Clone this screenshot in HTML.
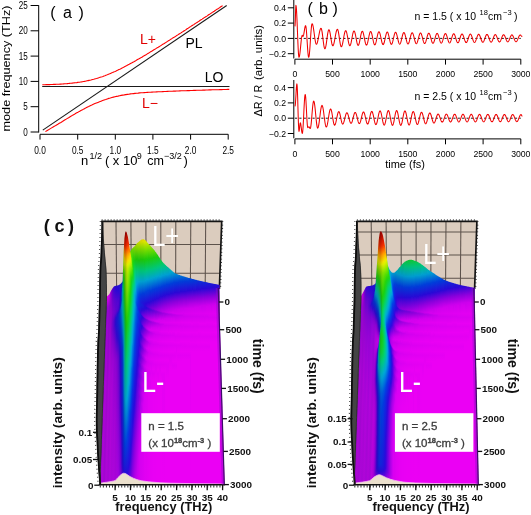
<!DOCTYPE html>
<html><head><meta charset="utf-8"><title>Figure</title>
<style>html,body{margin:0;padding:0;background:#fff}svg{display:block}</style></head>
<body>
<svg width="531" height="515" viewBox="0 0 531 515">
<defs>
<clipPath id="clipL"><path d="M99.88 479L106.38 296.25L107.12 296.25L107.62 295.75L107.88 295.75L108.38 295L108.88 294.75L109.62 293.75L110.88 291L112.38 288.5L113.88 286.5L114.12 286.5L114.62 286L115.38 286L115.62 285.75L116.38 285.75L116.62 285.5L117.62 285.5L117.88 285.25L118.38 285.25L119.38 284.75L119.88 284.25L120.12 284.25L121.62 282.75L122.38 281.5L122.62 280.5L123.62 252L124.38 238.25L125.12 233L125.38 232L125.88 231.25L126.62 232.25L127.88 236.75L130.38 251.75L131.38 249.5L132.38 248.25L132.62 248.25L133.62 247L133.88 247L134.62 246.25L137.38 242.75L137.62 242.75L141.12 239.75L141.62 239.5L142.38 239.5L142.62 239.25L143.88 239.25L144.38 239.75L145.12 240L146.12 241L148.12 243.5L149.38 244.75L149.62 244.75L149.88 245.25L154.62 250.5L155.12 251.5L156.12 252.5L156.62 253.5L157.88 255L158.62 256.5L159.12 257L160.62 259.5L163.62 263.25L164.12 263.5L164.88 264.5L165.88 265.25L166.38 266L166.62 266L167.62 267L167.88 267L169.38 268.5L169.62 268.5L170.12 269.25L170.38 269.25L171.88 270.75L172.12 270.75L172.62 271.5L173.38 271.75L173.62 272.25L174.62 273L175.62 273.5L176.12 273.5L177.12 274.25L177.88 274.25L178.38 274.75L179.12 274.75L179.38 275L179.88 275L180.38 275.5L181.12 275.5L181.38 275.75L181.88 275.75L182.88 276.25L183.62 276.25L183.88 276.5L184.38 276.5L184.62 276.75L185.12 276.75L186.12 277.25L186.88 277.25L187.12 277.5L187.62 277.5L188.62 278L189.62 278L189.88 278.25L190.38 278.25L190.62 278.5L191.38 278.5L192.38 279L193.38 279L193.62 279.25L194.12 279.25L195.12 279.75L196.12 279.75L197.12 280.25L198.12 280.25L198.38 280.5L199.12 280.5L199.38 280.75L200.12 280.75L200.38 281L201.38 281L201.62 281.25L202.38 281.25L202.62 281.5L203.38 281.5L203.62 281.75L204.62 281.75L204.88 282L207.12 282.25L208.12 282.75L209.12 282.75L209.38 283L210.38 283L210.62 283.25L211.62 283.25L211.88 283.5L212.88 283.5L213.12 283.75L214.12 283.75L214.38 284L215.62 284L215.88 284.25L216.88 284.25L217.12 284.5L218.12 284.5L218.38 284.75L219.62 284.75L219.88 325.5L224.62 484.25L224.62 484.4L99.88 484.4Z"/></clipPath>
<linearGradient id="L99" gradientUnits="userSpaceOnUse" x1="0" x2="0" y1="470.5" y2="486.5"><stop offset="0" stop-color="#9c07ce"/><stop offset="1" stop-color="#9d07ce"/></linearGradient>
<linearGradient id="L100" gradientUnits="userSpaceOnUse" x1="0" x2="0" y1="442.5" y2="486.5"><stop offset="0" stop-color="#9c07ce"/><stop offset="1" stop-color="#9e07ce"/></linearGradient>
<linearGradient id="L101" gradientUnits="userSpaceOnUse" x1="0" x2="0" y1="414.5" y2="486.5"><stop offset="0" stop-color="#9c07ce"/><stop offset=".611" stop-color="#9c07ce"/><stop offset="1" stop-color="#a906d4"/></linearGradient>
<linearGradient id="L102" gradientUnits="userSpaceOnUse" x1="0" x2="0" y1="386.5" y2="486.5"><stop offset="0" stop-color="#9d07ce"/><stop offset=".43" stop-color="#9d07ce"/><stop offset=".79" stop-color="#ac05d5"/><stop offset="1" stop-color="#ac05d6"/></linearGradient>
<linearGradient id="L103" gradientUnits="userSpaceOnUse" x1="0" x2="0" y1="358.5" y2="486.5"><stop offset="0" stop-color="#9a07cd"/><stop offset=".328" stop-color="#9d07ce"/><stop offset=".609" stop-color="#ac05d5"/><stop offset="1" stop-color="#a206d1"/></linearGradient>
<linearGradient id="L104" gradientUnits="userSpaceOnUse" x1="0" x2="0" y1="329.5" y2="486.5"><stop offset="0" stop-color="#9007cc"/><stop offset=".191" stop-color="#9307cc"/><stop offset=".497" stop-color="#ac05d4"/><stop offset=".815" stop-color="#9f06ce"/><stop offset="1" stop-color="#a406d2"/></linearGradient>
<linearGradient id="L105" gradientUnits="userSpaceOnUse" x1="0" x2="0" y1="302.5" y2="486.5"><stop offset="0" stop-color="#8507ca"/><stop offset=".223" stop-color="#8f06cb"/><stop offset=".44" stop-color="#ac05d4"/><stop offset=".755" stop-color="#9f06ce"/><stop offset="1" stop-color="#ae05d7"/></linearGradient>
<linearGradient id="L106" gradientUnits="userSpaceOnUse" x1="0" x2="0" y1="295.5" y2="486.5"><stop offset="0" stop-color="#da01ec"/><stop offset=".01" stop-color="#d801eb"/><stop offset=".068" stop-color="#8207c8"/><stop offset=".241" stop-color="#9e05d2"/><stop offset=".346" stop-color="#a605d4"/><stop offset=".602" stop-color="#9f06ce"/><stop offset=".827" stop-color="#ad05d6"/><stop offset="1" stop-color="#ac05d7"/></linearGradient>
<linearGradient id="L107" gradientUnits="userSpaceOnUse" x1="0" x2="0" y1="294.5" y2="486.5"><stop offset="0" stop-color="#e100ee"/><stop offset=".01" stop-color="#e000ed"/><stop offset=".062" stop-color="#9905d1"/><stop offset=".073" stop-color="#9306cf"/><stop offset=".182" stop-color="#9d05d1"/><stop offset=".38" stop-color="#9b06cd"/><stop offset=".708" stop-color="#ae05d6"/><stop offset="1" stop-color="#a606d4"/></linearGradient>
<linearGradient id="L108" gradientUnits="userSpaceOnUse" x1="0" x2="0" y1="293.5" y2="486.5"><stop offset="0" stop-color="#d700e9"/><stop offset=".016" stop-color="#d400e8"/><stop offset=".067" stop-color="#9904d0"/><stop offset=".093" stop-color="#9405ce"/><stop offset=".249" stop-color="#9406cc"/><stop offset=".503" stop-color="#ad04d6"/><stop offset=".824" stop-color="#a406d1"/><stop offset="1" stop-color="#aa05d6"/></linearGradient>
<linearGradient id="L109" gradientUnits="userSpaceOnUse" x1="0" x2="0" y1="291.5" y2="486.5"><stop offset="0" stop-color="#c700e2"/><stop offset=".021" stop-color="#c400e1"/><stop offset=".072" stop-color="#8e05ca"/><stop offset=".082" stop-color="#8c05c9"/><stop offset=".385" stop-color="#aa04d5"/><stop offset=".662" stop-color="#a405d1"/><stop offset="1" stop-color="#b004da"/></linearGradient>
<linearGradient id="L110" gradientUnits="userSpaceOnUse" x1="0" x2="0" y1="289.5" y2="486.5"><stop offset="0" stop-color="#a200d6"/><stop offset=".015" stop-color="#a400d7"/><stop offset=".081" stop-color="#8c04cb"/><stop offset=".371" stop-color="#a304d2"/><stop offset=".777" stop-color="#b004d8"/><stop offset="1" stop-color="#ac05d7"/></linearGradient>
<linearGradient id="L111" gradientUnits="userSpaceOnUse" x1="0" x2="0" y1="288.5" y2="486.5"><stop offset="0" stop-color="#7c00cf"/><stop offset=".136" stop-color="#8b03cd"/><stop offset=".202" stop-color="#8203ca"/><stop offset=".364" stop-color="#9c05d0"/><stop offset=".54" stop-color="#aa04d6"/><stop offset="1" stop-color="#a805d6"/></linearGradient>
<linearGradient id="L112" gradientUnits="userSpaceOnUse" x1="0" x2="0" y1="286.5" y2="486.5"><stop offset="0" stop-color="#5703cc"/><stop offset=".13" stop-color="#7e03cb"/><stop offset=".185" stop-color="#6f04ca"/><stop offset=".21" stop-color="#7004cb"/><stop offset=".34" stop-color="#9703d2"/><stop offset=".44" stop-color="#a403d6"/><stop offset="1" stop-color="#ac04d8"/></linearGradient>
<linearGradient id="L113" gradientUnits="userSpaceOnUse" x1="0" x2="0" y1="285.5" y2="486.5"><stop offset="0" stop-color="#3906ce"/><stop offset=".075" stop-color="#6404ce"/><stop offset=".129" stop-color="#7403cf"/><stop offset=".149" stop-color="#7203ce"/><stop offset=".179" stop-color="#5d04cc"/><stop offset=".214" stop-color="#5e04cc"/><stop offset=".279" stop-color="#7c03ce"/><stop offset=".373" stop-color="#9903d3"/><stop offset="1" stop-color="#ad04da"/></linearGradient>
<linearGradient id="L114" gradientUnits="userSpaceOnUse" x1="0" x2="0" y1="285.5" y2="486.5"><stop offset="0" stop-color="#2c07d1"/><stop offset=".07" stop-color="#5805d1"/><stop offset=".119" stop-color="#6b04d0"/><stop offset=".139" stop-color="#6a04cf"/><stop offset=".174" stop-color="#4506cb"/><stop offset=".199" stop-color="#4406cb"/><stop offset=".289" stop-color="#7404cc"/><stop offset=".368" stop-color="#9004d0"/><stop offset=".731" stop-color="#a803d7"/><stop offset="1" stop-color="#a805d7"/></linearGradient>
<linearGradient id="L115" gradientUnits="userSpaceOnUse" x1="0" x2="0" y1="284.5" y2="486.5"><stop offset="0" stop-color="#2608d2"/><stop offset=".015" stop-color="#2907d2"/><stop offset=".079" stop-color="#5705d0"/><stop offset=".134" stop-color="#6404ce"/><stop offset=".144" stop-color="#5c05cd"/><stop offset=".163" stop-color="#3808ca"/><stop offset=".173" stop-color="#2e0aca"/><stop offset=".198" stop-color="#2b0bcb"/><stop offset=".337" stop-color="#7c03ce"/><stop offset=".371" stop-color="#8a03d0"/><stop offset=".411" stop-color="#9003d2"/><stop offset=".639" stop-color="#9f03d4"/><stop offset="1" stop-color="#a604d6"/></linearGradient>
<linearGradient id="L116" gradientUnits="userSpaceOnUse" x1="0" x2="0" y1="284.5" y2="486.5"><stop offset="0" stop-color="#250ad2"/><stop offset=".025" stop-color="#2c07d1"/><stop offset=".074" stop-color="#4f06d1"/><stop offset=".119" stop-color="#5b05d0"/><stop offset=".134" stop-color="#5505cf"/><stop offset=".163" stop-color="#2111ce"/><stop offset=".198" stop-color="#1f13cd"/><stop offset=".248" stop-color="#3208cc"/><stop offset=".361" stop-color="#7f03d0"/><stop offset=".426" stop-color="#8a02d0"/><stop offset="1" stop-color="#aa03db"/></linearGradient>
<linearGradient id="L117" gradientUnits="userSpaceOnUse" x1="0" x2="0" y1="284.5" y2="486.5"><stop offset="0" stop-color="#230dd2"/><stop offset=".025" stop-color="#2a08d3"/><stop offset=".094" stop-color="#5605d2"/><stop offset=".129" stop-color="#5005d0"/><stop offset=".144" stop-color="#290ccc"/><stop offset=".153" stop-color="#1b16cc"/><stop offset=".188" stop-color="#161ccd"/><stop offset=".262" stop-color="#2d0acb"/><stop offset=".342" stop-color="#6704cc"/><stop offset=".381" stop-color="#7803cd"/><stop offset="1" stop-color="#a902dd"/></linearGradient>
<linearGradient id="L118" gradientUnits="userSpaceOnUse" x1="0" x2="0" y1="283.5" y2="486.5"><stop offset="0" stop-color="#210fd1"/><stop offset=".03" stop-color="#2808d2"/><stop offset=".074" stop-color="#4806d0"/><stop offset=".099" stop-color="#5005cf"/><stop offset=".123" stop-color="#4606cc"/><stop offset=".133" stop-color="#3708cb"/><stop offset=".143" stop-color="#1a18ca"/><stop offset=".153" stop-color="#1024ca"/><stop offset=".187" stop-color="#0e26cc"/><stop offset=".276" stop-color="#2410cb"/><stop offset=".365" stop-color="#6204cb"/><stop offset="1" stop-color="#a401dd"/></linearGradient>
<linearGradient id="L119" gradientUnits="userSpaceOnUse" x1="0" x2="0" y1="283.5" y2="486.5"><stop offset="0" stop-color="#1e14d0"/><stop offset=".084" stop-color="#3d06ca"/><stop offset=".118" stop-color="#2b0bc8"/><stop offset=".138" stop-color="#082dc8"/><stop offset=".153" stop-color="#0337c9"/><stop offset=".177" stop-color="#0334cb"/><stop offset=".291" stop-color="#1b15ca"/><stop offset=".355" stop-color="#3b06c9"/><stop offset=".463" stop-color="#5205cb"/><stop offset=".591" stop-color="#5d04cc"/><stop offset=".837" stop-color="#8601d2"/><stop offset=".897" stop-color="#8800d3"/><stop offset="1" stop-color="#9800dc"/></linearGradient>
<linearGradient id="L120" gradientUnits="userSpaceOnUse" x1="0" x2="0" y1="282.5" y2="486.5"><stop offset="0" stop-color="#1819ce"/><stop offset=".059" stop-color="#2110c7"/><stop offset=".108" stop-color="#141dc4"/><stop offset=".113" stop-color="#1220c4"/><stop offset=".132" stop-color="#004ec4"/><stop offset=".142" stop-color="#0051c4"/><stop offset=".225" stop-color="#0236c8"/><stop offset=".338" stop-color="#1f12c8"/><stop offset=".377" stop-color="#240dc8"/><stop offset=".569" stop-color="#3806c9"/><stop offset=".721" stop-color="#5a03cd"/><stop offset=".926" stop-color="#7600d1"/><stop offset=".961" stop-color="#8400d9"/><stop offset="1" stop-color="#8500da"/></linearGradient>
<linearGradient id="L121" gradientUnits="userSpaceOnUse" x1="0" x2="0" y1="280.5" y2="486.5"><stop offset="0" stop-color="#12c"/><stop offset=".034" stop-color="#1220c7"/><stop offset=".049" stop-color="#0d2ac4"/><stop offset=".063" stop-color="#0743c0"/><stop offset=".087" stop-color="#004abf"/><stop offset=".097" stop-color="#0143c0"/><stop offset=".121" stop-color="#0074bc"/><stop offset=".131" stop-color="#007abd"/><stop offset=".267" stop-color="#013bc6"/><stop offset=".345" stop-color="#1120c7"/><stop offset=".68" stop-color="#280ac7"/><stop offset=".845" stop-color="#4a04ca"/><stop offset=".888" stop-color="#4b04ca"/><stop offset=".947" stop-color="#6302ce"/><stop offset=".956" stop-color="#6c02d6"/><stop offset="1" stop-color="#6c02d8"/></linearGradient>
<linearGradient id="L122" gradientUnits="userSpaceOnUse" x1="0" x2="0" y1="266.5" y2="486.5"><stop offset="0" stop-color="#116d80"/><stop offset=".041" stop-color="#106d81"/><stop offset=".077" stop-color="#066d90"/><stop offset=".086" stop-color="#038a86"/><stop offset=".095" stop-color="#018e8c"/><stop offset=".1" stop-color="#009d92"/><stop offset=".123" stop-color="#008ead"/><stop offset=".145" stop-color="#0090a2"/><stop offset=".159" stop-color="#009e97"/><stop offset=".195" stop-color="#0095ac"/><stop offset=".245" stop-color="#0082ba"/><stop offset=".368" stop-color="#013bc4"/><stop offset=".395" stop-color="#0336c4"/><stop offset=".864" stop-color="#220ec5"/><stop offset=".914" stop-color="#2e08c8"/><stop offset=".945" stop-color="#4204cc"/><stop offset=".955" stop-color="#4904d6"/><stop offset="1" stop-color="#4904d6"/></linearGradient>
<linearGradient id="L123" gradientUnits="userSpaceOnUse" x1="0" x2="0" y1="241.5" y2="486.5"><stop offset="0" stop-color="#a49200"/><stop offset=".041" stop-color="#a49900"/><stop offset=".049" stop-color="#a4a900"/><stop offset=".057" stop-color="#a4a900"/><stop offset=".061" stop-color="#a0b600"/><stop offset=".082" stop-color="#97c000"/><stop offset=".098" stop-color="#82c201"/><stop offset=".102" stop-color="#72c001"/><stop offset=".11" stop-color="#6dc001"/><stop offset=".114" stop-color="#5cbd02"/><stop offset=".127" stop-color="#45b905"/><stop offset=".131" stop-color="#34b507"/><stop offset=".139" stop-color="#2bb309"/><stop offset=".159" stop-color="#10af26"/><stop offset=".184" stop-color="#05ae53"/><stop offset=".208" stop-color="#04ab5f"/><stop offset=".216" stop-color="#05ae51"/><stop offset=".224" stop-color="#06ae4f"/><stop offset=".269" stop-color="#01a972"/><stop offset=".278" stop-color="#01a971"/><stop offset=".322" stop-color="#009f91"/><stop offset=".371" stop-color="#008cae"/><stop offset=".408" stop-color="#0079b8"/><stop offset=".429" stop-color="#006ebb"/><stop offset=".461" stop-color="#0071ba"/><stop offset=".502" stop-color="#0061be"/><stop offset=".555" stop-color="#0063bd"/><stop offset=".629" stop-color="#0055bf"/><stop offset=".743" stop-color="#0336c4"/><stop offset=".902" stop-color="#1818ca"/><stop offset=".947" stop-color="#2808cd"/><stop offset=".955" stop-color="#2c08d4"/><stop offset="1" stop-color="#2c08d4"/></linearGradient>
<linearGradient id="L124" gradientUnits="userSpaceOnUse" x1="0" x2="0" y1="232.5" y2="486.5"><stop offset="0" stop-color="#a41000"/><stop offset=".02" stop-color="#a81200"/><stop offset=".043" stop-color="#be1c00"/><stop offset=".055" stop-color="#c92f00"/><stop offset=".063" stop-color="#d04900"/><stop offset=".075" stop-color="#d46b00"/><stop offset=".079" stop-color="#d46f00"/><stop offset=".087" stop-color="#d48a00"/><stop offset=".094" stop-color="#d39600"/><stop offset=".102" stop-color="#cbb000"/><stop offset=".11" stop-color="#c8b800"/><stop offset=".126" stop-color="#afc700"/><stop offset=".15" stop-color="#69bf01"/><stop offset=".169" stop-color="#42b804"/><stop offset=".181" stop-color="#33b507"/><stop offset=".209" stop-color="#32b509"/><stop offset=".24" stop-color="#22b20f"/><stop offset=".327" stop-color="#08ae46"/><stop offset=".335" stop-color="#08af46"/><stop offset=".409" stop-color="#00a77b"/><stop offset=".441" stop-color="#00a581"/><stop offset=".488" stop-color="#009b98"/><stop offset=".531" stop-color="#009a9d"/><stop offset=".634" stop-color="#0088ba"/><stop offset=".831" stop-color="#0137cd"/><stop offset=".894" stop-color="#0f26d0"/><stop offset=".949" stop-color="#240cd2"/><stop offset="1" stop-color="#240cd4"/></linearGradient>
<linearGradient id="L125" gradientUnits="userSpaceOnUse" x1="0" x2="0" y1="230.5" y2="486.5"><stop offset="0" stop-color="#8b0200"/><stop offset=".008" stop-color="#8c0100"/><stop offset=".051" stop-color="#c11a00"/><stop offset=".062" stop-color="#cf2800"/><stop offset=".09" stop-color="#d87500"/><stop offset=".105" stop-color="#d59800"/><stop offset=".121" stop-color="#cdbb00"/><stop offset=".137" stop-color="#b5c800"/><stop offset=".145" stop-color="#a1c700"/><stop offset=".164" stop-color="#84c500"/><stop offset=".23" stop-color="#54be02"/><stop offset=".34" stop-color="#19b30f"/><stop offset=".383" stop-color="#0eb22b"/><stop offset=".473" stop-color="#02b263"/><stop offset=".52" stop-color="#00b477"/><stop offset=".664" stop-color="#009ac6"/><stop offset=".832" stop-color="#003ed6"/><stop offset=".949" stop-color="#230ed4"/><stop offset="1" stop-color="#230ed4"/></linearGradient>
<linearGradient id="L126" gradientUnits="userSpaceOnUse" x1="0" x2="0" y1="230.5" y2="486.5"><stop offset="0" stop-color="#9c0300"/><stop offset=".012" stop-color="#a00400"/><stop offset=".047" stop-color="#d81c00"/><stop offset=".062" stop-color="#e62b00"/><stop offset=".082" stop-color="#ee6800"/><stop offset=".102" stop-color="#ec9a00"/><stop offset=".129" stop-color="#dbd400"/><stop offset=".137" stop-color="#d0da00"/><stop offset=".148" stop-color="#bad600"/><stop offset=".172" stop-color="#a0d400"/><stop offset=".355" stop-color="#1dc309"/><stop offset=".375" stop-color="#16c214"/><stop offset=".512" stop-color="#00c475"/><stop offset=".664" stop-color="#00a1d1"/><stop offset=".824" stop-color="#003fdc"/><stop offset=".949" stop-color="#250cd6"/><stop offset="1" stop-color="#250bd4"/></linearGradient>
<linearGradient id="L127" gradientUnits="userSpaceOnUse" x1="0" x2="0" y1="232.5" y2="486.5"><stop offset="0" stop-color="#be0f00"/><stop offset=".024" stop-color="#c91400"/><stop offset=".035" stop-color="#e21f00"/><stop offset=".047" stop-color="#f02b00"/><stop offset=".059" stop-color="#fa4d00"/><stop offset=".063" stop-color="#f95000"/><stop offset=".087" stop-color="#fe9d00"/><stop offset=".11" stop-color="#f5d400"/><stop offset=".126" stop-color="#e2eb00"/><stop offset=".142" stop-color="#c4e800"/><stop offset=".165" stop-color="#a7e400"/><stop offset=".331" stop-color="#25cf09"/><stop offset=".358" stop-color="#17cc15"/><stop offset=".398" stop-color="#0fcd39"/><stop offset=".5" stop-color="#00c97f"/><stop offset=".614" stop-color="#00aec8"/><stop offset=".646" stop-color="#00a2d6"/><stop offset=".795" stop-color="#0141e0"/><stop offset=".949" stop-color="#2a08d8"/><stop offset="1" stop-color="#2b08d4"/></linearGradient>
<linearGradient id="L128" gradientUnits="userSpaceOnUse" x1="0" x2="0" y1="235.5" y2="486.5"><stop offset="0" stop-color="#e32300"/><stop offset=".028" stop-color="#ea2700"/><stop offset=".04" stop-color="#f74200"/><stop offset=".052" stop-color="#fe6800"/><stop offset=".084" stop-color="#febf00"/><stop offset=".088" stop-color="#fec100"/><stop offset=".1" stop-color="#f6e100"/><stop offset=".116" stop-color="#d8f100"/><stop offset=".131" stop-color="#b6ed00"/><stop offset=".159" stop-color="#90e800"/><stop offset=".215" stop-color="#65e102"/><stop offset=".231" stop-color="#51de05"/><stop offset=".315" stop-color="#1cd211"/><stop offset=".371" stop-color="#0fd03a"/><stop offset=".398" stop-color="#08d156"/><stop offset=".49" stop-color="#00c692"/><stop offset=".51" stop-color="#00bfa5"/><stop offset=".586" stop-color="#00afcb"/><stop offset=".61" stop-color="#00a2d9"/><stop offset=".713" stop-color="#005ee0"/><stop offset=".789" stop-color="#0636e1"/><stop offset=".924" stop-color="#250ddb"/><stop offset=".952" stop-color="#4006da"/><stop offset="1" stop-color="#4005d5"/></linearGradient>
<linearGradient id="L129" gradientUnits="userSpaceOnUse" x1="0" x2="0" y1="241.5" y2="486.5"><stop offset="0" stop-color="#fe8100"/><stop offset=".008" stop-color="#fe8100"/><stop offset=".016" stop-color="#fc7600"/><stop offset=".029" stop-color="#ff8d00"/><stop offset=".037" stop-color="#ff8000"/><stop offset=".041" stop-color="#ff8600"/><stop offset=".049" stop-color="#ffb100"/><stop offset=".065" stop-color="#f9d600"/><stop offset=".082" stop-color="#e9eb00"/><stop offset=".09" stop-color="#d5f100"/><stop offset=".11" stop-color="#9eed00"/><stop offset=".127" stop-color="#82e900"/><stop offset=".155" stop-color="#62e303"/><stop offset=".176" stop-color="#58e004"/><stop offset=".224" stop-color="#2dd709"/><stop offset=".278" stop-color="#16d321"/><stop offset=".371" stop-color="#04d26a"/><stop offset=".412" stop-color="#00cb8b"/><stop offset=".486" stop-color="#00bcb2"/><stop offset=".498" stop-color="#00b6c2"/><stop offset=".58" stop-color="#009cdd"/><stop offset=".592" stop-color="#008ede"/><stop offset=".678" stop-color="#005de1"/><stop offset=".694" stop-color="#004ce3"/><stop offset=".776" stop-color="#0f2be1"/><stop offset=".906" stop-color="#2a0add"/><stop offset=".955" stop-color="#5304db"/><stop offset="1" stop-color="#5304d6"/></linearGradient>
<linearGradient id="L130" gradientUnits="userSpaceOnUse" x1="0" x2="0" y1="248.5" y2="486.5"><stop offset="0" stop-color="#7ec002"/><stop offset=".008" stop-color="#7ec002"/><stop offset=".013" stop-color="#7ec702"/><stop offset=".017" stop-color="#9ecc02"/><stop offset=".029" stop-color="#e9d900"/><stop offset=".038" stop-color="#efdf00"/><stop offset=".05" stop-color="#e2eb00"/><stop offset=".059" stop-color="#ccf100"/><stop offset=".063" stop-color="#bcf000"/><stop offset=".067" stop-color="#baf000"/><stop offset=".08" stop-color="#96ec00"/><stop offset=".105" stop-color="#5ce304"/><stop offset=".113" stop-color="#4adf06"/><stop offset=".126" stop-color="#3cdc08"/><stop offset=".181" stop-color="#21d611"/><stop offset=".223" stop-color="#14d428"/><stop offset=".261" stop-color="#0ad450"/><stop offset=".349" stop-color="#00cc8b"/><stop offset=".412" stop-color="#00bbb9"/><stop offset=".479" stop-color="#00aad4"/><stop offset=".508" stop-color="#0097de"/><stop offset=".668" stop-color="#0243e4"/><stop offset=".689" stop-color="#0735e4"/><stop offset=".765" stop-color="#191ee1"/><stop offset=".832" stop-color="#250fde"/><stop offset=".882" stop-color="#3707de"/><stop offset=".958" stop-color="#6802dc"/><stop offset="1" stop-color="#6702d8"/></linearGradient>
<linearGradient id="L131" gradientUnits="userSpaceOnUse" x1="0" x2="0" y1="247.5" y2="486.5"><stop offset="0" stop-color="#64ca01"/><stop offset=".033" stop-color="#55db04"/><stop offset=".038" stop-color="#5edf03"/><stop offset=".046" stop-color="#87e702"/><stop offset=".059" stop-color="#a1ea01"/><stop offset=".067" stop-color="#a3ee00"/><stop offset=".071" stop-color="#98ec01"/><stop offset=".075" stop-color="#99ed01"/><stop offset=".092" stop-color="#69e603"/><stop offset=".121" stop-color="#34da09"/><stop offset=".126" stop-color="#28d810"/><stop offset=".142" stop-color="#16d522"/><stop offset=".268" stop-color="#03d274"/><stop offset=".301" stop-color="#00c995"/><stop offset=".385" stop-color="#00b7c2"/><stop offset=".402" stop-color="#00afd0"/><stop offset=".431" stop-color="#00a2db"/><stop offset=".494" stop-color="#0085e0"/><stop offset=".506" stop-color="#0075e1"/><stop offset=".628" stop-color="#033ee4"/><stop offset=".69" stop-color="#1325e2"/><stop offset=".82" stop-color="#3208de"/><stop offset=".962" stop-color="#7e00dc"/><stop offset="1" stop-color="#7c00d9"/></linearGradient>
<linearGradient id="L132" gradientUnits="userSpaceOnUse" x1="0" x2="0" y1="246.5" y2="486.5"><stop offset="0" stop-color="#74d100"/><stop offset=".008" stop-color="#73d100"/><stop offset=".042" stop-color="#3fd506"/><stop offset=".05" stop-color="#38d607"/><stop offset=".067" stop-color="#33d909"/><stop offset=".092" stop-color="#4de008"/><stop offset=".1" stop-color="#40dd07"/><stop offset=".108" stop-color="#3edd07"/><stop offset=".129" stop-color="#1cd61f"/><stop offset=".163" stop-color="#08d55a"/><stop offset=".254" stop-color="#00c79d"/><stop offset=".296" stop-color="#00c0ae"/><stop offset=".308" stop-color="#00b9bf"/><stop offset=".375" stop-color="#00a3da"/><stop offset=".4" stop-color="#009add"/><stop offset=".417" stop-color="#0086e0"/><stop offset=".496" stop-color="#0061e3"/><stop offset=".517" stop-color="#0050e4"/><stop offset=".579" stop-color="#053ce4"/><stop offset=".596" stop-color="#0b30e3"/><stop offset=".675" stop-color="#1b1ae0"/><stop offset=".733" stop-color="#250ede"/><stop offset=".808" stop-color="#4805de"/><stop offset=".825" stop-color="#5604df"/><stop offset=".963" stop-color="#9100e1"/><stop offset="1" stop-color="#8f00dc"/></linearGradient>
<linearGradient id="L133" gradientUnits="userSpaceOnUse" x1="0" x2="0" y1="245.5" y2="486.5"><stop offset="0" stop-color="#7ed200"/><stop offset=".008" stop-color="#7ed200"/><stop offset=".05" stop-color="#2fce08"/><stop offset=".066" stop-color="#1ad012"/><stop offset=".079" stop-color="#16d222"/><stop offset=".1" stop-color="#15d52e"/><stop offset=".104" stop-color="#10d537"/><stop offset=".116" stop-color="#11d535"/><stop offset=".137" stop-color="#0ed542"/><stop offset=".17" stop-color="#01d084"/><stop offset=".191" stop-color="#00c6a0"/><stop offset=".274" stop-color="#00b2cb"/><stop offset=".307" stop-color="#00aad4"/><stop offset=".324" stop-color="#009bdd"/><stop offset=".506" stop-color="#053be4"/><stop offset=".668" stop-color="#240fde"/><stop offset=".718" stop-color="#3208de"/><stop offset=".805" stop-color="#6502df"/><stop offset=".867" stop-color="#8000df"/><stop offset=".963" stop-color="#9f00e4"/><stop offset="1" stop-color="#9e00e0"/></linearGradient>
<linearGradient id="L134" gradientUnits="userSpaceOnUse" x1="0" x2="0" y1="244.5" y2="486.5"><stop offset="0" stop-color="#8cd200"/><stop offset=".012" stop-color="#85d200"/><stop offset=".066" stop-color="#19c910"/><stop offset=".099" stop-color="#09d051"/><stop offset=".12" stop-color="#04d26c"/><stop offset=".14" stop-color="#03d07a"/><stop offset=".145" stop-color="#01cf86"/><stop offset=".161" stop-color="#01cd8b"/><stop offset=".198" stop-color="#00b5c8"/><stop offset=".211" stop-color="#00abd3"/><stop offset=".252" stop-color="#00a8d7"/><stop offset=".421" stop-color="#0048e3"/><stop offset=".504" stop-color="#1129e2"/><stop offset=".579" stop-color="#1e17df"/><stop offset=".653" stop-color="#2c09dd"/><stop offset=".694" stop-color="#3e06de"/><stop offset=".719" stop-color="#5204de"/><stop offset=".855" stop-color="#8e00e0"/><stop offset=".967" stop-color="#ae00e7"/><stop offset="1" stop-color="#ac00e3"/></linearGradient>
<linearGradient id="L135" gradientUnits="userSpaceOnUse" x1="0" x2="0" y1="243.5" y2="486.5"><stop offset="0" stop-color="#99d200"/><stop offset=".008" stop-color="#99d200"/><stop offset=".058" stop-color="#2dc608"/><stop offset=".07" stop-color="#17c411"/><stop offset=".115" stop-color="#01cc74"/><stop offset=".132" stop-color="#00c691"/><stop offset=".16" stop-color="#00bcb6"/><stop offset=".189" stop-color="#00b3cc"/><stop offset=".214" stop-color="#0092df"/><stop offset=".243" stop-color="#0080e0"/><stop offset=".251" stop-color="#008ade"/><stop offset=".259" stop-color="#0089de"/><stop offset=".325" stop-color="#005ce1"/><stop offset=".35" stop-color="#0056e1"/><stop offset=".395" stop-color="#023ee2"/><stop offset=".551" stop-color="#2311de"/><stop offset=".609" stop-color="#2d0add"/><stop offset=".77" stop-color="#7f00df"/><stop offset=".827" stop-color="#9500e2"/><stop offset=".971" stop-color="#ba00ea"/><stop offset="1" stop-color="#b800e7"/></linearGradient>
<linearGradient id="L136" gradientUnits="userSpaceOnUse" x1="0" x2="0" y1="242.5" y2="486.5"><stop offset="0" stop-color="#aad400"/><stop offset=".008" stop-color="#a9d400"/><stop offset=".037" stop-color="#61cd02"/><stop offset=".07" stop-color="#1cc20a"/><stop offset=".094" stop-color="#0cc43f"/><stop offset=".119" stop-color="#00c675"/><stop offset=".156" stop-color="#00b0be"/><stop offset=".172" stop-color="#00a7d4"/><stop offset=".201" stop-color="#0086df"/><stop offset=".213" stop-color="#007ee1"/><stop offset=".246" stop-color="#0055e2"/><stop offset=".254" stop-color="#0055e2"/><stop offset=".266" stop-color="#0067df"/><stop offset=".291" stop-color="#0055e1"/><stop offset=".307" stop-color="#0056df"/><stop offset=".324" stop-color="#004be1"/><stop offset=".385" stop-color="#0b2fe1"/><stop offset=".537" stop-color="#280bdc"/><stop offset=".553" stop-color="#3208dd"/><stop offset=".578" stop-color="#3607dd"/><stop offset=".602" stop-color="#4805de"/><stop offset=".689" stop-color="#6f02df"/><stop offset=".824" stop-color="#a300e5"/><stop offset=".971" stop-color="#c300ec"/><stop offset="1" stop-color="#c100e9"/></linearGradient>
<linearGradient id="L137" gradientUnits="userSpaceOnUse" x1="0" x2="0" y1="241.5" y2="486.5"><stop offset="0" stop-color="#b9d700"/><stop offset=".008" stop-color="#b8d700"/><stop offset=".033" stop-color="#75d200"/><stop offset=".069" stop-color="#23c508"/><stop offset=".078" stop-color="#17c310"/><stop offset=".122" stop-color="#00c679"/><stop offset=".159" stop-color="#00adc4"/><stop offset=".171" stop-color="#00a1d6"/><stop offset=".208" stop-color="#0065e0"/><stop offset=".233" stop-color="#004ce3"/><stop offset=".261" stop-color="#0638e3"/><stop offset=".286" stop-color="#0047e2"/><stop offset=".302" stop-color="#043be3"/><stop offset=".318" stop-color="#0140e1"/><stop offset=".343" stop-color="#0b2fe1"/><stop offset=".367" stop-color="#0c2ee0"/><stop offset=".392" stop-color="#1622e0"/><stop offset=".461" stop-color="#2113de"/><stop offset=".502" stop-color="#2c09dc"/><stop offset=".518" stop-color="#3a06dd"/><stop offset=".543" stop-color="#3d06dd"/><stop offset=".567" stop-color="#5205de"/><stop offset=".784" stop-color="#a600e6"/><stop offset=".918" stop-color="#c500ed"/><stop offset="1" stop-color="#ca00ec"/></linearGradient>
<linearGradient id="L138" gradientUnits="userSpaceOnUse" x1="0" x2="0" y1="240.5" y2="486.5"><stop offset="0" stop-color="#c5d900"/><stop offset=".008" stop-color="#c5d900"/><stop offset=".041" stop-color="#6ed200"/><stop offset=".081" stop-color="#17c210"/><stop offset=".122" stop-color="#01c570"/><stop offset=".167" stop-color="#00a6ce"/><stop offset=".22" stop-color="#004be0"/><stop offset=".232" stop-color="#023de2"/><stop offset=".276" stop-color="#1424e1"/><stop offset=".28" stop-color="#1523e1"/><stop offset=".289" stop-color="#0735e2"/><stop offset=".293" stop-color="#0636e1"/><stop offset=".313" stop-color="#1128e1"/><stop offset=".329" stop-color="#0a30df"/><stop offset=".358" stop-color="#181fe0"/><stop offset=".378" stop-color="#1621de"/><stop offset=".402" stop-color="#2112de"/><stop offset=".423" stop-color="#2014dd"/><stop offset=".447" stop-color="#2c09dd"/><stop offset=".467" stop-color="#2e08dc"/><stop offset=".488" stop-color="#4505de"/><stop offset=".508" stop-color="#4206dd"/><stop offset=".528" stop-color="#5704df"/><stop offset=".545" stop-color="#5704de"/><stop offset=".569" stop-color="#6b02df"/><stop offset=".589" stop-color="#6902de"/><stop offset=".614" stop-color="#7d01e0"/><stop offset=".634" stop-color="#7c01df"/><stop offset=".744" stop-color="#a800e6"/><stop offset=".874" stop-color="#c800ee"/><stop offset="1" stop-color="#d100ee"/></linearGradient>
<linearGradient id="L139" gradientUnits="userSpaceOnUse" x1="0" x2="0" y1="239.5" y2="486.5"><stop offset="0" stop-color="#d0da00"/><stop offset=".012" stop-color="#c9d900"/><stop offset=".04" stop-color="#79d300"/><stop offset=".085" stop-color="#18c210"/><stop offset=".126" stop-color="#00c370"/><stop offset=".17" stop-color="#00a2ce"/><stop offset=".219" stop-color="#0045dc"/><stop offset=".239" stop-color="#0b2fde"/><stop offset=".263" stop-color="#1028db"/><stop offset=".287" stop-color="#2113de"/><stop offset=".3" stop-color="#1127de"/><stop offset=".324" stop-color="#1d18df"/><stop offset=".336" stop-color="#1423de"/><stop offset=".368" stop-color="#240fde"/><stop offset=".385" stop-color="#1f15dc"/><stop offset=".409" stop-color="#3008dd"/><stop offset=".429" stop-color="#2b09dc"/><stop offset=".453" stop-color="#4b05de"/><stop offset=".47" stop-color="#4106dc"/><stop offset=".494" stop-color="#5f03df"/><stop offset=".51" stop-color="#5a04de"/><stop offset=".534" stop-color="#7402e0"/><stop offset=".555" stop-color="#6e02de"/><stop offset=".575" stop-color="#8300e0"/><stop offset=".595" stop-color="#8100df"/><stop offset=".619" stop-color="#9200e2"/><stop offset=".636" stop-color="#8d00e0"/><stop offset=".66" stop-color="#9f00e5"/><stop offset=".68" stop-color="#9d00e4"/><stop offset=".745" stop-color="#b700ea"/><stop offset=".874" stop-color="#d200f1"/><stop offset="1" stop-color="#d400ee"/></linearGradient>
<linearGradient id="L140" gradientUnits="userSpaceOnUse" x1="0" x2="0" y1="238.5" y2="486.5"><stop offset="0" stop-color="#d7d800"/><stop offset=".012" stop-color="#d4d900"/><stop offset=".048" stop-color="#6fd200"/><stop offset=".085" stop-color="#1ec20a"/><stop offset=".129" stop-color="#00c271"/><stop offset=".173" stop-color="#00a0ce"/><stop offset=".226" stop-color="#013bdb"/><stop offset=".254" stop-color="#1620db"/><stop offset=".27" stop-color="#1422d9"/><stop offset=".298" stop-color="#3008dc"/><stop offset=".306" stop-color="#1b1bdd"/><stop offset=".31" stop-color="#1a1cdd"/><stop offset=".335" stop-color="#2a0bde"/><stop offset=".343" stop-color="#1e17dd"/><stop offset=".351" stop-color="#1e15dc"/><stop offset=".375" stop-color="#3807de"/><stop offset=".391" stop-color="#280adb"/><stop offset=".419" stop-color="#5204df"/><stop offset=".435" stop-color="#3f06dc"/><stop offset=".46" stop-color="#6503df"/><stop offset=".48" stop-color="#5e03de"/><stop offset=".5" stop-color="#7b01e0"/><stop offset=".516" stop-color="#7002de"/><stop offset=".54" stop-color="#8c00e1"/><stop offset=".56" stop-color="#8500e0"/><stop offset=".581" stop-color="#9900e4"/><stop offset=".601" stop-color="#9200e2"/><stop offset=".625" stop-color="#a600e7"/><stop offset=".641" stop-color="#a100e5"/><stop offset=".706" stop-color="#bb00ec"/><stop offset=".726" stop-color="#b900eb"/><stop offset=".75" stop-color="#c600ee"/><stop offset=".839" stop-color="#d600f1"/><stop offset="1" stop-color="#d700ef"/></linearGradient>
<linearGradient id="L141" gradientUnits="userSpaceOnUse" x1="0" x2="0" y1="238.5" y2="486.5"><stop offset="0" stop-color="#ddd600"/><stop offset=".008" stop-color="#ddd600"/><stop offset=".016" stop-color="#ccdb00"/><stop offset=".044" stop-color="#7bd400"/><stop offset=".085" stop-color="#1ec20a"/><stop offset=".129" stop-color="#00c271"/><stop offset=".173" stop-color="#009fcd"/><stop offset=".226" stop-color="#0338d9"/><stop offset=".258" stop-color="#1b1ad9"/><stop offset=".27" stop-color="#161fd8"/><stop offset=".282" stop-color="#1f13d8"/><stop offset=".29" stop-color="#280ad9"/><stop offset=".302" stop-color="#4605dc"/><stop offset=".306" stop-color="#4606dd"/><stop offset=".31" stop-color="#2412db"/><stop offset=".315" stop-color="#2112dc"/><stop offset=".323" stop-color="#280bdc"/><stop offset=".339" stop-color="#4505de"/><stop offset=".343" stop-color="#4007de"/><stop offset=".351" stop-color="#250edc"/><stop offset=".355" stop-color="#260cdc"/><stop offset=".363" stop-color="#2f08dc"/><stop offset=".375" stop-color="#4d05de"/><stop offset=".383" stop-color="#5804df"/><stop offset=".391" stop-color="#3f06dd"/><stop offset=".399" stop-color="#3e06dd"/><stop offset=".423" stop-color="#6e02e0"/><stop offset=".44" stop-color="#5b04de"/><stop offset=".464" stop-color="#8100e0"/><stop offset=".48" stop-color="#7401df"/><stop offset=".508" stop-color="#9400e3"/><stop offset=".524" stop-color="#8900e0"/><stop offset=".544" stop-color="#a000e6"/><stop offset=".56" stop-color="#9700e3"/><stop offset=".585" stop-color="#ac00e8"/><stop offset=".605" stop-color="#a600e7"/><stop offset=".625" stop-color="#b600ea"/><stop offset=".645" stop-color="#b200e9"/><stop offset=".665" stop-color="#c000ed"/><stop offset=".685" stop-color="#bc00ec"/><stop offset=".706" stop-color="#c700ee"/><stop offset=".794" stop-color="#d700f2"/><stop offset="1" stop-color="#d900f0"/></linearGradient>
<linearGradient id="L142" gradientUnits="userSpaceOnUse" x1="0" x2="0" y1="238.5" y2="486.5"><stop offset="0" stop-color="#e1d500"/><stop offset=".012" stop-color="#d8dd00"/><stop offset=".04" stop-color="#86d700"/><stop offset=".085" stop-color="#1dc309"/><stop offset=".129" stop-color="#00c371"/><stop offset=".173" stop-color="#009dce"/><stop offset=".222" stop-color="#013bd9"/><stop offset=".258" stop-color="#1d16d8"/><stop offset=".27" stop-color="#1a1bd9"/><stop offset=".282" stop-color="#2210d8"/><stop offset=".29" stop-color="#2d08d9"/><stop offset=".298" stop-color="#4705db"/><stop offset=".306" stop-color="#5d03dc"/><stop offset=".31" stop-color="#5904dd"/><stop offset=".315" stop-color="#3309dc"/><stop offset=".319" stop-color="#2a09db"/><stop offset=".339" stop-color="#5804de"/><stop offset=".347" stop-color="#6103df"/><stop offset=".351" stop-color="#4705dd"/><stop offset=".355" stop-color="#3807dc"/><stop offset=".359" stop-color="#3907dc"/><stop offset=".387" stop-color="#7302e0"/><stop offset=".399" stop-color="#5804de"/><stop offset=".427" stop-color="#8700e0"/><stop offset=".444" stop-color="#7301df"/><stop offset=".472" stop-color="#9b00e4"/><stop offset=".484" stop-color="#8900e0"/><stop offset=".508" stop-color="#a700e7"/><stop offset=".524" stop-color="#9b00e4"/><stop offset=".548" stop-color="#b300ea"/><stop offset=".569" stop-color="#ab00e8"/><stop offset=".589" stop-color="#bd00ec"/><stop offset=".605" stop-color="#b600ea"/><stop offset=".629" stop-color="#c700ef"/><stop offset=".649" stop-color="#c100ed"/><stop offset=".669" stop-color="#cd00f0"/><stop offset=".69" stop-color="#ca00ef"/><stop offset=".71" stop-color="#d400f2"/><stop offset=".758" stop-color="#d800f2"/><stop offset="1" stop-color="#dc00f0"/></linearGradient>
<linearGradient id="L143" gradientUnits="userSpaceOnUse" x1="0" x2="0" y1="238.5" y2="486.5"><stop offset="0" stop-color="#e4d800"/><stop offset=".012" stop-color="#dbe000"/><stop offset=".044" stop-color="#7cd800"/><stop offset=".085" stop-color="#1dc50a"/><stop offset=".133" stop-color="#00c07c"/><stop offset=".173" stop-color="#009ece"/><stop offset=".222" stop-color="#013ad9"/><stop offset=".262" stop-color="#2111d7"/><stop offset=".274" stop-color="#1e16d8"/><stop offset=".282" stop-color="#230ed8"/><stop offset=".29" stop-color="#3107d8"/><stop offset=".306" stop-color="#6502dc"/><stop offset=".31" stop-color="#6e02dd"/><stop offset=".315" stop-color="#6902dd"/><stop offset=".319" stop-color="#4105db"/><stop offset=".323" stop-color="#3d06db"/><stop offset=".343" stop-color="#6f02df"/><stop offset=".351" stop-color="#7a01e0"/><stop offset=".355" stop-color="#6c02df"/><stop offset=".359" stop-color="#5104dd"/><stop offset=".363" stop-color="#5104dd"/><stop offset=".391" stop-color="#8b00e1"/><stop offset=".395" stop-color="#8800e1"/><stop offset=".403" stop-color="#7202df"/><stop offset=".407" stop-color="#7302df"/><stop offset=".431" stop-color="#9e00e5"/><stop offset=".435" stop-color="#9e00e5"/><stop offset=".448" stop-color="#8800e0"/><stop offset=".472" stop-color="#ac00e8"/><stop offset=".488" stop-color="#9c00e4"/><stop offset=".512" stop-color="#ba00ec"/><stop offset=".528" stop-color="#ad00e8"/><stop offset=".552" stop-color="#c500ee"/><stop offset=".573" stop-color="#bc00ec"/><stop offset=".593" stop-color="#ce00f0"/><stop offset=".609" stop-color="#c400ee"/><stop offset=".629" stop-color="#d200f1"/><stop offset=".649" stop-color="#ce00f0"/><stop offset=".669" stop-color="#d700f2"/><stop offset="1" stop-color="#de00f1"/></linearGradient>
<linearGradient id="L144" gradientUnits="userSpaceOnUse" x1="0" x2="0" y1="238.5" y2="486.5"><stop offset="0" stop-color="#e5e000"/><stop offset=".008" stop-color="#e5df00"/><stop offset=".016" stop-color="#d3e400"/><stop offset=".044" stop-color="#7ddb00"/><stop offset=".085" stop-color="#1ec70b"/><stop offset=".093" stop-color="#15c618"/><stop offset=".133" stop-color="#00c27c"/><stop offset=".161" stop-color="#00aabc"/><stop offset=".173" stop-color="#009cd0"/><stop offset=".222" stop-color="#0239da"/><stop offset=".262" stop-color="#240ed7"/><stop offset=".282" stop-color="#250cd7"/><stop offset=".29" stop-color="#3507d8"/><stop offset=".306" stop-color="#6b02dc"/><stop offset=".315" stop-color="#8000dd"/><stop offset=".319" stop-color="#7301dd"/><stop offset=".323" stop-color="#5104db"/><stop offset=".327" stop-color="#5304dc"/><stop offset=".347" stop-color="#8500df"/><stop offset=".355" stop-color="#9000e1"/><stop offset=".363" stop-color="#6b02de"/><stop offset=".367" stop-color="#6902de"/><stop offset=".395" stop-color="#a100e6"/><stop offset=".399" stop-color="#9e00e5"/><stop offset=".407" stop-color="#8400df"/><stop offset=".435" stop-color="#b000e9"/><stop offset=".44" stop-color="#b000e9"/><stop offset=".452" stop-color="#9c00e4"/><stop offset=".476" stop-color="#be00ed"/><stop offset=".492" stop-color="#ae00e8"/><stop offset=".516" stop-color="#ca00ef"/><stop offset=".532" stop-color="#bd00ec"/><stop offset=".556" stop-color="#d200f1"/><stop offset=".573" stop-color="#c700ee"/><stop offset=".593" stop-color="#d600f2"/><stop offset=".613" stop-color="#d100f0"/><stop offset=".633" stop-color="#d900f2"/><stop offset=".847" stop-color="#e200f3"/><stop offset="1" stop-color="#df00f1"/></linearGradient>
<linearGradient id="L145" gradientUnits="userSpaceOnUse" x1="0" x2="0" y1="239.5" y2="486.5"><stop offset="0" stop-color="#e0e500"/><stop offset=".008" stop-color="#dde500"/><stop offset=".045" stop-color="#71db00"/><stop offset=".077" stop-color="#24ca09"/><stop offset=".085" stop-color="#17c814"/><stop offset=".126" stop-color="#00c676"/><stop offset=".166" stop-color="#00a2cf"/><stop offset=".211" stop-color="#0043da"/><stop offset=".259" stop-color="#250bd7"/><stop offset=".267" stop-color="#2e07d7"/><stop offset=".271" stop-color="#270cd7"/><stop offset=".279" stop-color="#270ad7"/><stop offset=".308" stop-color="#7e00dc"/><stop offset=".316" stop-color="#8e00df"/><stop offset=".324" stop-color="#6003dc"/><stop offset=".332" stop-color="#6d02dd"/><stop offset=".352" stop-color="#a000e4"/><stop offset=".356" stop-color="#a200e5"/><stop offset=".364" stop-color="#7d01de"/><stop offset=".368" stop-color="#7d01de"/><stop offset=".397" stop-color="#b300ea"/><stop offset=".409" stop-color="#9700e2"/><stop offset=".437" stop-color="#c200ed"/><stop offset=".449" stop-color="#ac00e7"/><stop offset=".453" stop-color="#ac00e8"/><stop offset=".478" stop-color="#ce00f0"/><stop offset=".494" stop-color="#bc00eb"/><stop offset=".514" stop-color="#d400f1"/><stop offset=".53" stop-color="#c800ee"/><stop offset=".555" stop-color="#d800f2"/><stop offset=".571" stop-color="#d300f1"/><stop offset=".595" stop-color="#da00f3"/><stop offset=".798" stop-color="#e200f3"/><stop offset="1" stop-color="#e100f2"/></linearGradient>
<linearGradient id="L146" gradientUnits="userSpaceOnUse" x1="0" x2="0" y1="239.5" y2="486.5"><stop offset="0" stop-color="#d1e700"/><stop offset=".012" stop-color="#cfe600"/><stop offset=".045" stop-color="#6fdb01"/><stop offset=".077" stop-color="#22cb09"/><stop offset=".085" stop-color="#17c816"/><stop offset=".121" stop-color="#01c871"/><stop offset=".162" stop-color="#00a6cb"/><stop offset=".17" stop-color="#0097d2"/><stop offset=".211" stop-color="#0041da"/><stop offset=".259" stop-color="#2809d7"/><stop offset=".267" stop-color="#3606d8"/><stop offset=".271" stop-color="#3607d8"/><stop offset=".275" stop-color="#2809d7"/><stop offset=".279" stop-color="#2a08d7"/><stop offset=".316" stop-color="#9700e0"/><stop offset=".32" stop-color="#9600e1"/><stop offset=".324" stop-color="#7701dd"/><stop offset=".328" stop-color="#7002dc"/><stop offset=".356" stop-color="#b100e8"/><stop offset=".36" stop-color="#b000e9"/><stop offset=".368" stop-color="#8d00e0"/><stop offset=".377" stop-color="#9600e2"/><stop offset=".397" stop-color="#c100ed"/><stop offset=".401" stop-color="#c200ed"/><stop offset=".413" stop-color="#a700e6"/><stop offset=".441" stop-color="#d000f1"/><stop offset=".453" stop-color="#b800ea"/><stop offset=".478" stop-color="#d500f2"/><stop offset=".486" stop-color="#d400f1"/><stop offset=".494" stop-color="#c800ee"/><stop offset=".518" stop-color="#da00f2"/><stop offset=".534" stop-color="#d300f0"/><stop offset=".555" stop-color="#dc00f3"/><stop offset=".575" stop-color="#d800f2"/><stop offset=".595" stop-color="#de00f3"/><stop offset="1" stop-color="#e200f2"/></linearGradient>
<linearGradient id="L147" gradientUnits="userSpaceOnUse" x1="0" x2="0" y1="241.5" y2="486.5"><stop offset="0" stop-color="#c2e500"/><stop offset=".008" stop-color="#c1e500"/><stop offset=".037" stop-color="#6cdb01"/><stop offset=".073" stop-color="#1ac90f"/><stop offset=".114" stop-color="#01c772"/><stop offset=".155" stop-color="#00a5cd"/><stop offset=".2" stop-color="#0044da"/><stop offset=".249" stop-color="#260bd7"/><stop offset=".265" stop-color="#4405d9"/><stop offset=".273" stop-color="#3207d7"/><stop offset=".306" stop-color="#9200df"/><stop offset=".314" stop-color="#a300e4"/><stop offset=".322" stop-color="#7e01dc"/><stop offset=".331" stop-color="#8800de"/><stop offset=".351" stop-color="#bb00ea"/><stop offset=".355" stop-color="#bf00ec"/><stop offset=".359" stop-color="#b800ea"/><stop offset=".363" stop-color="#a100e4"/><stop offset=".367" stop-color="#9a00e2"/><stop offset=".396" stop-color="#ce00f0"/><stop offset=".4" stop-color="#cd00f0"/><stop offset=".408" stop-color="#b400e9"/><stop offset=".412" stop-color="#b300e9"/><stop offset=".437" stop-color="#d700f2"/><stop offset=".453" stop-color="#c400ed"/><stop offset=".478" stop-color="#da00f2"/><stop offset=".494" stop-color="#d200f0"/><stop offset=".514" stop-color="#dd00f3"/><stop offset=".535" stop-color="#d800f1"/><stop offset=".555" stop-color="#df00f3"/><stop offset="1" stop-color="#e400f2"/></linearGradient>
<linearGradient id="L148" gradientUnits="userSpaceOnUse" x1="0" x2="0" y1="242.5" y2="486.5"><stop offset="0" stop-color="#b0e200"/><stop offset=".008" stop-color="#b0e200"/><stop offset=".025" stop-color="#80de00"/><stop offset=".061" stop-color="#27cb08"/><stop offset=".074" stop-color="#15c81a"/><stop offset=".111" stop-color="#00c676"/><stop offset=".152" stop-color="#00a3ce"/><stop offset=".197" stop-color="#0042da"/><stop offset=".246" stop-color="#2809d7"/><stop offset=".262" stop-color="#4c05d9"/><stop offset=".266" stop-color="#4a05d9"/><stop offset=".27" stop-color="#3a06d8"/><stop offset=".275" stop-color="#3e06d8"/><stop offset=".311" stop-color="#aa00e5"/><stop offset=".316" stop-color="#a900e5"/><stop offset=".32" stop-color="#8d00de"/><stop offset=".324" stop-color="#80d"/><stop offset=".352" stop-color="#c700ed"/><stop offset=".357" stop-color="#c900ee"/><stop offset=".365" stop-color="#a900e5"/><stop offset=".369" stop-color="#a800e5"/><stop offset=".389" stop-color="#d000f0"/><stop offset=".398" stop-color="#d600f1"/><stop offset=".41" stop-color="#be00eb"/><stop offset=".43" stop-color="#d800f2"/><stop offset=".439" stop-color="#db00f2"/><stop offset=".451" stop-color="#ce00ef"/><stop offset=".475" stop-color="#dd00f3"/><stop offset=".492" stop-color="#d600f1"/><stop offset=".516" stop-color="#e000f3"/><stop offset=".537" stop-color="#da00f2"/><stop offset=".635" stop-color="#e400f4"/><stop offset="1" stop-color="#e400f3"/></linearGradient>
<linearGradient id="L149" gradientUnits="userSpaceOnUse" x1="0" x2="0" y1="243.5" y2="486.5"><stop offset="0" stop-color="#a1e200"/><stop offset=".008" stop-color="#a1e200"/><stop offset=".058" stop-color="#26cb09"/><stop offset=".066" stop-color="#18c813"/><stop offset=".107" stop-color="#00c677"/><stop offset=".148" stop-color="#00a0d0"/><stop offset=".193" stop-color="#003eda"/><stop offset=".243" stop-color="#2c07d7"/><stop offset=".263" stop-color="#5804d9"/><stop offset=".267" stop-color="#4805d8"/><stop offset=".272" stop-color="#4505d8"/><stop offset=".276" stop-color="#4d04d8"/><stop offset=".309" stop-color="#af00e6"/><stop offset=".313" stop-color="#b300e7"/><stop offset=".321" stop-color="#9000de"/><stop offset=".354" stop-color="#d200ef"/><stop offset=".358" stop-color="#c0e"/><stop offset=".362" stop-color="#b700e9"/><stop offset=".366" stop-color="#b100e7"/><stop offset=".387" stop-color="#d400f0"/><stop offset=".395" stop-color="#da00f2"/><stop offset=".412" stop-color="#c700ed"/><stop offset=".432" stop-color="#dc00f2"/><stop offset=".453" stop-color="#d400f0"/><stop offset=".477" stop-color="#e000f3"/><stop offset=".494" stop-color="#d900f1"/><stop offset=".514" stop-color="#e200f3"/><stop offset=".531" stop-color="#dc00f2"/><stop offset=".556" stop-color="#e400f4"/><stop offset="1" stop-color="#e600f3"/></linearGradient>
<linearGradient id="L150" gradientUnits="userSpaceOnUse" x1="0" x2="0" y1="244.5" y2="486.5"><stop offset="0" stop-color="#93e000"/><stop offset=".008" stop-color="#93e000"/><stop offset=".058" stop-color="#1cc90d"/><stop offset=".103" stop-color="#00c57a"/><stop offset=".14" stop-color="#00a5cb"/><stop offset=".149" stop-color="#0096d2"/><stop offset=".194" stop-color="#0436da"/><stop offset=".236" stop-color="#2909d7"/><stop offset=".26" stop-color="#6003da"/><stop offset=".269" stop-color="#4d05d8"/><stop offset=".273" stop-color="#5304d8"/><stop offset=".302" stop-color="#a800e4"/><stop offset=".31" stop-color="#b900e9"/><stop offset=".314" stop-color="#b200e7"/><stop offset=".318" stop-color="#9a00e1"/><stop offset=".322" stop-color="#9800e0"/><stop offset=".351" stop-color="#d500f0"/><stop offset=".355" stop-color="#d500f0"/><stop offset=".364" stop-color="#b900e9"/><stop offset=".393" stop-color="#dc00f2"/><stop offset=".409" stop-color="#ce00ee"/><stop offset=".434" stop-color="#df00f3"/><stop offset=".45" stop-color="#d700f0"/><stop offset=".475" stop-color="#e200f3"/><stop offset=".492" stop-color="#db00f1"/><stop offset=".517" stop-color="#e400f4"/><stop offset=".533" stop-color="#de00f2"/><stop offset=".554" stop-color="#e500f4"/><stop offset=".57" stop-color="#e000f2"/><stop offset=".632" stop-color="#e600f4"/><stop offset="1" stop-color="#e600f3"/></linearGradient>
<linearGradient id="L151" gradientUnits="userSpaceOnUse" x1="0" x2="0" y1="245.5" y2="486.5"><stop offset="0" stop-color="#83df00"/><stop offset=".008" stop-color="#83df00"/><stop offset=".054" stop-color="#1bc90e"/><stop offset=".1" stop-color="#00c57c"/><stop offset=".137" stop-color="#00a3ce"/><stop offset=".145" stop-color="#0094d2"/><stop offset=".187" stop-color="#023bda"/><stop offset=".232" stop-color="#2b08d7"/><stop offset=".257" stop-color="#6602da"/><stop offset=".261" stop-color="#6702da"/><stop offset=".266" stop-color="#5504d9"/><stop offset=".27" stop-color="#5704d9"/><stop offset=".307" stop-color="#bd00ea"/><stop offset=".311" stop-color="#bd00ea"/><stop offset=".315" stop-color="#a600e4"/><stop offset=".32" stop-color="#9e00e2"/><stop offset=".344" stop-color="#d300f0"/><stop offset=".353" stop-color="#d800f1"/><stop offset=".361" stop-color="#c200eb"/><stop offset=".365" stop-color="#c000ea"/><stop offset=".39" stop-color="#dd00f2"/><stop offset=".407" stop-color="#d300ef"/><stop offset=".436" stop-color="#e100f3"/><stop offset=".448" stop-color="#d800f1"/><stop offset=".473" stop-color="#e300f3"/><stop offset=".49" stop-color="#dc00f2"/><stop offset=".552" stop-color="#e600f4"/><stop offset="1" stop-color="#e700f3"/></linearGradient>
<linearGradient id="L152" gradientUnits="userSpaceOnUse" x1="0" x2="0" y1="246.5" y2="486.5"><stop offset="0" stop-color="#75dc00"/><stop offset=".013" stop-color="#6fdb01"/><stop offset=".05" stop-color="#1ac910"/><stop offset=".092" stop-color="#00c775"/><stop offset=".129" stop-color="#00a7c8"/><stop offset=".138" stop-color="#009ad2"/><stop offset=".179" stop-color="#003eda"/><stop offset=".225" stop-color="#2809d7"/><stop offset=".254" stop-color="#6c02da"/><stop offset=".258" stop-color="#7102da"/><stop offset=".267" stop-color="#5d03d9"/><stop offset=".271" stop-color="#6502d9"/><stop offset=".304" stop-color="#c100ea"/><stop offset=".308" stop-color="#c300eb"/><stop offset=".317" stop-color="#a400e3"/><stop offset=".325" stop-color="#b000e6"/><stop offset=".338" stop-color="#ce00ee"/><stop offset=".35" stop-color="#da00f1"/><stop offset=".362" stop-color="#c400eb"/><stop offset=".388" stop-color="#de00f2"/><stop offset=".408" stop-color="#d500f0"/><stop offset=".433" stop-color="#e300f3"/><stop offset=".446" stop-color="#da00f1"/><stop offset=".471" stop-color="#e400f3"/><stop offset=".487" stop-color="#de00f2"/><stop offset=".512" stop-color="#e600f4"/><stop offset=".529" stop-color="#e000f2"/><stop offset=".554" stop-color="#e700f4"/><stop offset="1" stop-color="#e800f4"/></linearGradient>
<linearGradient id="L153" gradientUnits="userSpaceOnUse" x1="0" x2="0" y1="247.5" y2="486.5"><stop offset="0" stop-color="#65da02"/><stop offset=".013" stop-color="#62d902"/><stop offset=".042" stop-color="#1eca0b"/><stop offset=".088" stop-color="#00c777"/><stop offset=".126" stop-color="#00a6ca"/><stop offset=".138" stop-color="#008dd3"/><stop offset=".176" stop-color="#013cda"/><stop offset=".222" stop-color="#2a08d7"/><stop offset=".255" stop-color="#7701db"/><stop offset=".264" stop-color="#6402da"/><stop offset=".268" stop-color="#6802da"/><stop offset=".301" stop-color="#c400eb"/><stop offset=".305" stop-color="#c900ed"/><stop offset=".314" stop-color="#aa00e4"/><stop offset=".318" stop-color="#ab00e5"/><stop offset=".335" stop-color="#d000ee"/><stop offset=".347" stop-color="#db00f1"/><stop offset=".36" stop-color="#ca00ed"/><stop offset=".389" stop-color="#e100f3"/><stop offset=".406" stop-color="#d600f0"/><stop offset=".431" stop-color="#e400f3"/><stop offset=".448" stop-color="#db00f1"/><stop offset=".469" stop-color="#e500f3"/><stop offset=".49" stop-color="#df00f2"/><stop offset=".51" stop-color="#e700f4"/><stop offset=".527" stop-color="#e100f2"/><stop offset=".552" stop-color="#e800f4"/><stop offset="1" stop-color="#e900f4"/></linearGradient>
<linearGradient id="L154" gradientUnits="userSpaceOnUse" x1="0" x2="0" y1="248.5" y2="486.5"><stop offset="0" stop-color="#59d703"/><stop offset=".013" stop-color="#57d704"/><stop offset=".038" stop-color="#1dca0d"/><stop offset=".084" stop-color="#00c67b"/><stop offset=".122" stop-color="#00a4cd"/><stop offset=".13" stop-color="#0094d3"/><stop offset=".172" stop-color="#0239da"/><stop offset=".214" stop-color="#270ad7"/><stop offset=".252" stop-color="#7d00db"/><stop offset=".256" stop-color="#7f00db"/><stop offset=".261" stop-color="#6c02da"/><stop offset=".265" stop-color="#6d02da"/><stop offset=".294" stop-color="#bd00e9"/><stop offset=".303" stop-color="#cd00ed"/><stop offset=".307" stop-color="#c700ec"/><stop offset=".311" stop-color="#b100e6"/><stop offset=".315" stop-color="#af00e5"/><stop offset=".332" stop-color="#d100ee"/><stop offset=".345" stop-color="#dc00f1"/><stop offset=".357" stop-color="#ce00ee"/><stop offset=".387" stop-color="#e200f3"/><stop offset=".403" stop-color="#d800f0"/><stop offset=".429" stop-color="#e500f3"/><stop offset=".445" stop-color="#dc00f1"/><stop offset=".471" stop-color="#e600f4"/><stop offset=".487" stop-color="#e000f2"/><stop offset=".508" stop-color="#e700f4"/><stop offset=".525" stop-color="#e200f2"/><stop offset=".55" stop-color="#e800f4"/><stop offset="1" stop-color="#e900f4"/></linearGradient>
<linearGradient id="L155" gradientUnits="userSpaceOnUse" x1="0" x2="0" y1="250.5" y2="486.5"><stop offset="0" stop-color="#48d405"/><stop offset=".008" stop-color="#48d405"/><stop offset=".03" stop-color="#1bcb0e"/><stop offset=".076" stop-color="#00c67d"/><stop offset=".11" stop-color="#00a8c7"/><stop offset=".123" stop-color="#0092d4"/><stop offset=".161" stop-color="#003fdb"/><stop offset=".208" stop-color="#2a08d7"/><stop offset=".246" stop-color="#8300db"/><stop offset=".25" stop-color="#8700dc"/><stop offset=".258" stop-color="#7201da"/><stop offset=".263" stop-color="#7801da"/><stop offset=".297" stop-color="#d100ee"/><stop offset=".301" stop-color="#cf00ee"/><stop offset=".305" stop-color="#b800e8"/><stop offset=".309" stop-color="#b200e6"/><stop offset=".326" stop-color="#d100ee"/><stop offset=".339" stop-color="#dd00f1"/><stop offset=".356" stop-color="#d100ee"/><stop offset=".381" stop-color="#e200f3"/><stop offset=".398" stop-color="#d900f0"/><stop offset=".424" stop-color="#e500f3"/><stop offset=".441" stop-color="#dd00f1"/><stop offset=".466" stop-color="#e700f4"/><stop offset=".483" stop-color="#e000f2"/><stop offset=".547" stop-color="#e900f4"/><stop offset="1" stop-color="#e900f4"/></linearGradient>
<linearGradient id="L156" gradientUnits="userSpaceOnUse" x1="0" x2="0" y1="251.5" y2="486.5"><stop offset="0" stop-color="#39d207"/><stop offset=".009" stop-color="#37d107"/><stop offset=".026" stop-color="#19cb11"/><stop offset=".068" stop-color="#00c877"/><stop offset=".106" stop-color="#00a7cb"/><stop offset=".115" stop-color="#0099d3"/><stop offset=".157" stop-color="#013cdb"/><stop offset=".2" stop-color="#260ad7"/><stop offset=".247" stop-color="#8e00dd"/><stop offset=".255" stop-color="#7801db"/><stop offset=".26" stop-color="#7c01db"/><stop offset=".294" stop-color="#d200ef"/><stop offset=".298" stop-color="#d300ef"/><stop offset=".306" stop-color="#b700e8"/><stop offset=".323" stop-color="#d300ee"/><stop offset=".336" stop-color="#de00f2"/><stop offset=".353" stop-color="#d300ef"/><stop offset=".379" stop-color="#e300f3"/><stop offset=".396" stop-color="#da00f0"/><stop offset=".421" stop-color="#e600f3"/><stop offset=".438" stop-color="#de00f1"/><stop offset=".464" stop-color="#e800f4"/><stop offset=".481" stop-color="#e100f2"/><stop offset=".545" stop-color="#e900f4"/><stop offset="1" stop-color="#ea00f4"/></linearGradient>
<linearGradient id="L157" gradientUnits="userSpaceOnUse" x1="0" x2="0" y1="252.5" y2="486.5"><stop offset="0" stop-color="#28ce08"/><stop offset=".013" stop-color="#26ce09"/><stop offset=".021" stop-color="#18cb13"/><stop offset=".064" stop-color="#00c77c"/><stop offset=".103" stop-color="#00a5ce"/><stop offset=".115" stop-color="#008ad5"/><stop offset=".154" stop-color="#023adb"/><stop offset=".197" stop-color="#2909d7"/><stop offset=".239" stop-color="#8c00dd"/><stop offset=".248" stop-color="#9400df"/><stop offset=".252" stop-color="#8000db"/><stop offset=".256" stop-color="#8100db"/><stop offset=".291" stop-color="#d400ef"/><stop offset=".295" stop-color="#d500f0"/><stop offset=".303" stop-color="#bb00e9"/><stop offset=".333" stop-color="#df00f2"/><stop offset=".35" stop-color="#d400ef"/><stop offset=".38" stop-color="#e400f3"/><stop offset=".393" stop-color="#da00f0"/><stop offset=".419" stop-color="#e600f4"/><stop offset=".436" stop-color="#de00f1"/><stop offset=".462" stop-color="#e800f4"/><stop offset=".479" stop-color="#e100f2"/><stop offset=".504" stop-color="#e900f4"/><stop offset=".517" stop-color="#e300f3"/><stop offset=".543" stop-color="#e900f4"/><stop offset="1" stop-color="#ea00f4"/></linearGradient>
<linearGradient id="L158" gradientUnits="userSpaceOnUse" x1="0" x2="0" y1="254.5" y2="486.5"><stop offset="0" stop-color="#1bcc0f"/><stop offset=".013" stop-color="#17cb16"/><stop offset=".052" stop-color="#00c975"/><stop offset=".091" stop-color="#00a8c8"/><stop offset=".103" stop-color="#0092d4"/><stop offset=".142" stop-color="#003edb"/><stop offset=".19" stop-color="#2c08d7"/><stop offset=".211" stop-color="#6303da"/><stop offset=".237" stop-color="#9800e0"/><stop offset=".241" stop-color="#9c00e1"/><stop offset=".246" stop-color="#8b00dd"/><stop offset=".25" stop-color="#8600db"/><stop offset=".259" stop-color="#9500df"/><stop offset=".28" stop-color="#cf00ee"/><stop offset=".289" stop-color="#d700f0"/><stop offset=".293" stop-color="#d000ee"/><stop offset=".297" stop-color="#c000ea"/><stop offset=".302" stop-color="#c000ea"/><stop offset=".315" stop-color="#d500ef"/><stop offset=".328" stop-color="#df00f2"/><stop offset=".345" stop-color="#d500ef"/><stop offset=".375" stop-color="#e500f3"/><stop offset=".388" stop-color="#db00f1"/><stop offset=".414" stop-color="#e700f4"/><stop offset=".435" stop-color="#df00f2"/><stop offset=".457" stop-color="#e800f4"/><stop offset=".474" stop-color="#e200f2"/><stop offset=".496" stop-color="#e900f4"/><stop offset=".513" stop-color="#e400f3"/><stop offset=".578" stop-color="#ea00f4"/><stop offset="1" stop-color="#ea00f4"/></linearGradient>
<linearGradient id="L159" gradientUnits="userSpaceOnUse" x1="0" x2="0" y1="255.5" y2="486.5"><stop offset="0" stop-color="#14cb22"/><stop offset=".013" stop-color="#13cb26"/><stop offset=".048" stop-color="#00c87a"/><stop offset=".091" stop-color="#00a1d2"/><stop offset=".139" stop-color="#023bdb"/><stop offset=".182" stop-color="#2909d7"/><stop offset=".195" stop-color="#4905d9"/><stop offset=".234" stop-color="#9d00e1"/><stop offset=".238" stop-color="#a200e2"/><stop offset=".247" stop-color="#8b00dc"/><stop offset=".251" stop-color="#9000dd"/><stop offset=".277" stop-color="#d100ee"/><stop offset=".286" stop-color="#d800f0"/><stop offset=".299" stop-color="#c300ea"/><stop offset=".312" stop-color="#d500ef"/><stop offset=".329" stop-color="#e100f2"/><stop offset=".342" stop-color="#d600ef"/><stop offset=".372" stop-color="#e600f3"/><stop offset=".39" stop-color="#dc00f1"/><stop offset=".411" stop-color="#e700f4"/><stop offset=".433" stop-color="#e000f2"/><stop offset=".455" stop-color="#e900f4"/><stop offset=".472" stop-color="#e200f2"/><stop offset=".537" stop-color="#ea00f4"/><stop offset="1" stop-color="#ea00f4"/></linearGradient>
<linearGradient id="L160" gradientUnits="userSpaceOnUse" x1="0" x2="0" y1="257.5" y2="486.5"><stop offset="0" stop-color="#10cb36"/><stop offset=".013" stop-color="#0ecb3d"/><stop offset=".039" stop-color="#00c87a"/><stop offset=".083" stop-color="#009fd3"/><stop offset=".131" stop-color="#0339db"/><stop offset=".17" stop-color="#250bd7"/><stop offset=".183" stop-color="#4205d8"/><stop offset=".214" stop-color="#8800dc"/><stop offset=".231" stop-color="#a700e4"/><stop offset=".236" stop-color="#a400e3"/><stop offset=".24" stop-color="#9200de"/><stop offset=".245" stop-color="#9300de"/><stop offset=".266" stop-color="#c800ec"/><stop offset=".275" stop-color="#d600f0"/><stop offset=".284" stop-color="#d800f0"/><stop offset=".293" stop-color="#c500eb"/><stop offset=".323" stop-color="#e200f2"/><stop offset=".336" stop-color="#d700f0"/><stop offset=".367" stop-color="#e600f3"/><stop offset=".384" stop-color="#dc00f1"/><stop offset=".41" stop-color="#e800f4"/><stop offset=".428" stop-color="#e000f2"/><stop offset=".45" stop-color="#e900f4"/><stop offset=".467" stop-color="#e200f2"/><stop offset=".533" stop-color="#ea00f4"/><stop offset="1" stop-color="#ea00f4"/></linearGradient>
<linearGradient id="L161" gradientUnits="userSpaceOnUse" x1="0" x2="0" y1="258.5" y2="486.5"><stop offset="0" stop-color="#0bca46"/><stop offset=".013" stop-color="#0aca4b"/><stop offset=".035" stop-color="#00c77e"/><stop offset=".07" stop-color="#00a8c8"/><stop offset=".079" stop-color="#009cd3"/><stop offset=".123" stop-color="#013cdb"/><stop offset=".167" stop-color="#270ad7"/><stop offset=".193" stop-color="#6802da"/><stop offset=".228" stop-color="#ac00e5"/><stop offset=".232" stop-color="#ad00e5"/><stop offset=".237" stop-color="#9a00e0"/><stop offset=".241" stop-color="#9700df"/><stop offset=".272" stop-color="#d700f0"/><stop offset=".281" stop-color="#da00f0"/><stop offset=".289" stop-color="#c800ec"/><stop offset=".32" stop-color="#e300f3"/><stop offset=".338" stop-color="#d800f0"/><stop offset=".364" stop-color="#e600f3"/><stop offset=".382" stop-color="#dd00f1"/><stop offset=".408" stop-color="#e800f4"/><stop offset=".425" stop-color="#e000f2"/><stop offset=".447" stop-color="#e900f4"/><stop offset=".465" stop-color="#e300f2"/><stop offset=".491" stop-color="#ea00f4"/><stop offset=".509" stop-color="#e500f3"/><stop offset=".531" stop-color="#ea00f4"/><stop offset="1" stop-color="#eb00f4"/></linearGradient>
<linearGradient id="L162" gradientUnits="userSpaceOnUse" x1="0" x2="0" y1="260.5" y2="486.5"><stop offset="0" stop-color="#07ca57"/><stop offset=".009" stop-color="#06ca5a"/><stop offset=".022" stop-color="#00c877"/><stop offset=".066" stop-color="#00a0d2"/><stop offset=".115" stop-color="#023adb"/><stop offset=".159" stop-color="#2a08d7"/><stop offset=".173" stop-color="#4c04d8"/><stop offset=".199" stop-color="#8800dc"/><stop offset=".221" stop-color="#af00e6"/><stop offset=".226" stop-color="#b300e7"/><stop offset=".235" stop-color="#9b00e0"/><stop offset=".243" stop-color="#a900e4"/><stop offset=".261" stop-color="#d400ef"/><stop offset=".274" stop-color="#db00f1"/><stop offset=".283" stop-color="#cb00ec"/><stop offset=".314" stop-color="#e300f3"/><stop offset=".332" stop-color="#d800f0"/><stop offset=".358" stop-color="#e700f4"/><stop offset=".376" stop-color="#dd00f1"/><stop offset=".403" stop-color="#e800f4"/><stop offset=".42" stop-color="#e100f2"/><stop offset=".442" stop-color="#e900f4"/><stop offset=".46" stop-color="#e300f2"/><stop offset=".487" stop-color="#ea00f4"/><stop offset=".504" stop-color="#e500f3"/><stop offset="1" stop-color="#eb00f4"/></linearGradient>
<linearGradient id="L163" gradientUnits="userSpaceOnUse" x1="0" x2="0" y1="261.5" y2="486.5"><stop offset="0" stop-color="#04c964"/><stop offset=".009" stop-color="#03c967"/><stop offset=".022" stop-color="#00c483"/><stop offset=".062" stop-color="#009ed1"/><stop offset=".107" stop-color="#003fda"/><stop offset=".151" stop-color="#260ad6"/><stop offset=".182" stop-color="#6f01da"/><stop offset=".2" stop-color="#9400df"/><stop offset=".222" stop-color="#b700e8"/><stop offset=".231" stop-color="#9f00e1"/><stop offset=".262" stop-color="#d800f0"/><stop offset=".271" stop-color="#dc00f1"/><stop offset=".28" stop-color="#ce00ed"/><stop offset=".311" stop-color="#e300f3"/><stop offset=".329" stop-color="#d900f0"/><stop offset=".356" stop-color="#e700f4"/><stop offset=".373" stop-color="#de00f1"/><stop offset=".4" stop-color="#e900f4"/><stop offset=".418" stop-color="#e100f2"/><stop offset=".44" stop-color="#e900f4"/><stop offset=".458" stop-color="#e300f2"/><stop offset=".484" stop-color="#ea00f4"/><stop offset=".502" stop-color="#e500f3"/><stop offset="1" stop-color="#eb00f4"/></linearGradient>
<linearGradient id="L164" gradientUnits="userSpaceOnUse" x1="0" x2="0" y1="262.5" y2="486.5"><stop offset="0" stop-color="#00c872"/><stop offset=".009" stop-color="#00c873"/><stop offset=".049" stop-color="#00a8c7"/><stop offset=".058" stop-color="#009bd2"/><stop offset=".103" stop-color="#013cda"/><stop offset=".143" stop-color="#240dd7"/><stop offset=".152" stop-color="#3107d7"/><stop offset=".174" stop-color="#6902da"/><stop offset=".192" stop-color="#9000dd"/><stop offset=".219" stop-color="#bb00e8"/><stop offset=".228" stop-color="#a400e2"/><stop offset=".237" stop-color="#ad00e5"/><stop offset=".25" stop-color="#cd00ed"/><stop offset=".259" stop-color="#d800f0"/><stop offset=".268" stop-color="#dd00f1"/><stop offset=".281" stop-color="#d100ee"/><stop offset=".308" stop-color="#e400f3"/><stop offset=".326" stop-color="#d900f0"/><stop offset=".353" stop-color="#e700f4"/><stop offset=".371" stop-color="#de00f1"/><stop offset=".397" stop-color="#e900f4"/><stop offset=".415" stop-color="#e100f2"/><stop offset=".438" stop-color="#ea00f4"/><stop offset=".455" stop-color="#e300f3"/><stop offset=".482" stop-color="#ea00f4"/><stop offset=".5" stop-color="#e500f3"/><stop offset="1" stop-color="#eb00f4"/></linearGradient>
<linearGradient id="L165" gradientUnits="userSpaceOnUse" x1="0" x2="0" y1="263.5" y2="486.5"><stop offset="0" stop-color="#00c57e"/><stop offset=".009" stop-color="#00c57e"/><stop offset=".049" stop-color="#00a2cf"/><stop offset=".099" stop-color="#023bda"/><stop offset=".143" stop-color="#2a08d6"/><stop offset=".166" stop-color="#6203d9"/><stop offset=".193" stop-color="#9b00e0"/><stop offset=".215" stop-color="#be00e9"/><stop offset=".22" stop-color="#ba00e8"/><stop offset=".224" stop-color="#a800e3"/><stop offset=".229" stop-color="#a800e3"/><stop offset=".247" stop-color="#cf00ed"/><stop offset=".265" stop-color="#de00f1"/><stop offset=".278" stop-color="#d200ee"/><stop offset=".305" stop-color="#e400f3"/><stop offset=".323" stop-color="#da00f0"/><stop offset=".35" stop-color="#e800f4"/><stop offset=".368" stop-color="#df00f1"/><stop offset=".395" stop-color="#e900f4"/><stop offset=".413" stop-color="#e200f2"/><stop offset=".435" stop-color="#ea00f4"/><stop offset=".453" stop-color="#e400f3"/><stop offset=".48" stop-color="#ea00f4"/><stop offset="1" stop-color="#eb00f4"/></linearGradient>
<linearGradient id="L166" gradientUnits="userSpaceOnUse" x1="0" x2="0" y1="264.5" y2="486.5"><stop offset="0" stop-color="#00c08a"/><stop offset=".009" stop-color="#00c08a"/><stop offset=".045" stop-color="#009fd1"/><stop offset=".09" stop-color="#003fda"/><stop offset=".135" stop-color="#260ad6"/><stop offset=".176" stop-color="#8400db"/><stop offset=".207" stop-color="#bb00e8"/><stop offset=".216" stop-color="#c100ea"/><stop offset=".221" stop-color="#ad00e5"/><stop offset=".225" stop-color="#ab00e4"/><stop offset=".243" stop-color="#d000ee"/><stop offset=".261" stop-color="#de00f1"/><stop offset=".275" stop-color="#d300ee"/><stop offset=".302" stop-color="#e500f3"/><stop offset=".32" stop-color="#da00f0"/><stop offset=".347" stop-color="#e800f4"/><stop offset=".365" stop-color="#df00f1"/><stop offset=".392" stop-color="#e900f4"/><stop offset=".41" stop-color="#e200f2"/><stop offset=".432" stop-color="#ea00f4"/><stop offset=".45" stop-color="#e400f3"/><stop offset=".518" stop-color="#eb00f4"/><stop offset="1" stop-color="#eb00f4"/></linearGradient>
<linearGradient id="L167" gradientUnits="userSpaceOnUse" x1="0" x2="0" y1="265.5" y2="486.5"><stop offset="0" stop-color="#00bc95"/><stop offset=".009" stop-color="#00bb96"/><stop offset=".041" stop-color="#009ed1"/><stop offset=".086" stop-color="#003eda"/><stop offset=".131" stop-color="#270ad6"/><stop offset=".176" stop-color="#9000dd"/><stop offset=".208" stop-color="#c300eb"/><stop offset=".213" stop-color="#c500eb"/><stop offset=".217" stop-color="#b200e6"/><stop offset=".222" stop-color="#ae00e5"/><stop offset=".24" stop-color="#d100ee"/><stop offset=".258" stop-color="#df00f2"/><stop offset=".271" stop-color="#d400ef"/><stop offset=".299" stop-color="#e500f3"/><stop offset=".317" stop-color="#db00f0"/><stop offset=".344" stop-color="#e800f4"/><stop offset=".362" stop-color="#df00f1"/><stop offset=".389" stop-color="#e900f4"/><stop offset=".407" stop-color="#e200f2"/><stop offset=".43" stop-color="#ea00f4"/><stop offset=".452" stop-color="#e400f3"/><stop offset=".516" stop-color="#eb00f4"/><stop offset="1" stop-color="#eb00f4"/></linearGradient>
<linearGradient id="L168" gradientUnits="userSpaceOnUse" x1="0" x2="0" y1="266.5" y2="486.5"><stop offset="0" stop-color="#00b89e"/><stop offset=".009" stop-color="#00b7a2"/><stop offset=".036" stop-color="#009cd2"/><stop offset=".082" stop-color="#013cda"/><stop offset=".127" stop-color="#2a08d6"/><stop offset=".168" stop-color="#8a00dc"/><stop offset=".195" stop-color="#b900e8"/><stop offset=".209" stop-color="#c900ec"/><stop offset=".218" stop-color="#b000e5"/><stop offset=".236" stop-color="#d100ee"/><stop offset=".255" stop-color="#df00f2"/><stop offset=".268" stop-color="#d400ef"/><stop offset=".3" stop-color="#e600f3"/><stop offset=".314" stop-color="#db00f0"/><stop offset=".341" stop-color="#e800f4"/><stop offset=".359" stop-color="#e000f2"/><stop offset=".386" stop-color="#ea00f4"/><stop offset=".405" stop-color="#e200f2"/><stop offset=".427" stop-color="#ea00f4"/><stop offset=".445" stop-color="#e400f3"/><stop offset=".514" stop-color="#eb00f4"/><stop offset="1" stop-color="#eb00f4"/></linearGradient>
<linearGradient id="L169" gradientUnits="userSpaceOnUse" x1="0" x2="0" y1="267.5" y2="486.5"><stop offset="0" stop-color="#00b4aa"/><stop offset=".009" stop-color="#00b2ae"/><stop offset=".023" stop-color="#00a6c9"/><stop offset=".032" stop-color="#0098d3"/><stop offset=".078" stop-color="#0239da"/><stop offset=".123" stop-color="#2c08d6"/><stop offset=".164" stop-color="#8d00dc"/><stop offset=".201" stop-color="#c800ec"/><stop offset=".205" stop-color="#cc00ed"/><stop offset=".215" stop-color="#b300e6"/><stop offset=".233" stop-color="#d200ee"/><stop offset=".251" stop-color="#e000f2"/><stop offset=".265" stop-color="#d500ef"/><stop offset=".292" stop-color="#e600f3"/><stop offset=".311" stop-color="#dc00f1"/><stop offset=".338" stop-color="#e800f4"/><stop offset=".356" stop-color="#e000f2"/><stop offset=".384" stop-color="#ea00f4"/><stop offset=".402" stop-color="#e300f2"/><stop offset=".47" stop-color="#eb00f4"/><stop offset="1" stop-color="#eb00f4"/></linearGradient>
<linearGradient id="L170" gradientUnits="userSpaceOnUse" x1="0" x2="0" y1="268.5" y2="486.5"><stop offset="0" stop-color="#00b0b4"/><stop offset=".009" stop-color="#00aeb9"/><stop offset=".023" stop-color="#009fd1"/><stop offset=".069" stop-color="#003fda"/><stop offset=".115" stop-color="#270ad6"/><stop offset=".156" stop-color="#8800dc"/><stop offset=".183" stop-color="#b800e8"/><stop offset=".202" stop-color="#cf00ee"/><stop offset=".211" stop-color="#b600e7"/><stop offset=".229" stop-color="#d200ee"/><stop offset=".248" stop-color="#e000f2"/><stop offset=".261" stop-color="#d500ef"/><stop offset=".289" stop-color="#e600f3"/><stop offset=".307" stop-color="#dc00f1"/><stop offset=".335" stop-color="#e900f4"/><stop offset=".353" stop-color="#e000f2"/><stop offset=".381" stop-color="#ea00f4"/><stop offset=".399" stop-color="#e300f2"/><stop offset=".468" stop-color="#eb00f4"/><stop offset="1" stop-color="#eb00f4"/></linearGradient>
<linearGradient id="L171" gradientUnits="userSpaceOnUse" x1="0" x2="0" y1="268.5" y2="486.5"><stop offset="0" stop-color="#00abc0"/><stop offset=".009" stop-color="#00abc0"/><stop offset=".018" stop-color="#00a4cd"/><stop offset=".069" stop-color="#013dda"/><stop offset=".115" stop-color="#2908d6"/><stop offset=".147" stop-color="#7701da"/><stop offset=".183" stop-color="#ba00e8"/><stop offset=".202" stop-color="#d100ee"/><stop offset=".211" stop-color="#ba00e8"/><stop offset=".216" stop-color="#bb00e8"/><stop offset=".229" stop-color="#d400ef"/><stop offset=".248" stop-color="#e100f2"/><stop offset=".261" stop-color="#d600ef"/><stop offset=".294" stop-color="#e700f3"/><stop offset=".307" stop-color="#dd00f1"/><stop offset=".335" stop-color="#e900f4"/><stop offset=".353" stop-color="#e000f2"/><stop offset=".381" stop-color="#ea00f4"/><stop offset=".399" stop-color="#e300f2"/><stop offset=".468" stop-color="#eb00f4"/><stop offset="1" stop-color="#eb00f4"/></linearGradient>
<linearGradient id="L172" gradientUnits="userSpaceOnUse" x1="0" x2="0" y1="269.5" y2="486.5"><stop offset="0" stop-color="#00a7ca"/><stop offset=".009" stop-color="#00a7ca"/><stop offset=".018" stop-color="#009bd3"/><stop offset=".065" stop-color="#013bda"/><stop offset=".111" stop-color="#2b08d6"/><stop offset=".147" stop-color="#8400db"/><stop offset=".18" stop-color="#bd00e9"/><stop offset=".198" stop-color="#d300ef"/><stop offset=".203" stop-color="#ce00ed"/><stop offset=".207" stop-color="#bd00e9"/><stop offset=".212" stop-color="#bd00e9"/><stop offset=".226" stop-color="#d400ee"/><stop offset=".244" stop-color="#e100f2"/><stop offset=".258" stop-color="#d700ef"/><stop offset=".286" stop-color="#e600f3"/><stop offset=".304" stop-color="#dd00f1"/><stop offset=".332" stop-color="#e900f4"/><stop offset=".35" stop-color="#e100f2"/><stop offset=".378" stop-color="#ea00f4"/><stop offset=".396" stop-color="#e300f2"/><stop offset=".424" stop-color="#ea00f4"/><stop offset=".442" stop-color="#e500f3"/><stop offset=".465" stop-color="#eb00f4"/><stop offset="1" stop-color="#eb00f4"/></linearGradient>
<linearGradient id="L173" gradientUnits="userSpaceOnUse" x1="0" x2="0" y1="270.5" y2="486.5"><stop offset="0" stop-color="#00a1d0"/><stop offset=".009" stop-color="#00a0d0"/><stop offset=".056" stop-color="#003fda"/><stop offset=".106" stop-color="#2e07d6"/><stop offset=".144" stop-color="#8700db"/><stop offset=".176" stop-color="#bf00e9"/><stop offset=".194" stop-color="#d400ef"/><stop offset=".199" stop-color="#d100ee"/><stop offset=".204" stop-color="#c000e9"/><stop offset=".208" stop-color="#bf00e9"/><stop offset=".222" stop-color="#d400ef"/><stop offset=".241" stop-color="#e200f2"/><stop offset=".255" stop-color="#d700ef"/><stop offset=".282" stop-color="#e600f3"/><stop offset=".301" stop-color="#dd00f1"/><stop offset=".329" stop-color="#e900f4"/><stop offset=".347" stop-color="#e100f2"/><stop offset=".375" stop-color="#ea00f4"/><stop offset=".394" stop-color="#e300f2"/><stop offset=".421" stop-color="#eb00f4"/><stop offset=".44" stop-color="#e500f3"/><stop offset=".463" stop-color="#eb00f4"/><stop offset="1" stop-color="#eb00f4"/></linearGradient>
<linearGradient id="L174" gradientUnits="userSpaceOnUse" x1="0" x2="0" y1="271.5" y2="486.5"><stop offset="0" stop-color="#0097d1"/><stop offset=".009" stop-color="#0094d2"/><stop offset=".051" stop-color="#003ed9"/><stop offset=".098" stop-color="#2709d6"/><stop offset=".14" stop-color="#8900dc"/><stop offset=".177" stop-color="#c700eb"/><stop offset=".195" stop-color="#d400ef"/><stop offset=".2" stop-color="#c300ea"/><stop offset=".205" stop-color="#c000e9"/><stop offset=".219" stop-color="#d400ef"/><stop offset=".237" stop-color="#e200f2"/><stop offset=".251" stop-color="#d800ef"/><stop offset=".279" stop-color="#e600f3"/><stop offset=".298" stop-color="#de00f1"/><stop offset=".33" stop-color="#e900f4"/><stop offset=".344" stop-color="#e100f2"/><stop offset=".367" stop-color="#ea00f4"/><stop offset=".391" stop-color="#e400f2"/><stop offset=".419" stop-color="#eb00f4"/><stop offset=".437" stop-color="#e500f3"/><stop offset=".46" stop-color="#eb00f4"/><stop offset="1" stop-color="#eb00f4"/></linearGradient>
<linearGradient id="L175" gradientUnits="userSpaceOnUse" x1="0" x2="0" y1="272.5" y2="486.5"><stop offset="0" stop-color="#0090d2"/><stop offset=".009" stop-color="#0088d2"/><stop offset=".047" stop-color="#003dd9"/><stop offset=".093" stop-color="#2908d5"/><stop offset=".136" stop-color="#8b00dc"/><stop offset=".173" stop-color="#c900ec"/><stop offset=".192" stop-color="#d500ef"/><stop offset=".196" stop-color="#c600eb"/><stop offset=".201" stop-color="#c300ea"/><stop offset=".234" stop-color="#e200f2"/><stop offset=".248" stop-color="#d800f0"/><stop offset=".28" stop-color="#e800f4"/><stop offset=".299" stop-color="#de00f1"/><stop offset=".327" stop-color="#e900f4"/><stop offset=".341" stop-color="#e100f2"/><stop offset=".364" stop-color="#ea00f4"/><stop offset=".388" stop-color="#e400f3"/><stop offset=".416" stop-color="#eb00f4"/><stop offset=".435" stop-color="#e600f3"/><stop offset=".458" stop-color="#eb00f4"/><stop offset="1" stop-color="#eb00f4"/></linearGradient>
<linearGradient id="L176" gradientUnits="userSpaceOnUse" x1="0" x2="0" y1="272.5" y2="486.5"><stop offset="0" stop-color="#0089d2"/><stop offset=".009" stop-color="#0086d2"/><stop offset=".047" stop-color="#013bd9"/><stop offset=".093" stop-color="#2a08d5"/><stop offset=".136" stop-color="#8d00dc"/><stop offset=".168" stop-color="#c400ea"/><stop offset=".192" stop-color="#d600ef"/><stop offset=".201" stop-color="#c400ea"/><stop offset=".234" stop-color="#e300f2"/><stop offset=".248" stop-color="#d900f0"/><stop offset=".28" stop-color="#e800f4"/><stop offset=".299" stop-color="#df00f1"/><stop offset=".327" stop-color="#ea00f4"/><stop offset=".341" stop-color="#e200f2"/><stop offset=".416" stop-color="#eb00f4"/><stop offset=".435" stop-color="#e600f3"/><stop offset=".458" stop-color="#eb00f4"/><stop offset="1" stop-color="#eb00f4"/></linearGradient>
<linearGradient id="L177" gradientUnits="userSpaceOnUse" x1="0" x2="0" y1="273.5" y2="486.5"><stop offset="0" stop-color="#0084d2"/><stop offset=".005" stop-color="#0084d2"/><stop offset=".042" stop-color="#013bd9"/><stop offset=".089" stop-color="#2c07d5"/><stop offset=".127" stop-color="#8500da"/><stop offset=".169" stop-color="#cc00ec"/><stop offset=".188" stop-color="#d600ef"/><stop offset=".197" stop-color="#c500eb"/><stop offset=".23" stop-color="#e300f2"/><stop offset=".244" stop-color="#d900f0"/><stop offset=".272" stop-color="#e700f3"/><stop offset=".296" stop-color="#df00f1"/><stop offset=".324" stop-color="#ea00f4"/><stop offset=".338" stop-color="#e200f2"/><stop offset=".366" stop-color="#ea00f4"/><stop offset=".385" stop-color="#e400f3"/><stop offset=".413" stop-color="#eb00f4"/><stop offset="1" stop-color="#eb00f4"/></linearGradient>
<linearGradient id="L178" gradientUnits="userSpaceOnUse" x1="0" x2="0" y1="273.5" y2="486.5"><stop offset="0" stop-color="#007ed3"/><stop offset=".009" stop-color="#0079d3"/><stop offset=".042" stop-color="#0239d8"/><stop offset=".089" stop-color="#2e07d5"/><stop offset=".136" stop-color="#9a00df"/><stop offset=".169" stop-color="#cd00ed"/><stop offset=".188" stop-color="#d700ef"/><stop offset=".197" stop-color="#c700eb"/><stop offset=".23" stop-color="#e300f2"/><stop offset=".249" stop-color="#da00f0"/><stop offset=".272" stop-color="#e700f3"/><stop offset=".296" stop-color="#df00f1"/><stop offset=".324" stop-color="#ea00f4"/><stop offset=".338" stop-color="#e200f2"/><stop offset=".366" stop-color="#ea00f4"/><stop offset=".385" stop-color="#e400f3"/><stop offset=".413" stop-color="#eb00f4"/><stop offset="1" stop-color="#eb00f4"/></linearGradient>
<linearGradient id="L179" gradientUnits="userSpaceOnUse" x1="0" x2="0" y1="273.5" y2="486.5"><stop offset="0" stop-color="#0078d3"/><stop offset=".009" stop-color="#0077d3"/><stop offset=".038" stop-color="#003fd8"/><stop offset=".089" stop-color="#2f07d5"/><stop offset=".131" stop-color="#9200dd"/><stop offset=".169" stop-color="#ce00ed"/><stop offset=".188" stop-color="#d700ef"/><stop offset=".197" stop-color="#c900ec"/><stop offset=".23" stop-color="#e300f2"/><stop offset=".249" stop-color="#da00f0"/><stop offset=".272" stop-color="#e700f3"/><stop offset=".296" stop-color="#df00f1"/><stop offset=".324" stop-color="#ea00f4"/><stop offset=".338" stop-color="#e200f2"/><stop offset=".366" stop-color="#ea00f4"/><stop offset=".385" stop-color="#e400f3"/><stop offset=".413" stop-color="#eb00f4"/><stop offset="1" stop-color="#eb00f4"/></linearGradient>
<linearGradient id="L180" gradientUnits="userSpaceOnUse" x1="0" x2="0" y1="274.5" y2="486.5"><stop offset="0" stop-color="#0073d3"/><stop offset=".009" stop-color="#006dd4"/><stop offset=".033" stop-color="#003ed8"/><stop offset=".08" stop-color="#2709d5"/><stop offset=".123" stop-color="#8a00db"/><stop offset=".16" stop-color="#c900ec"/><stop offset=".184" stop-color="#d800ef"/><stop offset=".193" stop-color="#ca00ec"/><stop offset=".226" stop-color="#e300f2"/><stop offset=".241" stop-color="#da00f0"/><stop offset=".274" stop-color="#e800f4"/><stop offset=".292" stop-color="#e000f1"/><stop offset=".316" stop-color="#ea00f4"/><stop offset=".335" stop-color="#e200f2"/><stop offset=".363" stop-color="#eb00f4"/><stop offset=".382" stop-color="#e400f3"/><stop offset=".41" stop-color="#eb00f4"/><stop offset="1" stop-color="#eb00f4"/></linearGradient>
<linearGradient id="L181" gradientUnits="userSpaceOnUse" x1="0" x2="0" y1="274.5" y2="486.5"><stop offset="0" stop-color="#006fd4"/><stop offset=".009" stop-color="#006bd4"/><stop offset=".033" stop-color="#013dd8"/><stop offset=".08" stop-color="#2908d5"/><stop offset=".118" stop-color="#8200da"/><stop offset=".16" stop-color="#ca00ec"/><stop offset=".184" stop-color="#d800f0"/><stop offset=".193" stop-color="#cb00ec"/><stop offset=".226" stop-color="#e400f2"/><stop offset=".245" stop-color="#da00f0"/><stop offset=".274" stop-color="#e800f4"/><stop offset=".292" stop-color="#e000f2"/><stop offset=".316" stop-color="#ea00f4"/><stop offset=".335" stop-color="#e300f2"/><stop offset=".363" stop-color="#eb00f4"/><stop offset=".382" stop-color="#e500f3"/><stop offset=".41" stop-color="#eb00f4"/><stop offset="1" stop-color="#eb00f4"/></linearGradient>
<linearGradient id="L182" gradientUnits="userSpaceOnUse" x1="0" x2="0" y1="274.5" y2="486.5"><stop offset="0" stop-color="#006ad4"/><stop offset=".009" stop-color="#0069d4"/><stop offset=".033" stop-color="#003cd8"/><stop offset=".08" stop-color="#2a08d5"/><stop offset=".118" stop-color="#8400da"/><stop offset=".16" stop-color="#cb00ec"/><stop offset=".184" stop-color="#d900f0"/><stop offset=".193" stop-color="#cd00ec"/><stop offset=".226" stop-color="#e400f2"/><stop offset=".245" stop-color="#db00f0"/><stop offset=".274" stop-color="#e800f4"/><stop offset=".292" stop-color="#e000f2"/><stop offset=".316" stop-color="#ea00f4"/><stop offset=".34" stop-color="#e300f2"/><stop offset=".363" stop-color="#eb00f4"/><stop offset=".382" stop-color="#e500f3"/><stop offset=".406" stop-color="#eb00f4"/><stop offset="1" stop-color="#eb00f4"/></linearGradient>
<linearGradient id="L183" gradientUnits="userSpaceOnUse" x1="0" x2="0" y1="275.5" y2="486.5"><stop offset="0" stop-color="#0066d4"/><stop offset=".005" stop-color="#0066d4"/><stop offset=".028" stop-color="#013cd8"/><stop offset=".076" stop-color="#2b08d5"/><stop offset=".118" stop-color="#8f00dc"/><stop offset=".152" stop-color="#c600eb"/><stop offset=".175" stop-color="#d800f0"/><stop offset=".194" stop-color="#cf00ed"/><stop offset=".223" stop-color="#e400f3"/><stop offset=".237" stop-color="#db00f0"/><stop offset=".27" stop-color="#e800f4"/><stop offset=".289" stop-color="#e000f2"/><stop offset=".313" stop-color="#ea00f4"/><stop offset=".336" stop-color="#e300f2"/><stop offset=".36" stop-color="#eb00f4"/><stop offset=".379" stop-color="#e500f3"/><stop offset=".403" stop-color="#eb00f4"/><stop offset="1" stop-color="#eb00f4"/></linearGradient>
<linearGradient id="L184" gradientUnits="userSpaceOnUse" x1="0" x2="0" y1="275.5" y2="486.5"><stop offset="0" stop-color="#0063d5"/><stop offset=".009" stop-color="#005ed5"/><stop offset=".028" stop-color="#013ad8"/><stop offset=".076" stop-color="#2c07d5"/><stop offset=".118" stop-color="#9000dd"/><stop offset=".156" stop-color="#cd00ed"/><stop offset=".18" stop-color="#d900f0"/><stop offset=".194" stop-color="#d000ed"/><stop offset=".223" stop-color="#e400f3"/><stop offset=".242" stop-color="#db00f0"/><stop offset=".27" stop-color="#e900f4"/><stop offset=".289" stop-color="#e000f2"/><stop offset=".313" stop-color="#ea00f4"/><stop offset=".336" stop-color="#e300f2"/><stop offset=".36" stop-color="#eb00f4"/><stop offset=".379" stop-color="#e500f3"/><stop offset=".403" stop-color="#eb00f4"/><stop offset="1" stop-color="#eb00f4"/></linearGradient>
<linearGradient id="L185" gradientUnits="userSpaceOnUse" x1="0" x2="0" y1="275.5" y2="486.5"><stop offset="0" stop-color="#005fd5"/><stop offset=".009" stop-color="#005dd5"/><stop offset=".028" stop-color="#0239d8"/><stop offset=".076" stop-color="#2d07d5"/><stop offset=".114" stop-color="#8800db"/><stop offset=".156" stop-color="#ce00ed"/><stop offset=".18" stop-color="#da00f0"/><stop offset=".194" stop-color="#d100ee"/><stop offset=".223" stop-color="#e400f3"/><stop offset=".242" stop-color="#db00f0"/><stop offset=".27" stop-color="#e900f4"/><stop offset=".289" stop-color="#e000f2"/><stop offset=".313" stop-color="#ea00f4"/><stop offset=".336" stop-color="#e300f2"/><stop offset=".36" stop-color="#eb00f4"/><stop offset=".379" stop-color="#e500f3"/><stop offset=".403" stop-color="#eb00f4"/><stop offset="1" stop-color="#eb00f4"/></linearGradient>
<linearGradient id="L186" gradientUnits="userSpaceOnUse" x1="0" x2="0" y1="276.5" y2="486.5"><stop offset="0" stop-color="#005bd5"/><stop offset=".005" stop-color="#005bd5"/><stop offset=".024" stop-color="#0239d8"/><stop offset=".071" stop-color="#2f07d5"/><stop offset=".11" stop-color="#8900db"/><stop offset=".152" stop-color="#cf00ed"/><stop offset=".176" stop-color="#da00f0"/><stop offset=".19" stop-color="#d200ee"/><stop offset=".219" stop-color="#e400f3"/><stop offset=".238" stop-color="#dc00f0"/><stop offset=".267" stop-color="#e900f4"/><stop offset=".286" stop-color="#e100f2"/><stop offset=".31" stop-color="#ea00f4"/><stop offset=".333" stop-color="#e400f2"/><stop offset=".357" stop-color="#eb00f4"/><stop offset=".376" stop-color="#e500f3"/><stop offset=".4" stop-color="#eb00f4"/><stop offset="1" stop-color="#eb00f4"/></linearGradient>
<linearGradient id="L187" gradientUnits="userSpaceOnUse" x1="0" x2="0" y1="276.5" y2="486.5"><stop offset="0" stop-color="#0057d6"/><stop offset=".01" stop-color="#0052d6"/><stop offset=".024" stop-color="#0338d8"/><stop offset=".067" stop-color="#2709d5"/><stop offset=".071" stop-color="#3107d5"/><stop offset=".114" stop-color="#9400de"/><stop offset=".152" stop-color="#d000ed"/><stop offset=".176" stop-color="#da00f0"/><stop offset=".19" stop-color="#d200ee"/><stop offset=".219" stop-color="#e400f3"/><stop offset=".238" stop-color="#dc00f0"/><stop offset=".267" stop-color="#e900f4"/><stop offset=".286" stop-color="#e100f2"/><stop offset=".31" stop-color="#ea00f4"/><stop offset=".333" stop-color="#e400f2"/><stop offset=".357" stop-color="#eb00f4"/><stop offset=".376" stop-color="#e500f3"/><stop offset=".4" stop-color="#eb00f4"/><stop offset="1" stop-color="#eb00f4"/></linearGradient>
<linearGradient id="L188" gradientUnits="userSpaceOnUse" x1="0" x2="0" y1="276.5" y2="486.5"><stop offset="0" stop-color="#0053d6"/><stop offset=".01" stop-color="#0050d7"/><stop offset=".024" stop-color="#0338d8"/><stop offset=".067" stop-color="#2809d5"/><stop offset=".1" stop-color="#7801d9"/><stop offset=".129" stop-color="#ae00e5"/><stop offset=".152" stop-color="#d000ee"/><stop offset=".176" stop-color="#db00f0"/><stop offset=".19" stop-color="#d300ee"/><stop offset=".219" stop-color="#e500f3"/><stop offset=".238" stop-color="#dc00f1"/><stop offset=".267" stop-color="#e900f4"/><stop offset=".286" stop-color="#e100f2"/><stop offset=".31" stop-color="#ea00f4"/><stop offset=".333" stop-color="#e400f2"/><stop offset=".357" stop-color="#eb00f4"/><stop offset=".376" stop-color="#e500f3"/><stop offset=".4" stop-color="#eb00f4"/><stop offset="1" stop-color="#eb00f4"/></linearGradient>
<linearGradient id="L189" gradientUnits="userSpaceOnUse" x1="0" x2="0" y1="277.5" y2="486.5"><stop offset="0" stop-color="#004fd7"/><stop offset=".014" stop-color="#003dd8"/><stop offset=".062" stop-color="#2908d5"/><stop offset=".096" stop-color="#7901d9"/><stop offset=".124" stop-color="#b000e5"/><stop offset=".148" stop-color="#d100ee"/><stop offset=".172" stop-color="#db00f0"/><stop offset=".187" stop-color="#d300ee"/><stop offset=".215" stop-color="#e500f3"/><stop offset=".234" stop-color="#dc00f1"/><stop offset=".263" stop-color="#e900f4"/><stop offset=".282" stop-color="#e100f2"/><stop offset=".306" stop-color="#ea00f4"/><stop offset=".33" stop-color="#e400f2"/><stop offset=".354" stop-color="#eb00f4"/><stop offset=".373" stop-color="#e500f3"/><stop offset=".397" stop-color="#eb00f4"/><stop offset="1" stop-color="#eb00f4"/></linearGradient>
<linearGradient id="L190" gradientUnits="userSpaceOnUse" x1="0" x2="0" y1="277.5" y2="486.5"><stop offset="0" stop-color="#004bd7"/><stop offset=".005" stop-color="#004bd7"/><stop offset=".014" stop-color="#013cd8"/><stop offset=".062" stop-color="#2a08d5"/><stop offset=".091" stop-color="#7001d9"/><stop offset=".124" stop-color="#b100e5"/><stop offset=".148" stop-color="#d200ee"/><stop offset=".172" stop-color="#db00f0"/><stop offset=".187" stop-color="#d300ee"/><stop offset=".215" stop-color="#e500f3"/><stop offset=".234" stop-color="#dd00f1"/><stop offset=".263" stop-color="#e900f4"/><stop offset=".282" stop-color="#e100f2"/><stop offset=".311" stop-color="#ea00f4"/><stop offset=".33" stop-color="#e400f3"/><stop offset=".354" stop-color="#eb00f4"/><stop offset=".373" stop-color="#e600f3"/><stop offset="1" stop-color="#eb00f4"/></linearGradient>
<linearGradient id="L191" gradientUnits="userSpaceOnUse" x1="0" x2="0" y1="277.5" y2="486.5"><stop offset="0" stop-color="#0048d7"/><stop offset=".01" stop-color="#0044d8"/><stop offset=".019" stop-color="#0436d8"/><stop offset=".062" stop-color="#2b08d5"/><stop offset=".1" stop-color="#8600da"/><stop offset=".129" stop-color="#b900e8"/><stop offset=".148" stop-color="#d200ee"/><stop offset=".172" stop-color="#dc00f0"/><stop offset=".187" stop-color="#d400ee"/><stop offset=".22" stop-color="#e600f3"/><stop offset=".234" stop-color="#dd00f1"/><stop offset=".263" stop-color="#e900f4"/><stop offset=".282" stop-color="#e100f2"/><stop offset=".311" stop-color="#ea00f4"/><stop offset=".33" stop-color="#e400f3"/><stop offset=".354" stop-color="#eb00f4"/><stop offset="1" stop-color="#eb00f4"/></linearGradient>
<linearGradient id="L192" gradientUnits="userSpaceOnUse" x1="0" x2="0" y1="277.5" y2="486.5"><stop offset="0" stop-color="#0044d8"/><stop offset=".014" stop-color="#023ad8"/><stop offset=".057" stop-color="#250bd5"/><stop offset=".096" stop-color="#7d00da"/><stop offset=".124" stop-color="#b300e6"/><stop offset=".148" stop-color="#d300ee"/><stop offset=".172" stop-color="#dc00f0"/><stop offset=".187" stop-color="#d400ee"/><stop offset=".22" stop-color="#e600f3"/><stop offset=".234" stop-color="#dd00f1"/><stop offset=".263" stop-color="#e900f4"/><stop offset=".282" stop-color="#e100f2"/><stop offset=".311" stop-color="#ea00f4"/><stop offset=".33" stop-color="#e400f3"/><stop offset=".354" stop-color="#eb00f4"/><stop offset="1" stop-color="#eb00f4"/></linearGradient>
<linearGradient id="L193" gradientUnits="userSpaceOnUse" x1="0" x2="0" y1="278.5" y2="486.5"><stop offset="0" stop-color="#0041d8"/><stop offset=".014" stop-color="#0534d8"/><stop offset=".058" stop-color="#2e07d5"/><stop offset=".091" stop-color="#7e00da"/><stop offset=".12" stop-color="#b400e6"/><stop offset=".144" stop-color="#d300ee"/><stop offset=".168" stop-color="#dc00f1"/><stop offset=".183" stop-color="#d400ef"/><stop offset=".212" stop-color="#e500f3"/><stop offset=".231" stop-color="#dd00f1"/><stop offset=".26" stop-color="#e900f4"/><stop offset=".279" stop-color="#e200f2"/><stop offset=".308" stop-color="#ea00f4"/><stop offset=".327" stop-color="#e400f3"/><stop offset=".351" stop-color="#eb00f4"/><stop offset="1" stop-color="#eb00f4"/></linearGradient>
<linearGradient id="L194" gradientUnits="userSpaceOnUse" x1="0" x2="0" y1="278.5" y2="486.5"><stop offset="0" stop-color="#003dd8"/><stop offset=".01" stop-color="#0238d8"/><stop offset=".058" stop-color="#2f07d5"/><stop offset=".087" stop-color="#7601d9"/><stop offset=".12" stop-color="#b500e6"/><stop offset=".139" stop-color="#d000ee"/><stop offset=".168" stop-color="#dc00f1"/><stop offset=".183" stop-color="#d500ef"/><stop offset=".212" stop-color="#e500f3"/><stop offset=".231" stop-color="#de00f1"/><stop offset=".26" stop-color="#e900f4"/><stop offset=".279" stop-color="#e200f2"/><stop offset=".308" stop-color="#ea00f4"/><stop offset=".327" stop-color="#e400f3"/><stop offset=".351" stop-color="#eb00f4"/><stop offset="1" stop-color="#eb00f4"/></linearGradient>
<linearGradient id="L195" gradientUnits="userSpaceOnUse" x1="0" x2="0" y1="278.5" y2="486.5"><stop offset="0" stop-color="#013bd8"/><stop offset=".01" stop-color="#0238d8"/><stop offset=".058" stop-color="#3107d5"/><stop offset=".087" stop-color="#7701d9"/><stop offset=".12" stop-color="#b600e6"/><stop offset=".139" stop-color="#d100ee"/><stop offset=".168" stop-color="#dd00f1"/><stop offset=".183" stop-color="#d500ef"/><stop offset=".212" stop-color="#e500f3"/><stop offset=".231" stop-color="#de00f1"/><stop offset=".26" stop-color="#e900f4"/><stop offset=".279" stop-color="#e200f2"/><stop offset=".308" stop-color="#ea00f4"/><stop offset=".327" stop-color="#e400f3"/><stop offset=".351" stop-color="#eb00f4"/><stop offset="1" stop-color="#eb00f4"/></linearGradient>
<linearGradient id="L196" gradientUnits="userSpaceOnUse" x1="0" x2="0" y1="278.5" y2="486.5"><stop offset="0" stop-color="#0238d8"/><stop offset=".01" stop-color="#0437d8"/><stop offset=".053" stop-color="#2809d5"/><stop offset=".091" stop-color="#8300da"/><stop offset=".12" stop-color="#b700e7"/><stop offset=".139" stop-color="#d100ee"/><stop offset=".168" stop-color="#dd00f1"/><stop offset=".183" stop-color="#d500ef"/><stop offset=".212" stop-color="#e500f3"/><stop offset=".231" stop-color="#de00f1"/><stop offset=".26" stop-color="#ea00f4"/><stop offset=".279" stop-color="#e200f2"/><stop offset=".308" stop-color="#eb00f4"/><stop offset=".322" stop-color="#e400f3"/><stop offset=".351" stop-color="#eb00f4"/><stop offset="1" stop-color="#eb00f4"/></linearGradient>
<linearGradient id="L197" gradientUnits="userSpaceOnUse" x1="0" x2="0" y1="279.5" y2="486.5"><stop offset="0" stop-color="#0437d8"/><stop offset=".043" stop-color="#240dd5"/><stop offset=".053" stop-color="#3306d5"/><stop offset=".087" stop-color="#8400da"/><stop offset=".121" stop-color="#bf00e9"/><stop offset=".135" stop-color="#d200ee"/><stop offset=".164" stop-color="#dd00f1"/><stop offset=".179" stop-color="#d600ef"/><stop offset=".208" stop-color="#e500f3"/><stop offset=".227" stop-color="#de00f1"/><stop offset=".256" stop-color="#ea00f4"/><stop offset=".275" stop-color="#e200f2"/><stop offset=".304" stop-color="#eb00f4"/><stop offset=".324" stop-color="#e500f3"/><stop offset=".348" stop-color="#eb00f4"/><stop offset="1" stop-color="#eb00f4"/></linearGradient>
<linearGradient id="L198" gradientUnits="userSpaceOnUse" x1="0" x2="0" y1="279.5" y2="486.5"><stop offset="0" stop-color="#0534d8"/><stop offset=".048" stop-color="#2a08d5"/><stop offset=".082" stop-color="#7b00da"/><stop offset=".116" stop-color="#b900e7"/><stop offset=".135" stop-color="#d200ee"/><stop offset=".164" stop-color="#dd00f1"/><stop offset=".179" stop-color="#d600ef"/><stop offset=".208" stop-color="#e600f3"/><stop offset=".227" stop-color="#de00f1"/><stop offset=".251" stop-color="#e900f4"/><stop offset=".275" stop-color="#e200f2"/><stop offset=".304" stop-color="#eb00f4"/><stop offset=".324" stop-color="#e500f3"/><stop offset=".348" stop-color="#eb00f4"/><stop offset="1" stop-color="#eb00f4"/></linearGradient>
<linearGradient id="L199" gradientUnits="userSpaceOnUse" x1="0" x2="0" y1="279.5" y2="486.5"><stop offset="0" stop-color="#0733d8"/><stop offset=".01" stop-color="#0930d7"/><stop offset=".048" stop-color="#2b08d5"/><stop offset=".092" stop-color="#9000dd"/><stop offset=".13" stop-color="#ce00ed"/><stop offset=".164" stop-color="#de00f1"/><stop offset=".179" stop-color="#d600ef"/><stop offset=".213" stop-color="#e600f3"/><stop offset=".227" stop-color="#df00f1"/><stop offset=".251" stop-color="#e900f4"/><stop offset=".275" stop-color="#e200f2"/><stop offset=".304" stop-color="#eb00f4"/><stop offset=".324" stop-color="#e500f3"/><stop offset=".348" stop-color="#eb00f4"/><stop offset="1" stop-color="#eb00f4"/></linearGradient>
<linearGradient id="L200" gradientUnits="userSpaceOnUse" x1="0" x2="0" y1="279.5" y2="486.5"><stop offset="0" stop-color="#0830d7"/><stop offset=".01" stop-color="#0a2fd7"/><stop offset=".048" stop-color="#2c07d5"/><stop offset=".087" stop-color="#8800db"/><stop offset=".13" stop-color="#cf00ed"/><stop offset=".164" stop-color="#de00f1"/><stop offset=".179" stop-color="#d700ef"/><stop offset=".213" stop-color="#e700f3"/><stop offset=".227" stop-color="#df00f1"/><stop offset=".251" stop-color="#e900f4"/><stop offset=".275" stop-color="#e300f2"/><stop offset=".304" stop-color="#eb00f4"/><stop offset=".324" stop-color="#e500f3"/><stop offset=".348" stop-color="#eb00f4"/><stop offset="1" stop-color="#eb00f4"/></linearGradient>
<linearGradient id="L201" gradientUnits="userSpaceOnUse" x1="0" x2="0" y1="280.5" y2="486.5"><stop offset="0" stop-color="#0a2fd7"/><stop offset=".039" stop-color="#260ad5"/><stop offset=".083" stop-color="#8900db"/><stop offset=".121" stop-color="#c900ec"/><stop offset=".16" stop-color="#de00f1"/><stop offset=".175" stop-color="#d700ef"/><stop offset=".209" stop-color="#e700f3"/><stop offset=".223" stop-color="#df00f1"/><stop offset=".252" stop-color="#ea00f4"/><stop offset=".272" stop-color="#e300f2"/><stop offset=".301" stop-color="#eb00f4"/><stop offset=".32" stop-color="#e500f3"/><stop offset=".345" stop-color="#eb00f4"/><stop offset="1" stop-color="#eb00f4"/></linearGradient>
<linearGradient id="L202" gradientUnits="userSpaceOnUse" x1="0" x2="0" y1="280.5" y2="486.5"><stop offset="0" stop-color="#0b2dd7"/><stop offset=".039" stop-color="#260ad5"/><stop offset=".087" stop-color="#9300dd"/><stop offset=".121" stop-color="#ca00ec"/><stop offset=".16" stop-color="#de00f1"/><stop offset=".175" stop-color="#d700ef"/><stop offset=".209" stop-color="#e700f3"/><stop offset=".223" stop-color="#df00f1"/><stop offset=".252" stop-color="#ea00f4"/><stop offset=".272" stop-color="#e300f2"/><stop offset=".301" stop-color="#eb00f4"/><stop offset=".32" stop-color="#e500f3"/><stop offset=".345" stop-color="#eb00f4"/><stop offset="1" stop-color="#eb00f4"/></linearGradient>
<linearGradient id="L203" gradientUnits="userSpaceOnUse" x1="0" x2="0" y1="280.5" y2="486.5"><stop offset="0" stop-color="#0d2bd7"/><stop offset=".01" stop-color="#0f28d7"/><stop offset=".039" stop-color="#2709d5"/><stop offset=".087" stop-color="#9500de"/><stop offset=".121" stop-color="#cb00ec"/><stop offset=".16" stop-color="#de00f1"/><stop offset=".175" stop-color="#d700ef"/><stop offset=".209" stop-color="#e700f3"/><stop offset=".223" stop-color="#df00f1"/><stop offset=".252" stop-color="#ea00f4"/><stop offset=".272" stop-color="#e300f2"/><stop offset=".301" stop-color="#eb00f4"/><stop offset=".32" stop-color="#e500f3"/><stop offset=".345" stop-color="#eb00f4"/><stop offset="1" stop-color="#eb00f4"/></linearGradient>
<linearGradient id="L204" gradientUnits="userSpaceOnUse" x1="0" x2="0" y1="280.5" y2="486.5"><stop offset="0" stop-color="#0e29d7"/><stop offset=".01" stop-color="#0f27d7"/><stop offset=".039" stop-color="#2809d5"/><stop offset=".083" stop-color="#8c00dc"/><stop offset=".121" stop-color="#cc00ec"/><stop offset=".16" stop-color="#de00f1"/><stop offset=".18" stop-color="#d800f0"/><stop offset=".209" stop-color="#e700f3"/><stop offset=".223" stop-color="#df00f1"/><stop offset=".252" stop-color="#ea00f4"/><stop offset=".272" stop-color="#e300f2"/><stop offset=".301" stop-color="#eb00f4"/><stop offset=".32" stop-color="#e500f3"/><stop offset=".345" stop-color="#eb00f4"/><stop offset="1" stop-color="#eb00f4"/></linearGradient>
<linearGradient id="L205" gradientUnits="userSpaceOnUse" x1="0" x2="0" y1="281.5" y2="486.5"><stop offset="0" stop-color="#1027d7"/><stop offset=".034" stop-color="#2809d5"/><stop offset=".078" stop-color="#8e00dc"/><stop offset=".117" stop-color="#cc00ec"/><stop offset=".156" stop-color="#df00f1"/><stop offset=".171" stop-color="#d800ef"/><stop offset=".205" stop-color="#e700f3"/><stop offset=".22" stop-color="#e000f1"/><stop offset=".249" stop-color="#ea00f4"/><stop offset=".268" stop-color="#e300f2"/><stop offset=".298" stop-color="#eb00f4"/><stop offset=".317" stop-color="#e500f3"/><stop offset=".341" stop-color="#eb00f4"/><stop offset="1" stop-color="#eb00f4"/></linearGradient>
<linearGradient id="L206" gradientUnits="userSpaceOnUse" x1="0" x2="0" y1="281.5" y2="486.5"><stop offset="0" stop-color="#1126d7"/><stop offset=".034" stop-color="#2a08d5"/><stop offset=".073" stop-color="#8500da"/><stop offset=".107" stop-color="#c000e9"/><stop offset=".122" stop-color="#d200ee"/><stop offset=".156" stop-color="#df00f1"/><stop offset=".171" stop-color="#d800f0"/><stop offset=".2" stop-color="#e600f3"/><stop offset=".22" stop-color="#e000f1"/><stop offset=".249" stop-color="#ea00f4"/><stop offset=".268" stop-color="#e300f2"/><stop offset=".298" stop-color="#eb00f4"/><stop offset=".317" stop-color="#e500f3"/><stop offset=".341" stop-color="#eb00f4"/><stop offset="1" stop-color="#eb00f4"/></linearGradient>
<linearGradient id="L207" gradientUnits="userSpaceOnUse" x1="0" x2="0" y1="281.5" y2="486.5"><stop offset="0" stop-color="#1224d7"/><stop offset=".034" stop-color="#2b08d5"/><stop offset=".073" stop-color="#8600da"/><stop offset=".112" stop-color="#c800eb"/><stop offset=".122" stop-color="#d300ee"/><stop offset=".156" stop-color="#df00f1"/><stop offset=".171" stop-color="#d800f0"/><stop offset=".2" stop-color="#e600f3"/><stop offset=".22" stop-color="#e000f1"/><stop offset=".249" stop-color="#ea00f4"/><stop offset=".268" stop-color="#e300f2"/><stop offset=".298" stop-color="#eb00f4"/><stop offset=".317" stop-color="#e500f3"/><stop offset=".341" stop-color="#eb00f4"/><stop offset="1" stop-color="#eb00f4"/></linearGradient>
<linearGradient id="L208" gradientUnits="userSpaceOnUse" x1="0" x2="0" y1="281.5" y2="486.5"><stop offset="0" stop-color="#1322d6"/><stop offset=".034" stop-color="#2c08d5"/><stop offset=".068" stop-color="#7e00da"/><stop offset=".112" stop-color="#c900ec"/><stop offset=".122" stop-color="#d300ee"/><stop offset=".156" stop-color="#df00f1"/><stop offset=".176" stop-color="#d900f0"/><stop offset=".2" stop-color="#e600f3"/><stop offset=".22" stop-color="#e000f1"/><stop offset=".249" stop-color="#ea00f4"/><stop offset=".268" stop-color="#e300f2"/><stop offset=".298" stop-color="#eb00f4"/><stop offset=".317" stop-color="#e500f3"/><stop offset=".341" stop-color="#eb00f4"/><stop offset="1" stop-color="#eb00f4"/></linearGradient>
<linearGradient id="L209" gradientUnits="userSpaceOnUse" x1="0" x2="0" y1="281.5" y2="486.5"><stop offset="0" stop-color="#1520d6"/><stop offset=".01" stop-color="#161ed6"/><stop offset=".034" stop-color="#2d07d5"/><stop offset=".078" stop-color="#9200dd"/><stop offset=".117" stop-color="#d000ee"/><stop offset=".156" stop-color="#e000f1"/><stop offset=".176" stop-color="#da00f0"/><stop offset=".2" stop-color="#e600f3"/><stop offset=".22" stop-color="#e000f2"/><stop offset=".249" stop-color="#ea00f4"/><stop offset=".268" stop-color="#e300f2"/><stop offset=".298" stop-color="#eb00f4"/><stop offset=".317" stop-color="#e500f3"/><stop offset=".341" stop-color="#eb00f4"/><stop offset="1" stop-color="#eb00f4"/></linearGradient>
<linearGradient id="L210" gradientUnits="userSpaceOnUse" x1="0" x2="0" y1="282.5" y2="486.5"><stop offset="0" stop-color="#161ed6"/><stop offset=".025" stop-color="#260ad5"/><stop offset=".069" stop-color="#8a00db"/><stop offset=".103" stop-color="#c400ea"/><stop offset=".118" stop-color="#d400ee"/><stop offset=".152" stop-color="#e000f1"/><stop offset=".172" stop-color="#da00f0"/><stop offset=".196" stop-color="#e600f3"/><stop offset=".216" stop-color="#e000f2"/><stop offset=".245" stop-color="#ea00f4"/><stop offset=".265" stop-color="#e400f2"/><stop offset=".294" stop-color="#eb00f4"/><stop offset="1" stop-color="#eb00f4"/></linearGradient>
<linearGradient id="L211" gradientUnits="userSpaceOnUse" x1="0" x2="0" y1="282.5" y2="486.5"><stop offset="0" stop-color="#181cd6"/><stop offset=".025" stop-color="#2709d5"/><stop offset=".069" stop-color="#8b00dc"/><stop offset=".108" stop-color="#cb00ec"/><stop offset=".152" stop-color="#e000f1"/><stop offset=".172" stop-color="#da00f0"/><stop offset=".196" stop-color="#e700f3"/><stop offset=".216" stop-color="#e000f2"/><stop offset=".245" stop-color="#ea00f4"/><stop offset=".265" stop-color="#e400f2"/><stop offset=".294" stop-color="#eb00f4"/><stop offset="1" stop-color="#eb00f4"/></linearGradient>
<linearGradient id="L212" gradientUnits="userSpaceOnUse" x1="0" x2="0" y1="282.5" y2="486.5"><stop offset="0" stop-color="#191bd6"/><stop offset=".025" stop-color="#2809d5"/><stop offset=".064" stop-color="#8300da"/><stop offset=".103" stop-color="#c600eb"/><stop offset=".113" stop-color="#d200ee"/><stop offset=".152" stop-color="#e000f2"/><stop offset=".172" stop-color="#da00f0"/><stop offset=".196" stop-color="#e700f3"/><stop offset=".216" stop-color="#e000f2"/><stop offset=".245" stop-color="#ea00f4"/><stop offset=".265" stop-color="#e400f2"/><stop offset=".294" stop-color="#eb00f4"/><stop offset="1" stop-color="#eb00f4"/></linearGradient>
<linearGradient id="L213" gradientUnits="userSpaceOnUse" x1="0" x2="0" y1="282.5" y2="486.5"><stop offset="0" stop-color="#1a1ad6"/><stop offset=".025" stop-color="#2908d5"/><stop offset=".069" stop-color="#8e00dc"/><stop offset=".103" stop-color="#c700eb"/><stop offset=".118" stop-color="#d500ef"/><stop offset=".152" stop-color="#e000f2"/><stop offset=".172" stop-color="#da00f0"/><stop offset=".201" stop-color="#e800f3"/><stop offset=".216" stop-color="#e100f2"/><stop offset=".245" stop-color="#ea00f4"/><stop offset=".265" stop-color="#e400f2"/><stop offset=".294" stop-color="#eb00f4"/><stop offset="1" stop-color="#eb00f4"/></linearGradient>
<linearGradient id="L214" gradientUnits="userSpaceOnUse" x1="0" x2="0" y1="282.5" y2="486.5"><stop offset="0" stop-color="#1b18d6"/><stop offset=".025" stop-color="#2a08d5"/><stop offset=".069" stop-color="#8f00dc"/><stop offset=".103" stop-color="#c800eb"/><stop offset=".113" stop-color="#d200ee"/><stop offset=".152" stop-color="#e000f2"/><stop offset=".172" stop-color="#da00f0"/><stop offset=".201" stop-color="#e800f3"/><stop offset=".216" stop-color="#e100f2"/><stop offset=".245" stop-color="#ea00f4"/><stop offset=".265" stop-color="#e400f3"/><stop offset=".294" stop-color="#eb00f4"/><stop offset="1" stop-color="#eb00f4"/></linearGradient>
<linearGradient id="L215" gradientUnits="userSpaceOnUse" x1="0" x2="0" y1="283.5" y2="486.5"><stop offset="0" stop-color="#1c16d6"/><stop offset=".02" stop-color="#2c08d5"/><stop offset=".059" stop-color="#8700da"/><stop offset=".103" stop-color="#cf00ed"/><stop offset=".148" stop-color="#e000f2"/><stop offset=".167" stop-color="#db00f0"/><stop offset=".197" stop-color="#e800f4"/><stop offset=".212" stop-color="#e100f2"/><stop offset=".241" stop-color="#ea00f4"/><stop offset=".261" stop-color="#e400f3"/><stop offset=".291" stop-color="#eb00f4"/><stop offset="1" stop-color="#eb00f4"/></linearGradient>
<linearGradient id="L216" gradientUnits="userSpaceOnUse" x1="0" x2="0" y1="283.5" y2="486.5"><stop offset="0" stop-color="#1e14d6"/><stop offset=".02" stop-color="#2c08d5"/><stop offset=".059" stop-color="#8800db"/><stop offset=".094" stop-color="#c200ea"/><stop offset=".108" stop-color="#d300ee"/><stop offset=".148" stop-color="#e000f2"/><stop offset=".167" stop-color="#db00f0"/><stop offset=".197" stop-color="#e800f4"/><stop offset=".212" stop-color="#e100f2"/><stop offset=".241" stop-color="#ea00f4"/><stop offset=".261" stop-color="#e400f3"/><stop offset=".291" stop-color="#eb00f4"/><stop offset="1" stop-color="#eb00f4"/></linearGradient>
<linearGradient id="L217" gradientUnits="userSpaceOnUse" x1="0" x2="0" y1="283.5" y2="486.5"><stop offset="0" stop-color="#1f12d5"/><stop offset=".02" stop-color="#2d07d5"/><stop offset=".054" stop-color="#7f00da"/><stop offset=".094" stop-color="#c300ea"/><stop offset=".108" stop-color="#d400ee"/><stop offset=".148" stop-color="#e100f2"/><stop offset=".167" stop-color="#db00f0"/><stop offset=".197" stop-color="#e800f4"/><stop offset=".212" stop-color="#e100f2"/><stop offset=".241" stop-color="#ea00f4"/><stop offset=".261" stop-color="#e400f3"/><stop offset=".291" stop-color="#eb00f4"/><stop offset="1" stop-color="#eb00f4"/></linearGradient>
<linearGradient id="L218" gradientUnits="userSpaceOnUse" x1="0" x2="0" y1="283.5" y2="486.5"><stop offset="0" stop-color="#2011d5"/><stop offset=".015" stop-color="#270ad5"/><stop offset=".064" stop-color="#9400de"/><stop offset=".099" stop-color="#cb00ec"/><stop offset=".148" stop-color="#e100f2"/><stop offset=".167" stop-color="#db00f0"/><stop offset=".197" stop-color="#e800f4"/><stop offset=".212" stop-color="#e100f2"/><stop offset=".241" stop-color="#ea00f4"/><stop offset=".261" stop-color="#e400f3"/><stop offset=".291" stop-color="#eb00f4"/><stop offset="1" stop-color="#eb00f4"/></linearGradient>
<linearGradient id="L219" gradientUnits="userSpaceOnUse" x1="0" x2="0" y1="283.5" y2="486.5"><stop offset="0" stop-color="#520cdc"/><stop offset=".015" stop-color="#5508dc"/><stop offset=".034" stop-color="#7803de"/><stop offset=".039" stop-color="#6901a8"/><stop offset=".059" stop-color="#7e00aa"/><stop offset=".103" stop-color="#a100b3"/><stop offset=".153" stop-color="#aa00b6"/><stop offset=".158" stop-color="#d200e2"/><stop offset=".163" stop-color="#dd00f0"/><stop offset=".192" stop-color="#e600f3"/><stop offset="1" stop-color="#eb00f4"/></linearGradient>
<linearGradient id="L220" gradientUnits="userSpaceOnUse" x1="0" x2="0" y1="324.5" y2="486.5"><stop offset="0" stop-color="#ea00f4"/><stop offset="1" stop-color="#eb00f4"/></linearGradient>
<linearGradient id="L221" gradientUnits="userSpaceOnUse" x1="0" x2="0" y1="360.5" y2="486.5"><stop offset="0" stop-color="#ea00f4"/><stop offset="1" stop-color="#eb00f4"/></linearGradient>
<linearGradient id="L222" gradientUnits="userSpaceOnUse" x1="0" x2="0" y1="392.5" y2="486.5"><stop offset="0" stop-color="#eb00f4"/><stop offset="1" stop-color="#eb00f4"/></linearGradient>
<linearGradient id="L223" gradientUnits="userSpaceOnUse" x1="0" x2="0" y1="426.5" y2="486.5"><stop offset="0" stop-color="#eb00f4"/><stop offset="1" stop-color="#eb00f4"/></linearGradient>
<linearGradient id="L224" gradientUnits="userSpaceOnUse" x1="0" x2="0" y1="459.5" y2="486.5"><stop offset="0" stop-color="#eb00f4"/><stop offset="1" stop-color="#eb00f4"/></linearGradient>
<clipPath id="clipR"><path d="M354.12 480.5L360.88 296.25L363.62 291.5L365.62 287.5L366.38 286.5L366.88 286.5L367.12 286.25L368.12 286.25L368.38 286L369.88 286L370.12 285.75L371.38 285.75L371.62 285.5L372.38 285.5L372.62 285.25L373.12 285.25L373.62 284.75L374.38 284.5L375.38 283.5L375.62 283L378.62 240.5L379.62 233.5L380.38 231.5L380.62 231.25L381.12 231.25L382.38 233.5L383.12 236.25L384.88 245.25L388.12 266.25L389.62 269.75L391.62 272.25L392.62 272.75L394.12 272.75L394.62 272.5L395.62 271.5L395.88 271.5L396.38 270.75L397.38 270L399.62 267L399.88 267L400.62 266.25L402.12 264.25L403.88 262.5L404.12 262.5L404.62 261.75L405.38 261.5L406.38 260.75L406.88 260.75L408.38 260L409.12 260L409.38 259.75L411.88 259.75L412.12 260L412.88 260L414.38 260.75L415.62 261L416.38 261.5L417.12 261.5L417.62 262L418.38 262.25L418.88 262.75L420.88 263.75L421.88 264.75L422.62 265L423.62 266L423.88 266L424.88 267L425.12 267L428.62 270L430.12 270.75L431.12 271.75L432.62 272.5L433.12 273L433.88 273.25L436.38 275.25L437.12 275.5L437.62 276L439.62 277L440.12 277.5L441.62 278.25L442.12 278.75L442.88 279L443.38 279.5L444.12 279.5L445.38 280.5L446.12 280.5L446.62 281L447.38 281L447.62 281.25L448.12 281.25L448.62 281.75L449.38 281.75L449.62 282L450.12 282L451.12 282.5L451.88 282.5L452.12 282.75L452.62 282.75L452.88 283L453.38 283L454.38 283.5L455.12 283.5L455.38 283.75L455.88 283.75L456.88 284.25L457.88 284.25L458.88 284.75L459.88 284.75L460.88 285.25L461.88 285.25L462.12 285.5L463.12 285.5L463.38 285.75L464.38 285.75L464.62 286L465.62 286L465.88 286.25L466.88 286.25L467.12 286.5L469.38 286.75L469.62 287L470.38 287L470.62 287.25L472.12 287.25L472.38 287.5L473.62 287.5L473.88 287.75L474.88 287.75L475.12 325.25L478.62 484.25L478.62 484.4L354.12 484.4Z"/></clipPath>
<linearGradient id="R354" gradientUnits="userSpaceOnUse" x1="0" x2="0" y1="452.5" y2="486.5"><stop offset="0" stop-color="#9b07cc"/><stop offset="1" stop-color="#9e07ce"/></linearGradient>
<linearGradient id="R355" gradientUnits="userSpaceOnUse" x1="0" x2="0" y1="424.5" y2="486.5"><stop offset="0" stop-color="#9b07cc"/><stop offset=".597" stop-color="#9c07cc"/><stop offset="1" stop-color="#a706d3"/></linearGradient>
<linearGradient id="R356" gradientUnits="userSpaceOnUse" x1="0" x2="0" y1="397.5" y2="486.5"><stop offset="0" stop-color="#9b07cc"/><stop offset=".416" stop-color="#9c07cc"/><stop offset="1" stop-color="#ae05d7"/></linearGradient>
<linearGradient id="R357" gradientUnits="userSpaceOnUse" x1="0" x2="0" y1="370.5" y2="486.5"><stop offset="0" stop-color="#9a07cb"/><stop offset=".31" stop-color="#9c07cc"/><stop offset=".647" stop-color="#ac05d4"/><stop offset="1" stop-color="#a606d3"/></linearGradient>
<linearGradient id="R358" gradientUnits="userSpaceOnUse" x1="0" x2="0" y1="343.5" y2="486.5"><stop offset="0" stop-color="#9207c9"/><stop offset=".189" stop-color="#9607ca"/><stop offset=".517" stop-color="#ac05d4"/><stop offset="1" stop-color="#a406d2"/></linearGradient>
<linearGradient id="R359" gradientUnits="userSpaceOnUse" x1="0" x2="0" y1="315.5" y2="486.5"><stop offset="0" stop-color="#8707c6"/><stop offset=".164" stop-color="#8c07c8"/><stop offset=".427" stop-color="#ac05d4"/><stop offset=".778" stop-color="#a106d0"/><stop offset="1" stop-color="#ac05d7"/></linearGradient>
<linearGradient id="R360" gradientUnits="userSpaceOnUse" x1="0" x2="0" y1="294.5" y2="486.5"><stop offset="0" stop-color="#a104d0"/><stop offset=".036" stop-color="#9804cd"/><stop offset=".078" stop-color="#7f06c4"/><stop offset=".401" stop-color="#aa05d4"/><stop offset=".656" stop-color="#a206d0"/><stop offset="1" stop-color="#ae05d8"/></linearGradient>
<linearGradient id="R361" gradientUnits="userSpaceOnUse" x1="0" x2="0" y1="293.5" y2="486.5"><stop offset="0" stop-color="#d300e4"/><stop offset=".016" stop-color="#d000e3"/><stop offset=".062" stop-color="#9304cc"/><stop offset=".073" stop-color="#8c05c9"/><stop offset=".28" stop-color="#a205d2"/><stop offset=".497" stop-color="#a206d0"/><stop offset=".756" stop-color="#af04d8"/><stop offset="1" stop-color="#a606d4"/></linearGradient>
<linearGradient id="R362" gradientUnits="userSpaceOnUse" x1="0" x2="0" y1="291.5" y2="486.5"><stop offset="0" stop-color="#bf00df"/><stop offset=".021" stop-color="#b0d"/><stop offset=".077" stop-color="#9604cf"/><stop offset=".318" stop-color="#9b05ce"/><stop offset=".564" stop-color="#ae04d7"/><stop offset="1" stop-color="#a806d4"/></linearGradient>
<linearGradient id="R363" gradientUnits="userSpaceOnUse" x1="0" x2="0" y1="289.5" y2="486.5"><stop offset="0" stop-color="#9900d5"/><stop offset=".025" stop-color="#9b00d5"/><stop offset=".081" stop-color="#8a04cb"/><stop offset=".457" stop-color="#ae04d7"/><stop offset=".731" stop-color="#a606d3"/><stop offset="1" stop-color="#af05d8"/></linearGradient>
<linearGradient id="R364" gradientUnits="userSpaceOnUse" x1="0" x2="0" y1="287.5" y2="486.5"><stop offset="0" stop-color="#7001cc"/><stop offset=".201" stop-color="#9403d0"/><stop offset=".362" stop-color="#a504d6"/><stop offset=".839" stop-color="#b004d9"/><stop offset="1" stop-color="#ad05d7"/></linearGradient>
<linearGradient id="R365" gradientUnits="userSpaceOnUse" x1="0" x2="0" y1="286.5" y2="486.5"><stop offset="0" stop-color="#4c04cc"/><stop offset=".075" stop-color="#6e03cc"/><stop offset=".16" stop-color="#8903d0"/><stop offset=".27" stop-color="#9904d4"/><stop offset=".68" stop-color="#b004da"/><stop offset="1" stop-color="#a606d4"/></linearGradient>
<linearGradient id="R366" gradientUnits="userSpaceOnUse" x1="0" x2="0" y1="285.5" y2="486.5"><stop offset="0" stop-color="#3406d0"/><stop offset=".08" stop-color="#6704d0"/><stop offset=".159" stop-color="#8403d1"/><stop offset=".249" stop-color="#9404d3"/><stop offset=".547" stop-color="#af04da"/><stop offset=".831" stop-color="#a606d4"/><stop offset="1" stop-color="#aa05d6"/></linearGradient>
<linearGradient id="R367" gradientUnits="userSpaceOnUse" x1="0" x2="0" y1="285.5" y2="486.5"><stop offset="0" stop-color="#2d07d3"/><stop offset=".075" stop-color="#6205d0"/><stop offset=".154" stop-color="#8103d1"/><stop offset=".308" stop-color="#9e03d7"/><stop offset=".468" stop-color="#aa04d8"/><stop offset=".716" stop-color="#a605d4"/><stop offset="1" stop-color="#b004d9"/></linearGradient>
<linearGradient id="R368" gradientUnits="userSpaceOnUse" x1="0" x2="0" y1="285.5" y2="486.5"><stop offset="0" stop-color="#2907d3"/><stop offset=".07" stop-color="#5a05d1"/><stop offset=".104" stop-color="#6004cf"/><stop offset=".154" stop-color="#7e03d2"/><stop offset=".254" stop-color="#9603d6"/><stop offset=".761" stop-color="#b104da"/><stop offset="1" stop-color="#ab05d6"/></linearGradient>
<linearGradient id="R369" gradientUnits="userSpaceOnUse" x1="0" x2="0" y1="284.5" y2="486.5"><stop offset="0" stop-color="#2708d3"/><stop offset=".01" stop-color="#2808d3"/><stop offset=".074" stop-color="#5405d0"/><stop offset=".109" stop-color="#5305cd"/><stop offset=".144" stop-color="#7203d0"/><stop offset=".178" stop-color="#8403d1"/><stop offset=".272" stop-color="#9504d4"/><stop offset=".589" stop-color="#b104da"/><stop offset="1" stop-color="#a506d3"/></linearGradient>
<linearGradient id="R370" gradientUnits="userSpaceOnUse" x1="0" x2="0" y1="284.5" y2="486.5"><stop offset="0" stop-color="#2609d2"/><stop offset=".015" stop-color="#2808d2"/><stop offset=".074" stop-color="#4c06ce"/><stop offset=".089" stop-color="#4b06cd"/><stop offset=".104" stop-color="#3f06ca"/><stop offset=".149" stop-color="#7004cf"/><stop offset=".193" stop-color="#8703d2"/><stop offset=".302" stop-color="#9c04d8"/><stop offset=".55" stop-color="#af04da"/><stop offset=".797" stop-color="#a606d3"/><stop offset="1" stop-color="#af05d9"/></linearGradient>
<linearGradient id="R371" gradientUnits="userSpaceOnUse" x1="0" x2="0" y1="284.5" y2="486.5"><stop offset="0" stop-color="#240bd2"/><stop offset=".069" stop-color="#3e07d0"/><stop offset=".079" stop-color="#3d07ce"/><stop offset=".094" stop-color="#270ccb"/><stop offset=".099" stop-color="#280ccb"/><stop offset=".139" stop-color="#6204d1"/><stop offset=".163" stop-color="#7b03d4"/><stop offset=".198" stop-color="#8d03d7"/><stop offset=".272" stop-color="#9e03da"/><stop offset=".446" stop-color="#a804d8"/><stop offset=".708" stop-color="#a706d4"/><stop offset="1" stop-color="#b903df"/></linearGradient>
<linearGradient id="R372" gradientUnits="userSpaceOnUse" x1="0" x2="0" y1="284.5" y2="486.5"><stop offset="0" stop-color="#220dd2"/><stop offset=".059" stop-color="#3307cf"/><stop offset=".074" stop-color="#2c0acb"/><stop offset=".089" stop-color="#1819c7"/><stop offset=".094" stop-color="#1a16c8"/><stop offset=".119" stop-color="#3308ca"/><stop offset=".139" stop-color="#5a05cf"/><stop offset=".168" stop-color="#7e03d3"/><stop offset=".203" stop-color="#9203d8"/><stop offset=".248" stop-color="#9b04d9"/><stop offset=".505" stop-color="#a404d3"/><stop offset=".782" stop-color="#b603db"/><stop offset=".946" stop-color="#af02d9"/><stop offset="1" stop-color="#bc02e2"/></linearGradient>
<linearGradient id="R373" gradientUnits="userSpaceOnUse" x1="0" x2="0" y1="283.5" y2="486.5"><stop offset="0" stop-color="#2010d0"/><stop offset=".054" stop-color="#280bcb"/><stop offset=".064" stop-color="#220fc9"/><stop offset=".074" stop-color="#1126c5"/><stop offset=".084" stop-color="#082cc4"/><stop offset=".118" stop-color="#2110c7"/><stop offset=".158" stop-color="#6504cd"/><stop offset=".182" stop-color="#8203d0"/><stop offset=".207" stop-color="#9104d5"/><stop offset=".246" stop-color="#9804d6"/><stop offset=".498" stop-color="#a103d4"/><stop offset=".65" stop-color="#b402db"/><stop offset=".847" stop-color="#af02d9"/><stop offset=".941" stop-color="#a001d6"/><stop offset=".975" stop-color="#b801e3"/><stop offset="1" stop-color="#b801e3"/></linearGradient>
<linearGradient id="R374" gradientUnits="userSpaceOnUse" x1="0" x2="0" y1="282.5" y2="486.5"><stop offset="0" stop-color="#1b16ce"/><stop offset=".039" stop-color="#2011cb"/><stop offset=".049" stop-color="#1241c3"/><stop offset=".054" stop-color="#0f46c2"/><stop offset=".059" stop-color="#0659be"/><stop offset=".069" stop-color="#0058be"/><stop offset=".093" stop-color="#0335c3"/><stop offset=".118" stop-color="#131dc5"/><stop offset=".142" stop-color="#3009c6"/><stop offset=".167" stop-color="#6104ca"/><stop offset=".196" stop-color="#8603d0"/><stop offset=".216" stop-color="#9204d4"/><stop offset=".279" stop-color="#a404da"/><stop offset=".338" stop-color="#a804da"/><stop offset=".475" stop-color="#8f02ce"/><stop offset=".588" stop-color="#a702d6"/><stop offset=".667" stop-color="#aa02d8"/><stop offset=".833" stop-color="#9e00d6"/><stop offset=".931" stop-color="#8500d0"/><stop offset=".946" stop-color="#8d00d3"/><stop offset=".971" stop-color="#ae00e3"/><stop offset="1" stop-color="#af00e3"/></linearGradient>
<linearGradient id="R375" gradientUnits="userSpaceOnUse" x1="0" x2="0" y1="276.5" y2="486.5"><stop offset="0" stop-color="#1142ac"/><stop offset=".033" stop-color="#1041b0"/><stop offset=".038" stop-color="#0c639b"/><stop offset=".048" stop-color="#0b689e"/><stop offset=".052" stop-color="#067f9b"/><stop offset=".057" stop-color="#067da0"/><stop offset=".067" stop-color="#0097a4"/><stop offset=".086" stop-color="#0081b9"/><stop offset=".129" stop-color="#0336c3"/><stop offset=".176" stop-color="#290ac4"/><stop offset=".205" stop-color="#6303ca"/><stop offset=".233" stop-color="#8e02d3"/><stop offset=".281" stop-color="#aa03dd"/><stop offset=".324" stop-color="#b303e0"/><stop offset=".352" stop-color="#ae02dc"/><stop offset=".429" stop-color="#7802c9"/><stop offset=".486" stop-color="#6003c6"/><stop offset=".51" stop-color="#6603c6"/><stop offset=".576" stop-color="#8b01ce"/><stop offset=".633" stop-color="#9501d2"/><stop offset=".8" stop-color="#8300cf"/><stop offset=".924" stop-color="#6002cc"/><stop offset=".938" stop-color="#6b01cd"/><stop offset=".967" stop-color="#9a00de"/><stop offset="1" stop-color="#9c00df"/></linearGradient>
<linearGradient id="R376" gradientUnits="userSpaceOnUse" x1="0" x2="0" y1="261.5" y2="486.5"><stop offset="0" stop-color="#39b60e"/><stop offset=".036" stop-color="#34b60e"/><stop offset=".067" stop-color="#19b016"/><stop offset=".093" stop-color="#07af46"/><stop offset=".102" stop-color="#03ad60"/><stop offset=".133" stop-color="#009d97"/><stop offset=".142" stop-color="#0094aa"/><stop offset=".156" stop-color="#0082b9"/><stop offset=".173" stop-color="#005fbe"/><stop offset=".209" stop-color="#092bc2"/><stop offset=".231" stop-color="#1916c2"/><stop offset=".244" stop-color="#2f09c3"/><stop offset=".28" stop-color="#7c02cc"/><stop offset=".329" stop-color="#ab02dd"/><stop offset=".356" stop-color="#b702e2"/><stop offset=".387" stop-color="#b002dd"/><stop offset=".409" stop-color="#8701cc"/><stop offset=".449" stop-color="#4007c3"/><stop offset=".48" stop-color="#270dc1"/><stop offset=".502" stop-color="#2113c1"/><stop offset=".533" stop-color="#270cc1"/><stop offset=".6" stop-color="#5903c7"/><stop offset=".631" stop-color="#6801ca"/><stop offset=".702" stop-color="#6602ca"/><stop offset=".711" stop-color="#5d02c9"/><stop offset=".769" stop-color="#5a03c9"/><stop offset=".778" stop-color="#5103c8"/><stop offset=".813" stop-color="#5003c8"/><stop offset=".836" stop-color="#4b04c8"/><stop offset=".844" stop-color="#4205c7"/><stop offset=".92" stop-color="#3406c8"/><stop offset=".933" stop-color="#4105ca"/><stop offset=".964" stop-color="#7f00d8"/><stop offset="1" stop-color="#8000d9"/></linearGradient>
<linearGradient id="R377" gradientUnits="userSpaceOnUse" x1="0" x2="0" y1="246.5" y2="486.5"><stop offset="0" stop-color="#c0a700"/><stop offset=".021" stop-color="#c0a700"/><stop offset=".046" stop-color="#beb500"/><stop offset=".058" stop-color="#b6c100"/><stop offset=".075" stop-color="#98c500"/><stop offset=".079" stop-color="#88c300"/><stop offset=".087" stop-color="#79c200"/><stop offset=".096" stop-color="#5abd02"/><stop offset=".121" stop-color="#2cb407"/><stop offset=".138" stop-color="#15b018"/><stop offset=".175" stop-color="#00ab6e"/><stop offset=".196" stop-color="#009b9b"/><stop offset=".212" stop-color="#008bb4"/><stop offset=".254" stop-color="#0047c0"/><stop offset=".267" stop-color="#062fc1"/><stop offset=".283" stop-color="#111fc1"/><stop offset=".308" stop-color="#3607c2"/><stop offset=".346" stop-color="#7701ca"/><stop offset=".371" stop-color="#a601da"/><stop offset=".383" stop-color="#b701e1"/><stop offset=".4" stop-color="#bf01e4"/><stop offset=".417" stop-color="#b301de"/><stop offset=".421" stop-color="#a101d7"/><stop offset=".425" stop-color="#7803cd"/><stop offset=".429" stop-color="#5e04c7"/><stop offset=".438" stop-color="#4409c3"/><stop offset=".442" stop-color="#2c12c2"/><stop offset=".454" stop-color="#1f1ac1"/><stop offset=".463" stop-color="#0d2fc0"/><stop offset=".483" stop-color="#0935c0"/><stop offset=".492" stop-color="#034abf"/><stop offset=".517" stop-color="#0443bf"/><stop offset=".546" stop-color="#082fc1"/><stop offset=".604" stop-color="#1d12c2"/><stop offset=".646" stop-color="#2e08c3"/><stop offset=".917" stop-color="#1e10c9"/><stop offset=".933" stop-color="#2809ca"/><stop offset=".963" stop-color="#6802d7"/><stop offset="1" stop-color="#6802d8"/></linearGradient>
<linearGradient id="R378" gradientUnits="userSpaceOnUse" x1="0" x2="0" y1="235.5" y2="486.5"><stop offset="0" stop-color="#ba2400"/><stop offset=".036" stop-color="#c72b00"/><stop offset=".052" stop-color="#d04600"/><stop offset=".06" stop-color="#d36300"/><stop offset=".08" stop-color="#d39400"/><stop offset=".096" stop-color="#cab700"/><stop offset=".112" stop-color="#b1c600"/><stop offset=".131" stop-color="#78c200"/><stop offset=".155" stop-color="#45b904"/><stop offset=".159" stop-color="#35b605"/><stop offset=".171" stop-color="#20b20c"/><stop offset=".187" stop-color="#10af22"/><stop offset=".203" stop-color="#07af47"/><stop offset=".207" stop-color="#03ae58"/><stop offset=".219" stop-color="#01ab6b"/><stop offset=".255" stop-color="#0093a9"/><stop offset=".267" stop-color="#0086b4"/><stop offset=".311" stop-color="#0534c1"/><stop offset=".347" stop-color="#1d12c0"/><stop offset=".363" stop-color="#3407c1"/><stop offset=".378" stop-color="#5a02c5"/><stop offset=".39" stop-color="#8300cd"/><stop offset=".398" stop-color="#9600d3"/><stop offset=".418" stop-color="#b700e0"/><stop offset=".434" stop-color="#5d2acd"/><stop offset=".438" stop-color="#3b3ebf"/><stop offset=".442" stop-color="#2146b7"/><stop offset=".446" stop-color="#0b58b1"/><stop offset=".458" stop-color="#0273ad"/><stop offset=".462" stop-color="#007fa1"/><stop offset=".478" stop-color="#00959b"/><stop offset=".526" stop-color="#008ab2"/><stop offset=".594" stop-color="#033dc2"/><stop offset=".649" stop-color="#1120c4"/><stop offset=".912" stop-color="#151ece"/><stop offset=".94" stop-color="#260ace"/><stop offset=".96" stop-color="#5604d6"/><stop offset="1" stop-color="#5604d6"/></linearGradient>
<linearGradient id="R379" gradientUnits="userSpaceOnUse" x1="0" x2="0" y1="231.5" y2="486.5"><stop offset="0" stop-color="#930800"/><stop offset=".016" stop-color="#970a00"/><stop offset=".055" stop-color="#c82400"/><stop offset=".094" stop-color="#d68b00"/><stop offset=".118" stop-color="#c8c000"/><stop offset=".129" stop-color="#b7c800"/><stop offset=".157" stop-color="#69c000"/><stop offset=".188" stop-color="#27b308"/><stop offset=".208" stop-color="#10af23"/><stop offset=".259" stop-color="#01a973"/><stop offset=".263" stop-color="#00a67e"/><stop offset=".29" stop-color="#0091a6"/><stop offset=".314" stop-color="#0078b5"/><stop offset=".333" stop-color="#005abd"/><stop offset=".337" stop-color="#014abf"/><stop offset=".349" stop-color="#043bc0"/><stop offset=".369" stop-color="#121ec0"/><stop offset=".38" stop-color="#2310c0"/><stop offset=".392" stop-color="#3f06c1"/><stop offset=".396" stop-color="#3827bc"/><stop offset=".404" stop-color="#4233b0"/><stop offset=".408" stop-color="#3b52a6"/><stop offset=".412" stop-color="#4053a0"/><stop offset=".416" stop-color="#2e6f92"/><stop offset=".42" stop-color="#297b88"/><stop offset=".424" stop-color="#0d9379"/><stop offset=".431" stop-color="#04a76c"/><stop offset=".443" stop-color="#07af4a"/><stop offset=".478" stop-color="#05b052"/><stop offset=".506" stop-color="#00ad70"/><stop offset=".545" stop-color="#0095ac"/><stop offset=".573" stop-color="#007dbd"/><stop offset=".62" stop-color="#004bc4"/><stop offset=".651" stop-color="#0337c7"/><stop offset=".914" stop-color="#1223d4"/><stop offset=".941" stop-color="#240bd2"/><stop offset=".957" stop-color="#4a04d5"/><stop offset=".961" stop-color="#4c04d6"/><stop offset="1" stop-color="#4c04d6"/></linearGradient>
<linearGradient id="R380" gradientUnits="userSpaceOnUse" x1="0" x2="0" y1="230.5" y2="486.5"><stop offset="0" stop-color="#8e0100"/><stop offset=".016" stop-color="#940500"/><stop offset=".035" stop-color="#b41200"/><stop offset=".062" stop-color="#d32600"/><stop offset=".098" stop-color="#dd8700"/><stop offset=".125" stop-color="#cfc400"/><stop offset=".133" stop-color="#c1cc00"/><stop offset=".168" stop-color="#63c200"/><stop offset=".18" stop-color="#4bbc03"/><stop offset=".199" stop-color="#31b606"/><stop offset=".234" stop-color="#15b019"/><stop offset=".281" stop-color="#04ae56"/><stop offset=".289" stop-color="#02ab68"/><stop offset=".32" stop-color="#099"/><stop offset=".336" stop-color="#0084ae"/><stop offset=".348" stop-color="#006db9"/><stop offset=".355" stop-color="#006eb5"/><stop offset=".359" stop-color="#0160b5"/><stop offset=".367" stop-color="#0263a6"/><stop offset=".371" stop-color="#03729a"/><stop offset=".375" stop-color="#076a97"/><stop offset=".379" stop-color="#07778c"/><stop offset=".383" stop-color="#088b73"/><stop offset=".387" stop-color="#09936a"/><stop offset=".391" stop-color="#05ae5d"/><stop offset=".402" stop-color="#0bb43a"/><stop offset=".418" stop-color="#11b722"/><stop offset=".434" stop-color="#13b91b"/><stop offset=".477" stop-color="#0dbb38"/><stop offset=".512" stop-color="#00b96f"/><stop offset=".559" stop-color="#00a1b3"/><stop offset=".578" stop-color="#0091c5"/><stop offset=".637" stop-color="#0055ce"/><stop offset=".672" stop-color="#0045d0"/><stop offset=".914" stop-color="#1323d7"/><stop offset=".941" stop-color="#250bd5"/><stop offset=".957" stop-color="#4b04d6"/><stop offset="1" stop-color="#4d04d6"/></linearGradient>
<linearGradient id="R381" gradientUnits="userSpaceOnUse" x1="0" x2="0" y1="230.5" y2="486.5"><stop offset="0" stop-color="#a10600"/><stop offset=".012" stop-color="#a10500"/><stop offset=".051" stop-color="#d61d00"/><stop offset=".062" stop-color="#e52b00"/><stop offset=".098" stop-color="#ee9200"/><stop offset=".121" stop-color="#e2ca00"/><stop offset=".133" stop-color="#d3da00"/><stop offset=".16" stop-color="#81cf00"/><stop offset=".184" stop-color="#5bc902"/><stop offset=".258" stop-color="#17b60e"/><stop offset=".316" stop-color="#06b251"/><stop offset=".336" stop-color="#03b25f"/><stop offset=".355" stop-color="#03b862"/><stop offset=".398" stop-color="#11c42a"/><stop offset=".418" stop-color="#15c61a"/><stop offset=".43" stop-color="#15c618"/><stop offset=".449" stop-color="#13c821"/><stop offset=".48" stop-color="#0cc63f"/><stop offset=".512" stop-color="#00c576"/><stop offset=".566" stop-color="#00a5c5"/><stop offset=".578" stop-color="#009bcf"/><stop offset=".629" stop-color="#0060d4"/><stop offset=".668" stop-color="#004bd7"/><stop offset=".723" stop-color="#003bd9"/><stop offset=".914" stop-color="#1520d9"/><stop offset=".941" stop-color="#270bd6"/><stop offset=".957" stop-color="#4e04d8"/><stop offset=".961" stop-color="#5204d6"/><stop offset="1" stop-color="#5204d6"/></linearGradient>
<linearGradient id="R382" gradientUnits="userSpaceOnUse" x1="0" x2="0" y1="231.5" y2="486.5"><stop offset="0" stop-color="#b60c00"/><stop offset=".012" stop-color="#b30b00"/><stop offset=".055" stop-color="#ed2b00"/><stop offset=".09" stop-color="#fb9400"/><stop offset=".122" stop-color="#eae000"/><stop offset=".129" stop-color="#dae800"/><stop offset=".161" stop-color="#7fdc00"/><stop offset=".18" stop-color="#62d602"/><stop offset=".255" stop-color="#1aca0c"/><stop offset=".31" stop-color="#09ce52"/><stop offset=".329" stop-color="#05cc61"/><stop offset=".345" stop-color="#03c967"/><stop offset=".361" stop-color="#04c962"/><stop offset=".396" stop-color="#0fca38"/><stop offset=".416" stop-color="#12cb28"/><stop offset=".431" stop-color="#12cc28"/><stop offset=".451" stop-color="#10cc31"/><stop offset=".478" stop-color="#0acc4a"/><stop offset=".51" stop-color="#00c87e"/><stop offset=".553" stop-color="#00adbf"/><stop offset=".573" stop-color="#009ed3"/><stop offset=".635" stop-color="#0055da"/><stop offset=".686" stop-color="#003edc"/><stop offset=".918" stop-color="#1a1ada"/><stop offset=".941" stop-color="#2b09d8"/><stop offset=".961" stop-color="#5903d7"/><stop offset="1" stop-color="#5903d7"/></linearGradient>
<linearGradient id="R383" gradientUnits="userSpaceOnUse" x1="0" x2="0" y1="234.5" y2="486.5"><stop offset="0" stop-color="#ce1600"/><stop offset=".02" stop-color="#d51900"/><stop offset=".036" stop-color="#ec2600"/><stop offset=".044" stop-color="#f43600"/><stop offset=".048" stop-color="#f94800"/><stop offset=".052" stop-color="#f94a00"/><stop offset=".056" stop-color="#fc5c00"/><stop offset=".06" stop-color="#fc6200"/><stop offset=".075" stop-color="#f90"/><stop offset=".083" stop-color="#feab00"/><stop offset=".107" stop-color="#f2e400"/><stop offset=".119" stop-color="#dbee00"/><stop offset=".151" stop-color="#7ce200"/><stop offset=".175" stop-color="#56da04"/><stop offset=".234" stop-color="#1cd00e"/><stop offset=".258" stop-color="#13d12a"/><stop offset=".306" stop-color="#02d275"/><stop offset=".329" stop-color="#01ce84"/><stop offset=".353" stop-color="#00cc7e"/><stop offset=".389" stop-color="#08ce55"/><stop offset=".413" stop-color="#0dcf42"/><stop offset=".433" stop-color="#0ccf43"/><stop offset=".444" stop-color="#0ccf46"/><stop offset=".476" stop-color="#05ce60"/><stop offset=".496" stop-color="#00cc7d"/><stop offset=".548" stop-color="#00accc"/><stop offset=".563" stop-color="#009bd7"/><stop offset=".619" stop-color="#0057dc"/><stop offset=".667" stop-color="#033ade"/><stop offset=".921" stop-color="#2013da"/><stop offset=".937" stop-color="#2909d9"/><stop offset=".96" stop-color="#6402da"/><stop offset="1" stop-color="#6602d8"/></linearGradient>
<linearGradient id="R384" gradientUnits="userSpaceOnUse" x1="0" x2="0" y1="239.5" y2="486.5"><stop offset="0" stop-color="#f43800"/><stop offset=".012" stop-color="#f23600"/><stop offset=".024" stop-color="#f84000"/><stop offset=".065" stop-color="#febb00"/><stop offset=".081" stop-color="#f8dd00"/><stop offset=".093" stop-color="#e6ef00"/><stop offset=".101" stop-color="#d4f000"/><stop offset=".13" stop-color="#7ee600"/><stop offset=".146" stop-color="#5bde03"/><stop offset=".17" stop-color="#39d707"/><stop offset=".198" stop-color="#1fd20d"/><stop offset=".211" stop-color="#18d117"/><stop offset=".239" stop-color="#0fd23c"/><stop offset=".279" stop-color="#01d083"/><stop offset=".304" stop-color="#00c6a3"/><stop offset=".332" stop-color="#00beb2"/><stop offset=".36" stop-color="#00c98b"/><stop offset=".405" stop-color="#05d064"/><stop offset=".441" stop-color="#05d166"/><stop offset=".47" stop-color="#00ce7e"/><stop offset=".538" stop-color="#00a5d7"/><stop offset=".599" stop-color="#0057df"/><stop offset=".636" stop-color="#0439e0"/><stop offset=".704" stop-color="#1127de"/><stop offset=".919" stop-color="#260cdb"/><stop offset=".935" stop-color="#3207da"/><stop offset=".964" stop-color="#7101d9"/><stop offset="1" stop-color="#7201d8"/></linearGradient>
<linearGradient id="R385" gradientUnits="userSpaceOnUse" x1="0" x2="0" y1="244.5" y2="486.5"><stop offset="0" stop-color="#ff8e00"/><stop offset=".017" stop-color="#fe8800"/><stop offset=".029" stop-color="#ffa100"/><stop offset=".033" stop-color="#ff9a00"/><stop offset=".037" stop-color="#ffaf00"/><stop offset=".05" stop-color="#fbd000"/><stop offset=".066" stop-color="#eeea00"/><stop offset=".074" stop-color="#def100"/><stop offset=".124" stop-color="#56df04"/><stop offset=".153" stop-color="#26d50b"/><stop offset=".19" stop-color="#12d22d"/><stop offset=".223" stop-color="#09d355"/><stop offset=".248" stop-color="#01d07f"/><stop offset=".285" stop-color="#00bac0"/><stop offset=".306" stop-color="#00a5d8"/><stop offset=".318" stop-color="#009cdc"/><stop offset=".331" stop-color="#0099dc"/><stop offset=".339" stop-color="#00a9d2"/><stop offset=".343" stop-color="#00a7ce"/><stop offset=".355" stop-color="#00bab7"/><stop offset=".405" stop-color="#00cb8b"/><stop offset=".455" stop-color="#00c795"/><stop offset=".517" stop-color="#00a7d7"/><stop offset=".579" stop-color="#0054e0"/><stop offset=".599" stop-color="#023fe2"/><stop offset=".632" stop-color="#0e2be0"/><stop offset=".793" stop-color="#250edd"/><stop offset=".926" stop-color="#3706dc"/><stop offset=".938" stop-color="#4a05dc"/><stop offset=".963" stop-color="#7f00dc"/><stop offset="1" stop-color="#8100d9"/></linearGradient>
<linearGradient id="R386" gradientUnits="userSpaceOnUse" x1="0" x2="0" y1="250.5" y2="486.5"><stop offset="0" stop-color="#f5d600"/><stop offset=".025" stop-color="#f5d800"/><stop offset=".034" stop-color="#eae900"/><stop offset=".042" stop-color="#e6ed00"/><stop offset=".055" stop-color="#c4f100"/><stop offset=".081" stop-color="#7ce801"/><stop offset=".114" stop-color="#31d909"/><stop offset=".127" stop-color="#1ed413"/><stop offset=".208" stop-color="#01d07c"/><stop offset=".25" stop-color="#00bcba"/><stop offset=".271" stop-color="#00a7d8"/><stop offset=".314" stop-color="#015ae8"/><stop offset=".322" stop-color="#0253e8"/><stop offset=".335" stop-color="#0262e6"/><stop offset=".352" stop-color="#009ed8"/><stop offset=".356" stop-color="#00a6d7"/><stop offset=".403" stop-color="#00bbb6"/><stop offset=".436" stop-color="#00bbb7"/><stop offset=".466" stop-color="#00b4c8"/><stop offset=".5" stop-color="#0097dd"/><stop offset=".568" stop-color="#0240e3"/><stop offset=".623" stop-color="#1720e0"/><stop offset=".729" stop-color="#290bdd"/><stop offset=".826" stop-color="#4206de"/><stop offset=".915" stop-color="#4d04de"/><stop offset=".936" stop-color="#5b04dd"/><stop offset=".966" stop-color="#9000dd"/><stop offset="1" stop-color="#9000dc"/></linearGradient>
<linearGradient id="R387" gradientUnits="userSpaceOnUse" x1="0" x2="0" y1="257.5" y2="486.5"><stop offset="0" stop-color="#b0eb00"/><stop offset=".009" stop-color="#b0eb00"/><stop offset=".022" stop-color="#a3ee00"/><stop offset=".031" stop-color="#a8ee00"/><stop offset=".048" stop-color="#74e702"/><stop offset=".087" stop-color="#2ad80c"/><stop offset=".096" stop-color="#1bd519"/><stop offset=".114" stop-color="#0fd43c"/><stop offset=".135" stop-color="#06d360"/><stop offset=".175" stop-color="#00cb91"/><stop offset=".218" stop-color="#00b6c7"/><stop offset=".245" stop-color="#0098e0"/><stop offset=".293" stop-color="#063fe9"/><stop offset=".323" stop-color="#1a20e7"/><stop offset=".328" stop-color="#1823e8"/><stop offset=".336" stop-color="#103be6"/><stop offset=".345" stop-color="#026ae3"/><stop offset=".349" stop-color="#0079e2"/><stop offset=".376" stop-color="#0096df"/><stop offset=".402" stop-color="#00a4d9"/><stop offset=".459" stop-color="#0098de"/><stop offset=".546" stop-color="#0637e4"/><stop offset=".62" stop-color="#2211df"/><stop offset=".659" stop-color="#2e09de"/><stop offset=".812" stop-color="#5d03df"/><stop offset=".93" stop-color="#6b02df"/><stop offset=".939" stop-color="#7002df"/><stop offset=".965" stop-color="#9c00e3"/><stop offset="1" stop-color="#9d00df"/></linearGradient>
<linearGradient id="R388" gradientUnits="userSpaceOnUse" x1="0" x2="0" y1="263.5" y2="486.5"><stop offset="0" stop-color="#00c497"/><stop offset=".009" stop-color="#00c497"/><stop offset=".013" stop-color="#0cc886"/><stop offset=".022" stop-color="#33d458"/><stop offset=".027" stop-color="#35d547"/><stop offset=".036" stop-color="#46de10"/><stop offset=".04" stop-color="#3edd08"/><stop offset=".049" stop-color="#33da0a"/><stop offset=".067" stop-color="#1ad51d"/><stop offset=".108" stop-color="#02d274"/><stop offset=".148" stop-color="#00c0ad"/><stop offset=".188" stop-color="#00add4"/><stop offset=".211" stop-color="#0094e0"/><stop offset=".251" stop-color="#014ee7"/><stop offset=".269" stop-color="#0936e8"/><stop offset=".296" stop-color="#2314e6"/><stop offset=".314" stop-color="#4008e6"/><stop offset=".323" stop-color="#4a07e6"/><stop offset=".327" stop-color="#430be6"/><stop offset=".332" stop-color="#3614e6"/><stop offset=".336" stop-color="#1e25e6"/><stop offset=".345" stop-color="#044ae5"/><stop offset=".35" stop-color="#014ee6"/><stop offset=".363" stop-color="#005ee4"/><stop offset=".399" stop-color="#0077e2"/><stop offset=".453" stop-color="#0070e3"/><stop offset=".502" stop-color="#0242e5"/><stop offset=".552" stop-color="#181fe2"/><stop offset=".605" stop-color="#2f09df"/><stop offset=".637" stop-color="#4606df"/><stop offset=".691" stop-color="#5c04e0"/><stop offset=".731" stop-color="#6103e0"/><stop offset=".794" stop-color="#7701e1"/><stop offset=".937" stop-color="#8200e0"/><stop offset=".969" stop-color="#ac00e6"/><stop offset="1" stop-color="#ab00e4"/></linearGradient>
<linearGradient id="R389" gradientUnits="userSpaceOnUse" x1="0" x2="0" y1="266.5" y2="486.5"><stop offset="0" stop-color="#00b7b4"/><stop offset=".023" stop-color="#00b8b8"/><stop offset=".027" stop-color="#01bdae"/><stop offset=".041" stop-color="#15cf57"/><stop offset=".045" stop-color="#12d245"/><stop offset=".055" stop-color="#12d52f"/><stop offset=".073" stop-color="#08d45b"/><stop offset=".077" stop-color="#07d45d"/><stop offset=".091" stop-color="#02d17a"/><stop offset=".114" stop-color="#00c2a7"/><stop offset=".132" stop-color="#00b8c2"/><stop offset=".155" stop-color="#00a9d7"/><stop offset=".182" stop-color="#0091e0"/><stop offset=".241" stop-color="#043ce7"/><stop offset=".282" stop-color="#290fe4"/><stop offset=".3" stop-color="#5304e5"/><stop offset=".323" stop-color="#8501e6"/><stop offset=".327" stop-color="#8501e6"/><stop offset=".336" stop-color="#6a05e6"/><stop offset=".345" stop-color="#271ee5"/><stop offset=".35" stop-color="#1129e5"/><stop offset=".4" stop-color="#024ce5"/><stop offset=".409" stop-color="#0246e6"/><stop offset=".445" stop-color="#014ce5"/><stop offset=".455" stop-color="#0245e6"/><stop offset=".491" stop-color="#0934e5"/><stop offset=".559" stop-color="#290ce0"/><stop offset=".586" stop-color="#4006e0"/><stop offset=".614" stop-color="#5b04e0"/><stop offset=".664" stop-color="#7302e1"/><stop offset=".836" stop-color="#9600e4"/><stop offset=".927" stop-color="#9600e3"/><stop offset=".945" stop-color="#9d00e4"/><stop offset=".968" stop-color="#b800ea"/><stop offset="1" stop-color="#b900e7"/></linearGradient>
<linearGradient id="R390" gradientUnits="userSpaceOnUse" x1="0" x2="0" y1="269.5" y2="486.5"><stop offset="0" stop-color="#00acc7"/><stop offset=".023" stop-color="#00a7d4"/><stop offset=".037" stop-color="#00abd2"/><stop offset=".051" stop-color="#02bbab"/><stop offset=".055" stop-color="#03c692"/><stop offset=".074" stop-color="#01cf85"/><stop offset=".078" stop-color="#00cb94"/><stop offset=".088" stop-color="#00c89d"/><stop offset=".101" stop-color="#00bbbc"/><stop offset=".124" stop-color="#00a6da"/><stop offset=".212" stop-color="#0341e7"/><stop offset=".263" stop-color="#290de3"/><stop offset=".272" stop-color="#3a08e3"/><stop offset=".295" stop-color="#7a01e5"/><stop offset=".309" stop-color="#9a00e8"/><stop offset=".318" stop-color="#a600e9"/><stop offset=".332" stop-color="#a600e9"/><stop offset=".336" stop-color="#a000e9"/><stop offset=".341" stop-color="#8402e7"/><stop offset=".35" stop-color="#360de3"/><stop offset=".355" stop-color="#2811e2"/><stop offset=".369" stop-color="#1b1ce4"/><stop offset=".392" stop-color="#1327e4"/><stop offset=".438" stop-color="#0d2ee5"/><stop offset=".493" stop-color="#191fe3"/><stop offset=".525" stop-color="#280de0"/><stop offset=".599" stop-color="#7102e2"/><stop offset=".654" stop-color="#8e00e3"/><stop offset=".82" stop-color="#ab00e9"/><stop offset=".945" stop-color="#ad00e8"/><stop offset=".972" stop-color="#c500ed"/><stop offset="1" stop-color="#c400ea"/></linearGradient>
<linearGradient id="R391" gradientUnits="userSpaceOnUse" x1="0" x2="0" y1="270.5" y2="486.5"><stop offset="0" stop-color="#00a2d0"/><stop offset=".009" stop-color="#00a1d2"/><stop offset=".032" stop-color="#0084da"/><stop offset=".046" stop-color="#007cde"/><stop offset=".051" stop-color="#007ddf"/><stop offset=".065" stop-color="#0096dc"/><stop offset=".079" stop-color="#00acc2"/><stop offset=".093" stop-color="#00b7c6"/><stop offset=".111" stop-color="#00a4db"/><stop offset=".13" stop-color="#0081e1"/><stop offset=".157" stop-color="#005de4"/><stop offset=".181" stop-color="#014ae5"/><stop offset=".199" stop-color="#0835e5"/><stop offset=".231" stop-color="#1a1ee4"/><stop offset=".255" stop-color="#2e0ae0"/><stop offset=".296" stop-color="#9900e6"/><stop offset=".31" stop-color="#b400ec"/><stop offset=".319" stop-color="#bb00ec"/><stop offset=".343" stop-color="#b700ec"/><stop offset=".347" stop-color="#a900eb"/><stop offset=".356" stop-color="#5d04e2"/><stop offset=".361" stop-color="#4c05e2"/><stop offset=".38" stop-color="#3f08e2"/><stop offset=".394" stop-color="#290ee2"/><stop offset=".431" stop-color="#1f17e2"/><stop offset=".505" stop-color="#300ae1"/><stop offset=".519" stop-color="#3b07e0"/><stop offset=".556" stop-color="#6b02e2"/><stop offset=".62" stop-color="#9b00e6"/><stop offset=".806" stop-color="#be00ed"/><stop offset=".944" stop-color="#bc00ec"/><stop offset=".972" stop-color="#d100f0"/><stop offset="1" stop-color="#d000ed"/></linearGradient>
<linearGradient id="R392" gradientUnits="userSpaceOnUse" x1="0" x2="0" y1="271.5" y2="486.5"><stop offset="0" stop-color="#009ad0"/><stop offset=".009" stop-color="#0096d0"/><stop offset=".042" stop-color="#0067dc"/><stop offset=".06" stop-color="#0059e1"/><stop offset=".079" stop-color="#005fe4"/><stop offset=".088" stop-color="#006ce4"/><stop offset=".098" stop-color="#0085e2"/><stop offset=".107" stop-color="#008be2"/><stop offset=".121" stop-color="#007ae2"/><stop offset=".149" stop-color="#0146e5"/><stop offset=".167" stop-color="#0835e6"/><stop offset=".2" stop-color="#1425e3"/><stop offset=".223" stop-color="#2510e2"/><stop offset=".251" stop-color="#4406e1"/><stop offset=".279" stop-color="#8400e2"/><stop offset=".298" stop-color="#b200eb"/><stop offset=".316" stop-color="#ca00ef"/><stop offset=".33" stop-color="#c100eb"/><stop offset=".349" stop-color="#c600f0"/><stop offset=".353" stop-color="#b800ed"/><stop offset=".358" stop-color="#8f01e6"/><stop offset=".363" stop-color="#7a01e3"/><stop offset=".377" stop-color="#7901e4"/><stop offset=".381" stop-color="#7202e4"/><stop offset=".391" stop-color="#5504e2"/><stop offset=".414" stop-color="#5404e2"/><stop offset=".433" stop-color="#3e07e1"/><stop offset=".451" stop-color="#4706e2"/><stop offset=".479" stop-color="#4106e1"/><stop offset=".558" stop-color="#8a00e4"/><stop offset=".605" stop-color="#aa00e9"/><stop offset=".665" stop-color="#be00ee"/><stop offset=".805" stop-color="#cd00f1"/><stop offset=".949" stop-color="#cd00f0"/><stop offset=".972" stop-color="#d600f2"/><stop offset="1" stop-color="#d500ee"/></linearGradient>
<linearGradient id="R393" gradientUnits="userSpaceOnUse" x1="0" x2="0" y1="271.5" y2="486.5"><stop offset="0" stop-color="#0097cc"/><stop offset=".009" stop-color="#0093cd"/><stop offset=".042" stop-color="#005ed8"/><stop offset=".07" stop-color="#013ee0"/><stop offset=".093" stop-color="#063ae5"/><stop offset=".126" stop-color="#0056e6"/><stop offset=".144" stop-color="#0241e5"/><stop offset=".177" stop-color="#1a1ee3"/><stop offset=".209" stop-color="#2113e0"/><stop offset=".228" stop-color="#3b07e1"/><stop offset=".242" stop-color="#5604e2"/><stop offset=".265" stop-color="#7202e0"/><stop offset=".302" stop-color="#c300ed"/><stop offset=".316" stop-color="#d400f1"/><stop offset=".33" stop-color="#c500eb"/><stop offset=".353" stop-color="#d500f2"/><stop offset=".358" stop-color="#cc00f1"/><stop offset=".367" stop-color="#9b00e5"/><stop offset=".386" stop-color="#9800e7"/><stop offset=".405" stop-color="#7801e2"/><stop offset=".423" stop-color="#7c01e4"/><stop offset=".447" stop-color="#6703e2"/><stop offset=".465" stop-color="#7002e3"/><stop offset=".484" stop-color="#6d02e2"/><stop offset=".53" stop-color="#8600e3"/><stop offset=".567" stop-color="#ab00ea"/><stop offset=".66" stop-color="#ce00f1"/><stop offset=".809" stop-color="#d900f3"/><stop offset="1" stop-color="#d900f0"/></linearGradient>
<linearGradient id="R394" gradientUnits="userSpaceOnUse" x1="0" x2="0" y1="271.5" y2="486.5"><stop offset="0" stop-color="#0099c9"/><stop offset=".009" stop-color="#0093ca"/><stop offset=".06" stop-color="#003eda"/><stop offset=".079" stop-color="#0b2fdc"/><stop offset=".121" stop-color="#181fe2"/><stop offset=".14" stop-color="#0a33e5"/><stop offset=".158" stop-color="#1226e1"/><stop offset=".191" stop-color="#3209e1"/><stop offset=".214" stop-color="#2f08de"/><stop offset=".247" stop-color="#7a01e3"/><stop offset=".274" stop-color="#8d00df"/><stop offset=".307" stop-color="#d100f0"/><stop offset=".316" stop-color="#d700f1"/><stop offset=".33" stop-color="#c700eb"/><stop offset=".358" stop-color="#da00f3"/><stop offset=".363" stop-color="#d400f2"/><stop offset=".367" stop-color="#ba00eb"/><stop offset=".372" stop-color="#af00e9"/><stop offset=".391" stop-color="#b800ed"/><stop offset=".395" stop-color="#b500ec"/><stop offset=".405" stop-color="#9b00e5"/><stop offset=".433" stop-color="#9f00e8"/><stop offset=".447" stop-color="#8800e3"/><stop offset=".474" stop-color="#9900e6"/><stop offset=".493" stop-color="#8c00e3"/><stop offset=".521" stop-color="#a400e9"/><stop offset=".54" stop-color="#a500e8"/><stop offset=".572" stop-color="#c000ee"/><stop offset=".595" stop-color="#c300ee"/><stop offset=".623" stop-color="#d400f2"/><stop offset="1" stop-color="#dc00f0"/></linearGradient>
<linearGradient id="R395" gradientUnits="userSpaceOnUse" x1="0" x2="0" y1="270.5" y2="486.5"><stop offset="0" stop-color="#009ec1"/><stop offset=".009" stop-color="#009bc4"/><stop offset=".06" stop-color="#0044d6"/><stop offset=".083" stop-color="#0c2bd8"/><stop offset=".13" stop-color="#2310dd"/><stop offset=".167" stop-color="#1b1ade"/><stop offset=".185" stop-color="#2e08de"/><stop offset=".204" stop-color="#5d04e1"/><stop offset=".208" stop-color="#5f03e1"/><stop offset=".218" stop-color="#4905dd"/><stop offset=".222" stop-color="#4a05dd"/><stop offset=".259" stop-color="#9e00e6"/><stop offset=".282" stop-color="#9c00e1"/><stop offset=".306" stop-color="#c0e"/><stop offset=".319" stop-color="#da00f1"/><stop offset=".324" stop-color="#d900f1"/><stop offset=".333" stop-color="#c800eb"/><stop offset=".366" stop-color="#dc00f3"/><stop offset=".37" stop-color="#d300f0"/><stop offset=".375" stop-color="#bf00eb"/><stop offset=".38" stop-color="#bb00ea"/><stop offset=".398" stop-color="#cd00f1"/><stop offset=".403" stop-color="#cb00f1"/><stop offset=".417" stop-color="#a900e8"/><stop offset=".44" stop-color="#b900ed"/><stop offset=".458" stop-color="#a100e6"/><stop offset=".481" stop-color="#b400ec"/><stop offset=".505" stop-color="#a900e8"/><stop offset=".523" stop-color="#b900ed"/><stop offset=".551" stop-color="#bc00ed"/><stop offset=".574" stop-color="#d200f2"/><stop offset=".625" stop-color="#da00f3"/><stop offset="1" stop-color="#de00f1"/></linearGradient>
<linearGradient id="R396" gradientUnits="userSpaceOnUse" x1="0" x2="0" y1="269.5" y2="486.5"><stop offset="0" stop-color="#00a1b4"/><stop offset=".018" stop-color="#0097c6"/><stop offset=".069" stop-color="#003dd5"/><stop offset=".129" stop-color="#260bd8"/><stop offset=".157" stop-color="#3c06dd"/><stop offset=".166" stop-color="#320bde"/><stop offset=".171" stop-color="#2411dc"/><stop offset=".18" stop-color="#260cdb"/><stop offset=".189" stop-color="#3806dc"/><stop offset=".207" stop-color="#7002e0"/><stop offset=".217" stop-color="#8200e1"/><stop offset=".221" stop-color="#7901e0"/><stop offset=".226" stop-color="#5f03dd"/><stop offset=".23" stop-color="#5d03dd"/><stop offset=".267" stop-color="#b300ea"/><stop offset=".272" stop-color="#b500eb"/><stop offset=".286" stop-color="#a200e3"/><stop offset=".309" stop-color="#ce00ee"/><stop offset=".323" stop-color="#db00f1"/><stop offset=".341" stop-color="#c900ec"/><stop offset=".369" stop-color="#de00f2"/><stop offset=".382" stop-color="#c500ed"/><stop offset=".406" stop-color="#d700f3"/><stop offset=".41" stop-color="#d600f2"/><stop offset=".424" stop-color="#bc00ec"/><stop offset=".447" stop-color="#ce00f1"/><stop offset=".465" stop-color="#b800ec"/><stop offset=".488" stop-color="#c900f0"/><stop offset=".507" stop-color="#ba00ec"/><stop offset=".535" stop-color="#ce00f1"/><stop offset=".553" stop-color="#cb00f0"/><stop offset=".581" stop-color="#da00f3"/><stop offset=".627" stop-color="#de00f3"/><stop offset="1" stop-color="#e100f2"/></linearGradient>
<linearGradient id="R397" gradientUnits="userSpaceOnUse" x1="0" x2="0" y1="268.5" y2="486.5"><stop offset="0" stop-color="#00a6a9"/><stop offset=".009" stop-color="#00a4ad"/><stop offset=".023" stop-color="#009ac4"/><stop offset=".078" stop-color="#0139d4"/><stop offset=".133" stop-color="#2809d6"/><stop offset=".156" stop-color="#4b05da"/><stop offset=".17" stop-color="#5704dd"/><stop offset=".174" stop-color="#5105dd"/><stop offset=".179" stop-color="#3409dc"/><stop offset=".183" stop-color="#2d08db"/><stop offset=".193" stop-color="#4106dc"/><stop offset=".216" stop-color="#8500e0"/><stop offset=".225" stop-color="#9600e3"/><stop offset=".229" stop-color="#8f00e2"/><stop offset=".234" stop-color="#7701de"/><stop offset=".239" stop-color="#7301de"/><stop offset=".275" stop-color="#c400ed"/><stop offset=".28" stop-color="#c400ed"/><stop offset=".289" stop-color="#ac00e6"/><stop offset=".294" stop-color="#ae00e6"/><stop offset=".312" stop-color="#d000ee"/><stop offset=".326" stop-color="#dc00f1"/><stop offset=".344" stop-color="#cc00ed"/><stop offset=".372" stop-color="#e000f2"/><stop offset=".385" stop-color="#cf00ef"/><stop offset=".413" stop-color="#dc00f3"/><stop offset=".427" stop-color="#ca00ef"/><stop offset=".454" stop-color="#d800f3"/><stop offset=".472" stop-color="#c600ee"/><stop offset=".495" stop-color="#d600f3"/><stop offset=".514" stop-color="#cb00f0"/><stop offset=".537" stop-color="#d800f3"/><stop offset=".633" stop-color="#e100f4"/><stop offset="1" stop-color="#e200f2"/></linearGradient>
<linearGradient id="R398" gradientUnits="userSpaceOnUse" x1="0" x2="0" y1="266.5" y2="486.5"><stop offset="0" stop-color="#00ab9a"/><stop offset=".009" stop-color="#00ab9a"/><stop offset=".036" stop-color="#0096c7"/><stop offset=".086" stop-color="#013ad4"/><stop offset=".141" stop-color="#2908d4"/><stop offset=".164" stop-color="#5204d9"/><stop offset=".182" stop-color="#6702dc"/><stop offset=".186" stop-color="#6702dc"/><stop offset=".191" stop-color="#4405db"/><stop offset=".195" stop-color="#4106da"/><stop offset=".227" stop-color="#9800e2"/><stop offset=".236" stop-color="#a900e7"/><stop offset=".245" stop-color="#8300de"/><stop offset=".25" stop-color="#8500dd"/><stop offset=".282" stop-color="#cd00ef"/><stop offset=".286" stop-color="#d000f0"/><stop offset=".295" stop-color="#b700e8"/><stop offset=".3" stop-color="#b300e7"/><stop offset=".318" stop-color="#d200ef"/><stop offset=".336" stop-color="#de00f2"/><stop offset=".35" stop-color="#d000ee"/><stop offset=".377" stop-color="#e100f2"/><stop offset=".395" stop-color="#d400f0"/><stop offset=".418" stop-color="#de00f3"/><stop offset=".436" stop-color="#d200f0"/><stop offset=".459" stop-color="#dc00f3"/><stop offset=".477" stop-color="#d200f1"/><stop offset=".5" stop-color="#db00f3"/><stop offset=".518" stop-color="#d600f2"/><stop offset=".636" stop-color="#e300f4"/><stop offset="1" stop-color="#e400f2"/></linearGradient>
<linearGradient id="R399" gradientUnits="userSpaceOnUse" x1="0" x2="0" y1="265.5" y2="486.5"><stop offset="0" stop-color="#00b08f"/><stop offset=".014" stop-color="#00ad95"/><stop offset=".041" stop-color="#0098c7"/><stop offset=".09" stop-color="#003bd4"/><stop offset=".145" stop-color="#2908d4"/><stop offset=".167" stop-color="#5604d8"/><stop offset=".19" stop-color="#7501dc"/><stop offset=".195" stop-color="#6d02dc"/><stop offset=".199" stop-color="#4d05da"/><stop offset=".204" stop-color="#5104da"/><stop offset=".24" stop-color="#b300e8"/><stop offset=".244" stop-color="#b500e9"/><stop offset=".249" stop-color="#9a00e2"/><stop offset=".253" stop-color="#8d00de"/><stop offset=".281" stop-color="#c800ed"/><stop offset=".29" stop-color="#d500f0"/><stop offset=".294" stop-color="#d300f0"/><stop offset=".303" stop-color="#ba00e8"/><stop offset=".321" stop-color="#d300ee"/><stop offset=".339" stop-color="#df00f2"/><stop offset=".353" stop-color="#d200ee"/><stop offset=".385" stop-color="#e200f3"/><stop offset=".398" stop-color="#d600f0"/><stop offset=".425" stop-color="#e000f3"/><stop offset=".439" stop-color="#d700f1"/><stop offset=".462" stop-color="#de00f3"/><stop offset=".484" stop-color="#d700f1"/><stop offset=".507" stop-color="#de00f3"/><stop offset=".525" stop-color="#d900f2"/><stop offset=".643" stop-color="#e500f4"/><stop offset="1" stop-color="#e600f3"/></linearGradient>
<linearGradient id="R400" gradientUnits="userSpaceOnUse" x1="0" x2="0" y1="264.5" y2="486.5"><stop offset="0" stop-color="#00b481"/><stop offset=".014" stop-color="#00b288"/><stop offset=".041" stop-color="#009fbe"/><stop offset=".05" stop-color="#0093c8"/><stop offset=".095" stop-color="#003dd3"/><stop offset=".149" stop-color="#2908d3"/><stop offset=".176" stop-color="#5f03d8"/><stop offset=".198" stop-color="#7e00db"/><stop offset=".203" stop-color="#6302da"/><stop offset=".207" stop-color="#5903d9"/><stop offset=".248" stop-color="#be00ea"/><stop offset=".252" stop-color="#b200e7"/><stop offset=".257" stop-color="#9600e0"/><stop offset=".261" stop-color="#9800e0"/><stop offset=".284" stop-color="#cb00ed"/><stop offset=".293" stop-color="#d700f0"/><stop offset=".297" stop-color="#d700f1"/><stop offset=".306" stop-color="#bf00ea"/><stop offset=".338" stop-color="#de00f1"/><stop offset=".356" stop-color="#d300ef"/><stop offset=".387" stop-color="#e300f3"/><stop offset=".401" stop-color="#d700f0"/><stop offset=".428" stop-color="#e200f3"/><stop offset=".446" stop-color="#d900f1"/><stop offset=".468" stop-color="#e100f3"/><stop offset=".486" stop-color="#d900f1"/><stop offset=".509" stop-color="#e000f3"/><stop offset=".532" stop-color="#dc00f2"/><stop offset=".644" stop-color="#e600f4"/><stop offset="1" stop-color="#e600f3"/></linearGradient>
<linearGradient id="R401" gradientUnits="userSpaceOnUse" x1="0" x2="0" y1="263.5" y2="486.5"><stop offset="0" stop-color="#00b975"/><stop offset=".013" stop-color="#00b67c"/><stop offset=".054" stop-color="#0096c7"/><stop offset=".103" stop-color="#0139d3"/><stop offset=".152" stop-color="#2808d3"/><stop offset=".17" stop-color="#4e04d6"/><stop offset=".202" stop-color="#8400db"/><stop offset=".206" stop-color="#7801da"/><stop offset=".211" stop-color="#5f03d9"/><stop offset=".215" stop-color="#6502d9"/><stop offset=".251" stop-color="#c300eb"/><stop offset=".256" stop-color="#c100eb"/><stop offset=".26" stop-color="#a100e2"/><stop offset=".265" stop-color="#9d00e1"/><stop offset=".287" stop-color="#ce00ee"/><stop offset=".3" stop-color="#d900f1"/><stop offset=".305" stop-color="#d400ef"/><stop offset=".309" stop-color="#c400eb"/><stop offset=".314" stop-color="#c200ea"/><stop offset=".341" stop-color="#df00f1"/><stop offset=".35" stop-color="#df00f2"/><stop offset=".359" stop-color="#d400ef"/><stop offset=".39" stop-color="#e300f3"/><stop offset=".404" stop-color="#d900f0"/><stop offset=".43" stop-color="#e300f3"/><stop offset=".448" stop-color="#da00f1"/><stop offset=".471" stop-color="#e200f3"/><stop offset=".489" stop-color="#dc00f2"/><stop offset=".516" stop-color="#e200f3"/><stop offset=".534" stop-color="#dd00f2"/><stop offset=".646" stop-color="#e700f4"/><stop offset="1" stop-color="#e700f3"/></linearGradient>
<linearGradient id="R402" gradientUnits="userSpaceOnUse" x1="0" x2="0" y1="262.5" y2="486.5"><stop offset="0" stop-color="#02bc67"/><stop offset=".009" stop-color="#01bb69"/><stop offset=".058" stop-color="#0098c7"/><stop offset=".107" stop-color="#013ad3"/><stop offset=".156" stop-color="#2808d3"/><stop offset=".165" stop-color="#3a06d4"/><stop offset=".205" stop-color="#8600da"/><stop offset=".21" stop-color="#8500db"/><stop offset=".214" stop-color="#6402d9"/><stop offset=".219" stop-color="#6802d9"/><stop offset=".254" stop-color="#c500eb"/><stop offset=".259" stop-color="#c800ec"/><stop offset=".263" stop-color="#af00e6"/><stop offset=".268" stop-color="#a100e2"/><stop offset=".29" stop-color="#cf00ee"/><stop offset=".304" stop-color="#da00f1"/><stop offset=".317" stop-color="#c500eb"/><stop offset=".344" stop-color="#df00f2"/><stop offset=".366" stop-color="#d600ef"/><stop offset=".393" stop-color="#e400f3"/><stop offset=".406" stop-color="#da00f0"/><stop offset=".433" stop-color="#e400f3"/><stop offset=".451" stop-color="#dc00f1"/><stop offset=".473" stop-color="#e300f3"/><stop offset=".491" stop-color="#dd00f2"/><stop offset=".647" stop-color="#e800f4"/><stop offset="1" stop-color="#e800f4"/></linearGradient>
<linearGradient id="R403" gradientUnits="userSpaceOnUse" x1="0" x2="0" y1="261.5" y2="486.5"><stop offset="0" stop-color="#05bc5a"/><stop offset=".009" stop-color="#04bc5c"/><stop offset=".053" stop-color="#00a2b7"/><stop offset=".067" stop-color="#0093c9"/><stop offset=".116" stop-color="#0336d4"/><stop offset=".16" stop-color="#2709d3"/><stop offset=".173" stop-color="#4405d5"/><stop offset=".209" stop-color="#8700da"/><stop offset=".213" stop-color="#8a00db"/><stop offset=".218" stop-color="#6d02d9"/><stop offset=".222" stop-color="#6b02d9"/><stop offset=".258" stop-color="#c700eb"/><stop offset=".262" stop-color="#cc00ed"/><stop offset=".271" stop-color="#a600e3"/><stop offset=".298" stop-color="#d600ef"/><stop offset=".307" stop-color="#db00f1"/><stop offset=".311" stop-color="#d900f0"/><stop offset=".32" stop-color="#c700eb"/><stop offset=".351" stop-color="#e100f2"/><stop offset=".369" stop-color="#d600ef"/><stop offset=".396" stop-color="#e400f3"/><stop offset=".413" stop-color="#da00f0"/><stop offset=".436" stop-color="#e500f3"/><stop offset=".453" stop-color="#dc00f1"/><stop offset=".48" stop-color="#e500f3"/><stop offset=".498" stop-color="#de00f2"/><stop offset=".52" stop-color="#e500f4"/><stop offset=".538" stop-color="#e000f2"/><stop offset=".649" stop-color="#e800f4"/><stop offset="1" stop-color="#e800f4"/></linearGradient>
<linearGradient id="R404" gradientUnits="userSpaceOnUse" x1="0" x2="0" y1="260.5" y2="486.5"><stop offset="0" stop-color="#07be50"/><stop offset=".009" stop-color="#07be51"/><stop offset=".027" stop-color="#00bc77"/><stop offset=".058" stop-color="#00a4b6"/><stop offset=".071" stop-color="#0095ca"/><stop offset=".119" stop-color="#0337d5"/><stop offset=".164" stop-color="#2609d3"/><stop offset=".186" stop-color="#5703d6"/><stop offset=".217" stop-color="#8d00dc"/><stop offset=".221" stop-color="#7501da"/><stop offset=".226" stop-color="#6e02d9"/><stop offset=".252" stop-color="#b400e6"/><stop offset=".265" stop-color="#cf00ee"/><stop offset=".27" stop-color="#c200ea"/><stop offset=".274" stop-color="#aa00e4"/><stop offset=".279" stop-color="#ab00e4"/><stop offset=".296" stop-color="#d000ee"/><stop offset=".31" stop-color="#dc00f1"/><stop offset=".314" stop-color="#db00f1"/><stop offset=".323" stop-color="#ca00ec"/><stop offset=".354" stop-color="#e200f2"/><stop offset=".372" stop-color="#d700ef"/><stop offset=".398" stop-color="#e500f3"/><stop offset=".416" stop-color="#db00f1"/><stop offset=".442" stop-color="#e600f3"/><stop offset=".456" stop-color="#de00f1"/><stop offset=".482" stop-color="#e600f4"/><stop offset=".5" stop-color="#df00f2"/><stop offset=".522" stop-color="#e600f4"/><stop offset=".54" stop-color="#e100f2"/><stop offset=".65" stop-color="#e900f4"/><stop offset="1" stop-color="#e900f4"/></linearGradient>
<linearGradient id="R405" gradientUnits="userSpaceOnUse" x1="0" x2="0" y1="260.5" y2="486.5"><stop offset="0" stop-color="#09c048"/><stop offset=".009" stop-color="#07c050"/><stop offset=".027" stop-color="#00bd77"/><stop offset=".071" stop-color="#0097cb"/><stop offset=".119" stop-color="#0238d6"/><stop offset=".164" stop-color="#2609d4"/><stop offset=".177" stop-color="#4405d5"/><stop offset=".217" stop-color="#8f00dc"/><stop offset=".226" stop-color="#7101d9"/><stop offset=".265" stop-color="#d100ee"/><stop offset=".27" stop-color="#ca00ec"/><stop offset=".274" stop-color="#af00e5"/><stop offset=".279" stop-color="#ae00e5"/><stop offset=".296" stop-color="#d200ee"/><stop offset=".31" stop-color="#dc00f1"/><stop offset=".323" stop-color="#cd00ed"/><stop offset=".354" stop-color="#e200f2"/><stop offset=".372" stop-color="#d700f0"/><stop offset=".398" stop-color="#e500f3"/><stop offset=".416" stop-color="#dc00f1"/><stop offset=".442" stop-color="#e600f3"/><stop offset=".456" stop-color="#de00f2"/><stop offset=".482" stop-color="#e600f4"/><stop offset=".5" stop-color="#e000f2"/><stop offset=".522" stop-color="#e600f4"/><stop offset=".54" stop-color="#e200f2"/><stop offset=".65" stop-color="#e900f4"/><stop offset="1" stop-color="#e900f4"/></linearGradient>
<linearGradient id="R406" gradientUnits="userSpaceOnUse" x1="0" x2="0" y1="259.5" y2="486.5"><stop offset="0" stop-color="#0ac043"/><stop offset=".009" stop-color="#0ac044"/><stop offset=".031" stop-color="#00be76"/><stop offset=".075" stop-color="#0098cb"/><stop offset=".123" stop-color="#0238d6"/><stop offset=".167" stop-color="#2609d4"/><stop offset=".181" stop-color="#4405d6"/><stop offset=".22" stop-color="#9200dd"/><stop offset=".229" stop-color="#7401d9"/><stop offset=".233" stop-color="#7a01da"/><stop offset=".269" stop-color="#d200ee"/><stop offset=".273" stop-color="#cf00ee"/><stop offset=".278" stop-color="#b500e7"/><stop offset=".282" stop-color="#b100e6"/><stop offset=".3" stop-color="#d200ee"/><stop offset=".313" stop-color="#dd00f1"/><stop offset=".33" stop-color="#d000ee"/><stop offset=".357" stop-color="#e200f2"/><stop offset=".374" stop-color="#d800f0"/><stop offset=".401" stop-color="#e600f3"/><stop offset=".419" stop-color="#dc00f1"/><stop offset=".445" stop-color="#e700f4"/><stop offset=".463" stop-color="#df00f2"/><stop offset=".485" stop-color="#e700f4"/><stop offset=".502" stop-color="#e100f2"/><stop offset=".612" stop-color="#e900f4"/><stop offset="1" stop-color="#ea00f4"/></linearGradient>
<linearGradient id="R407" gradientUnits="userSpaceOnUse" x1="0" x2="0" y1="259.5" y2="486.5"><stop offset="0" stop-color="#0cc03e"/><stop offset=".009" stop-color="#0ac044"/><stop offset=".031" stop-color="#00be76"/><stop offset=".075" stop-color="#009acb"/><stop offset=".123" stop-color="#0239d6"/><stop offset=".167" stop-color="#2709d4"/><stop offset=".185" stop-color="#4f04d6"/><stop offset=".22" stop-color="#9300de"/><stop offset=".225" stop-color="#8d00dd"/><stop offset=".229" stop-color="#7801da"/><stop offset=".233" stop-color="#7c00da"/><stop offset=".26" stop-color="#c200ea"/><stop offset=".269" stop-color="#d300ee"/><stop offset=".273" stop-color="#d200ee"/><stop offset=".278" stop-color="#ba00e8"/><stop offset=".282" stop-color="#b300e6"/><stop offset=".3" stop-color="#d200ee"/><stop offset=".313" stop-color="#dd00f1"/><stop offset=".33" stop-color="#d100ee"/><stop offset=".357" stop-color="#e300f2"/><stop offset=".374" stop-color="#d900f0"/><stop offset=".401" stop-color="#e600f3"/><stop offset=".419" stop-color="#dd00f1"/><stop offset=".445" stop-color="#e700f4"/><stop offset=".463" stop-color="#e000f2"/><stop offset=".485" stop-color="#e700f4"/><stop offset=".502" stop-color="#e100f2"/><stop offset=".656" stop-color="#ea00f4"/><stop offset="1" stop-color="#ea00f4"/></linearGradient>
<linearGradient id="R408" gradientUnits="userSpaceOnUse" x1="0" x2="0" y1="259.5" y2="486.5"><stop offset="0" stop-color="#0dc13a"/><stop offset=".004" stop-color="#0dc13a"/><stop offset=".031" stop-color="#00bf74"/><stop offset=".075" stop-color="#009bcb"/><stop offset=".123" stop-color="#0238d6"/><stop offset=".167" stop-color="#2709d4"/><stop offset=".185" stop-color="#5004d7"/><stop offset=".22" stop-color="#9600de"/><stop offset=".225" stop-color="#9300de"/><stop offset=".229" stop-color="#7c00da"/><stop offset=".233" stop-color="#7e00da"/><stop offset=".269" stop-color="#d400ef"/><stop offset=".273" stop-color="#d400ef"/><stop offset=".282" stop-color="#b500e7"/><stop offset=".3" stop-color="#d300ee"/><stop offset=".317" stop-color="#df00f2"/><stop offset=".33" stop-color="#d200ee"/><stop offset=".357" stop-color="#e300f3"/><stop offset=".374" stop-color="#d900f0"/><stop offset=".401" stop-color="#e600f3"/><stop offset=".419" stop-color="#dd00f1"/><stop offset=".445" stop-color="#e800f4"/><stop offset=".463" stop-color="#e000f2"/><stop offset=".485" stop-color="#e800f4"/><stop offset=".502" stop-color="#e200f2"/><stop offset=".529" stop-color="#e800f4"/><stop offset="1" stop-color="#ea00f4"/></linearGradient>
<linearGradient id="R409" gradientUnits="userSpaceOnUse" x1="0" x2="0" y1="258.5" y2="486.5"><stop offset="0" stop-color="#0dc238"/><stop offset=".009" stop-color="#0dc238"/><stop offset=".035" stop-color="#00c075"/><stop offset=".079" stop-color="#009bcd"/><stop offset=".127" stop-color="#0238d7"/><stop offset=".171" stop-color="#2709d4"/><stop offset=".189" stop-color="#5104d7"/><stop offset=".224" stop-color="#9700de"/><stop offset=".228" stop-color="#9800df"/><stop offset=".232" stop-color="#8000da"/><stop offset=".237" stop-color="#8000da"/><stop offset=".268" stop-color="#cf00ed"/><stop offset=".272" stop-color="#d400ef"/><stop offset=".276" stop-color="#d500ef"/><stop offset=".285" stop-color="#b800e7"/><stop offset=".303" stop-color="#d400ee"/><stop offset=".32" stop-color="#e000f2"/><stop offset=".333" stop-color="#d300ee"/><stop offset=".364" stop-color="#e400f3"/><stop offset=".377" stop-color="#da00f0"/><stop offset=".404" stop-color="#e600f3"/><stop offset=".421" stop-color="#de00f1"/><stop offset=".447" stop-color="#e800f4"/><stop offset=".465" stop-color="#e000f2"/><stop offset=".487" stop-color="#e800f4"/><stop offset=".504" stop-color="#e200f2"/><stop offset=".614" stop-color="#ea00f4"/><stop offset="1" stop-color="#ea00f4"/></linearGradient>
<linearGradient id="R410" gradientUnits="userSpaceOnUse" x1="0" x2="0" y1="258.5" y2="486.5"><stop offset="0" stop-color="#0ec238"/><stop offset=".009" stop-color="#0dc33a"/><stop offset=".035" stop-color="#00c275"/><stop offset=".079" stop-color="#009bcd"/><stop offset=".127" stop-color="#0239d7"/><stop offset=".171" stop-color="#2808d4"/><stop offset=".193" stop-color="#5c03d8"/><stop offset=".224" stop-color="#9900df"/><stop offset=".228" stop-color="#9c00e0"/><stop offset=".232" stop-color="#8700db"/><stop offset=".237" stop-color="#8300da"/><stop offset=".272" stop-color="#d400ef"/><stop offset=".276" stop-color="#d600ef"/><stop offset=".285" stop-color="#bb00e8"/><stop offset=".303" stop-color="#d400ef"/><stop offset=".32" stop-color="#e000f2"/><stop offset=".333" stop-color="#d400ef"/><stop offset=".36" stop-color="#e400f3"/><stop offset=".382" stop-color="#db00f0"/><stop offset=".408" stop-color="#e700f4"/><stop offset=".421" stop-color="#de00f1"/><stop offset=".447" stop-color="#e800f4"/><stop offset=".465" stop-color="#e100f2"/><stop offset=".487" stop-color="#e800f4"/><stop offset=".509" stop-color="#e300f2"/><stop offset=".531" stop-color="#e900f4"/><stop offset="1" stop-color="#ea00f4"/></linearGradient>
<linearGradient id="R411" gradientUnits="userSpaceOnUse" x1="0" x2="0" y1="258.5" y2="486.5"><stop offset="0" stop-color="#0dc439"/><stop offset=".009" stop-color="#0dc43a"/><stop offset=".035" stop-color="#00c277"/><stop offset=".079" stop-color="#009bce"/><stop offset=".123" stop-color="#003fd7"/><stop offset=".167" stop-color="#240cd5"/><stop offset=".197" stop-color="#6802d9"/><stop offset=".228" stop-color="#a000e1"/><stop offset=".237" stop-color="#8600db"/><stop offset=".241" stop-color="#8c00dc"/><stop offset=".268" stop-color="#d000ee"/><stop offset=".272" stop-color="#d500ef"/><stop offset=".281" stop-color="#d000ee"/><stop offset=".285" stop-color="#be00e9"/><stop offset=".303" stop-color="#d500ef"/><stop offset=".32" stop-color="#e000f2"/><stop offset=".333" stop-color="#d500ef"/><stop offset=".36" stop-color="#e400f3"/><stop offset=".377" stop-color="#db00f0"/><stop offset=".404" stop-color="#e700f4"/><stop offset=".421" stop-color="#df00f1"/><stop offset=".447" stop-color="#e800f4"/><stop offset=".465" stop-color="#e100f2"/><stop offset=".491" stop-color="#e900f4"/><stop offset=".509" stop-color="#e300f3"/><stop offset=".531" stop-color="#e900f4"/><stop offset="1" stop-color="#ea00f4"/></linearGradient>
<linearGradient id="R412" gradientUnits="userSpaceOnUse" x1="0" x2="0" y1="258.5" y2="486.5"><stop offset="0" stop-color="#0dc43c"/><stop offset=".009" stop-color="#0dc43c"/><stop offset=".035" stop-color="#00c277"/><stop offset=".066" stop-color="#00a9b9"/><stop offset=".079" stop-color="#009bce"/><stop offset=".123" stop-color="#003fd8"/><stop offset=".167" stop-color="#250cd5"/><stop offset=".197" stop-color="#6a02d9"/><stop offset=".228" stop-color="#a200e2"/><stop offset=".237" stop-color="#8900db"/><stop offset=".241" stop-color="#8e00dc"/><stop offset=".263" stop-color="#c600eb"/><stop offset=".272" stop-color="#d500ef"/><stop offset=".281" stop-color="#d300ef"/><stop offset=".285" stop-color="#c200ea"/><stop offset=".289" stop-color="#c100ea"/><stop offset=".303" stop-color="#d500ef"/><stop offset=".32" stop-color="#e100f2"/><stop offset=".333" stop-color="#d500ef"/><stop offset=".364" stop-color="#e600f3"/><stop offset=".382" stop-color="#dc00f1"/><stop offset=".408" stop-color="#e800f4"/><stop offset=".421" stop-color="#df00f2"/><stop offset=".447" stop-color="#e900f4"/><stop offset=".465" stop-color="#e200f2"/><stop offset=".491" stop-color="#e900f4"/><stop offset=".509" stop-color="#e400f3"/><stop offset=".531" stop-color="#e900f4"/><stop offset="1" stop-color="#eb00f4"/></linearGradient>
<linearGradient id="R413" gradientUnits="userSpaceOnUse" x1="0" x2="0" y1="259.5" y2="486.5"><stop offset="0" stop-color="#0cc540"/><stop offset=".009" stop-color="#0ac546"/><stop offset=".031" stop-color="#00c278"/><stop offset=".075" stop-color="#009acf"/><stop offset=".123" stop-color="#0337d8"/><stop offset=".167" stop-color="#2c07d5"/><stop offset=".189" stop-color="#6203d8"/><stop offset=".225" stop-color="#a500e3"/><stop offset=".233" stop-color="#8d00dc"/><stop offset=".238" stop-color="#9100dd"/><stop offset=".26" stop-color="#c800eb"/><stop offset=".269" stop-color="#d600ef"/><stop offset=".278" stop-color="#d600ef"/><stop offset=".282" stop-color="#c500eb"/><stop offset=".286" stop-color="#c300ea"/><stop offset=".3" stop-color="#d500ef"/><stop offset=".317" stop-color="#e200f2"/><stop offset=".33" stop-color="#d600ef"/><stop offset=".361" stop-color="#e600f3"/><stop offset=".379" stop-color="#dc00f1"/><stop offset=".405" stop-color="#e800f4"/><stop offset=".423" stop-color="#e000f2"/><stop offset=".445" stop-color="#e900f4"/><stop offset=".463" stop-color="#e200f2"/><stop offset=".485" stop-color="#e900f4"/><stop offset=".507" stop-color="#e400f3"/><stop offset="1" stop-color="#eb00f4"/></linearGradient>
<linearGradient id="R414" gradientUnits="userSpaceOnUse" x1="0" x2="0" y1="259.5" y2="486.5"><stop offset="0" stop-color="#0bc545"/><stop offset=".009" stop-color="#0ac547"/><stop offset=".031" stop-color="#00c27a"/><stop offset=".066" stop-color="#00a5c4"/><stop offset=".075" stop-color="#0099cf"/><stop offset=".123" stop-color="#0436d8"/><stop offset=".163" stop-color="#260ad5"/><stop offset=".185" stop-color="#5a03d8"/><stop offset=".225" stop-color="#a800e3"/><stop offset=".229" stop-color="#a400e2"/><stop offset=".233" stop-color="#9100dd"/><stop offset=".238" stop-color="#9200de"/><stop offset=".264" stop-color="#d200ee"/><stop offset=".278" stop-color="#d700f0"/><stop offset=".286" stop-color="#c500eb"/><stop offset=".317" stop-color="#e200f2"/><stop offset=".33" stop-color="#d700ef"/><stop offset=".361" stop-color="#e600f3"/><stop offset=".379" stop-color="#dd00f1"/><stop offset=".405" stop-color="#e800f4"/><stop offset=".419" stop-color="#e000f2"/><stop offset=".445" stop-color="#e900f4"/><stop offset=".463" stop-color="#e200f2"/><stop offset=".529" stop-color="#ea00f4"/><stop offset="1" stop-color="#eb00f4"/></linearGradient>
<linearGradient id="R415" gradientUnits="userSpaceOnUse" x1="0" x2="0" y1="259.5" y2="486.5"><stop offset="0" stop-color="#0ac54a"/><stop offset=".009" stop-color="#0ac54a"/><stop offset=".031" stop-color="#00c27b"/><stop offset=".07" stop-color="#00a0cc"/><stop offset=".115" stop-color="#0043d8"/><stop offset=".128" stop-color="#0830d7"/><stop offset=".163" stop-color="#2709d5"/><stop offset=".189" stop-color="#6602d9"/><stop offset=".225" stop-color="#aa00e4"/><stop offset=".229" stop-color="#ab00e4"/><stop offset=".233" stop-color="#9600de"/><stop offset=".238" stop-color="#9500de"/><stop offset=".264" stop-color="#d200ee"/><stop offset=".278" stop-color="#d900f0"/><stop offset=".286" stop-color="#c700eb"/><stop offset=".317" stop-color="#e200f2"/><stop offset=".335" stop-color="#d800f0"/><stop offset=".361" stop-color="#e600f3"/><stop offset=".379" stop-color="#dd00f1"/><stop offset=".405" stop-color="#e800f4"/><stop offset=".423" stop-color="#e000f2"/><stop offset=".445" stop-color="#e900f4"/><stop offset=".463" stop-color="#e300f2"/><stop offset=".489" stop-color="#ea00f4"/><stop offset=".507" stop-color="#e400f3"/><stop offset=".529" stop-color="#ea00f4"/><stop offset="1" stop-color="#eb00f4"/></linearGradient>
<linearGradient id="R416" gradientUnits="userSpaceOnUse" x1="0" x2="0" y1="260.5" y2="486.5"><stop offset="0" stop-color="#08c54e"/><stop offset=".009" stop-color="#07c553"/><stop offset=".027" stop-color="#00c27c"/><stop offset=".066" stop-color="#009fcd"/><stop offset=".115" stop-color="#013ad8"/><stop offset=".155" stop-color="#240dd5"/><stop offset=".164" stop-color="#3107d5"/><stop offset=".186" stop-color="#6802d9"/><stop offset=".221" stop-color="#ac00e4"/><stop offset=".226" stop-color="#af00e5"/><stop offset=".23" stop-color="#9c00e0"/><stop offset=".235" stop-color="#9800df"/><stop offset=".261" stop-color="#d300ee"/><stop offset=".274" stop-color="#da00f0"/><stop offset=".283" stop-color="#c900ec"/><stop offset=".314" stop-color="#e300f2"/><stop offset=".332" stop-color="#d800f0"/><stop offset=".358" stop-color="#e700f3"/><stop offset=".376" stop-color="#dd00f1"/><stop offset=".403" stop-color="#e800f4"/><stop offset=".42" stop-color="#e100f2"/><stop offset=".442" stop-color="#e900f4"/><stop offset=".46" stop-color="#e300f2"/><stop offset=".487" stop-color="#ea00f4"/><stop offset=".504" stop-color="#e400f3"/><stop offset=".527" stop-color="#ea00f4"/><stop offset="1" stop-color="#eb00f4"/></linearGradient>
<linearGradient id="R417" gradientUnits="userSpaceOnUse" x1="0" x2="0" y1="260.5" y2="486.5"><stop offset="0" stop-color="#07c655"/><stop offset=".009" stop-color="#07c655"/><stop offset=".022" stop-color="#00c474"/><stop offset=".066" stop-color="#009fce"/><stop offset=".115" stop-color="#013ad8"/><stop offset=".159" stop-color="#2908d5"/><stop offset=".181" stop-color="#6003d8"/><stop offset=".221" stop-color="#ae00e5"/><stop offset=".226" stop-color="#b200e6"/><stop offset=".235" stop-color="#9a00e0"/><stop offset=".265" stop-color="#d700f0"/><stop offset=".274" stop-color="#da00f0"/><stop offset=".283" stop-color="#cb00ec"/><stop offset=".314" stop-color="#e300f2"/><stop offset=".332" stop-color="#d800f0"/><stop offset=".358" stop-color="#e700f4"/><stop offset=".376" stop-color="#de00f1"/><stop offset=".403" stop-color="#e900f4"/><stop offset=".42" stop-color="#e100f2"/><stop offset=".442" stop-color="#e900f4"/><stop offset=".46" stop-color="#e300f2"/><stop offset=".487" stop-color="#ea00f4"/><stop offset=".504" stop-color="#e500f3"/><stop offset="1" stop-color="#eb00f4"/></linearGradient>
<linearGradient id="R418" gradientUnits="userSpaceOnUse" x1="0" x2="0" y1="261.5" y2="486.5"><stop offset="0" stop-color="#06c65b"/><stop offset=".009" stop-color="#04c662"/><stop offset=".022" stop-color="#00c27e"/><stop offset=".062" stop-color="#009ece"/><stop offset=".111" stop-color="#0239d9"/><stop offset=".156" stop-color="#2a08d5"/><stop offset=".173" stop-color="#5803d8"/><stop offset=".196" stop-color="#8a00db"/><stop offset=".222" stop-color="#b500e7"/><stop offset=".231" stop-color="#9d00e0"/><stop offset=".262" stop-color="#d800f0"/><stop offset=".271" stop-color="#dc00f1"/><stop offset=".28" stop-color="#ce00ed"/><stop offset=".311" stop-color="#e300f3"/><stop offset=".329" stop-color="#d900f0"/><stop offset=".356" stop-color="#e700f3"/><stop offset=".373" stop-color="#de00f1"/><stop offset=".4" stop-color="#e900f4"/><stop offset=".418" stop-color="#e100f2"/><stop offset=".44" stop-color="#ea00f4"/><stop offset=".458" stop-color="#e300f2"/><stop offset=".484" stop-color="#ea00f4"/><stop offset=".502" stop-color="#e500f3"/><stop offset="1" stop-color="#eb00f4"/></linearGradient>
<linearGradient id="R419" gradientUnits="userSpaceOnUse" x1="0" x2="0" y1="261.5" y2="486.5"><stop offset="0" stop-color="#04c664"/><stop offset=".009" stop-color="#03c664"/><stop offset=".022" stop-color="#00c280"/><stop offset=".062" stop-color="#009dcf"/><stop offset=".107" stop-color="#003ed9"/><stop offset=".151" stop-color="#260ad5"/><stop offset=".178" stop-color="#6602d9"/><stop offset=".204" stop-color="#9d00e0"/><stop offset=".222" stop-color="#b800e8"/><stop offset=".231" stop-color="#a100e1"/><stop offset=".236" stop-color="#a400e2"/><stop offset=".253" stop-color="#cd00ed"/><stop offset=".262" stop-color="#d800f0"/><stop offset=".271" stop-color="#dc00f1"/><stop offset=".284" stop-color="#d000ee"/><stop offset=".311" stop-color="#e400f3"/><stop offset=".329" stop-color="#da00f0"/><stop offset=".356" stop-color="#e700f4"/><stop offset=".373" stop-color="#de00f1"/><stop offset=".4" stop-color="#e900f4"/><stop offset=".418" stop-color="#e100f2"/><stop offset=".44" stop-color="#ea00f4"/><stop offset=".458" stop-color="#e400f3"/><stop offset=".484" stop-color="#ea00f4"/><stop offset=".502" stop-color="#e500f3"/><stop offset="1" stop-color="#eb00f4"/></linearGradient>
<linearGradient id="R420" gradientUnits="userSpaceOnUse" x1="0" x2="0" y1="262.5" y2="486.5"><stop offset="0" stop-color="#02c76c"/><stop offset=".009" stop-color="#01c66f"/><stop offset=".058" stop-color="#009cd0"/><stop offset=".107" stop-color="#0437d9"/><stop offset=".147" stop-color="#260ad6"/><stop offset=".17" stop-color="#5e03d8"/><stop offset=".192" stop-color="#8f00dd"/><stop offset=".219" stop-color="#ba00e8"/><stop offset=".223" stop-color="#b500e7"/><stop offset=".228" stop-color="#a400e2"/><stop offset=".232" stop-color="#a600e3"/><stop offset=".254" stop-color="#d500ef"/><stop offset=".268" stop-color="#dd00f1"/><stop offset=".281" stop-color="#d200ee"/><stop offset=".308" stop-color="#e400f3"/><stop offset=".326" stop-color="#da00f0"/><stop offset=".353" stop-color="#e800f4"/><stop offset=".371" stop-color="#df00f1"/><stop offset=".397" stop-color="#e900f4"/><stop offset=".415" stop-color="#e200f2"/><stop offset=".438" stop-color="#ea00f4"/><stop offset=".455" stop-color="#e400f3"/><stop offset=".482" stop-color="#ea00f4"/><stop offset="1" stop-color="#eb00f4"/></linearGradient>
<linearGradient id="R421" gradientUnits="userSpaceOnUse" x1="0" x2="0" y1="262.5" y2="486.5"><stop offset="0" stop-color="#00c675"/><stop offset=".013" stop-color="#00c57a"/><stop offset=".054" stop-color="#00a2ce"/><stop offset=".103" stop-color="#013bd9"/><stop offset=".147" stop-color="#2909d6"/><stop offset=".183" stop-color="#7f00da"/><stop offset=".219" stop-color="#bd00e9"/><stop offset=".223" stop-color="#ba00e8"/><stop offset=".228" stop-color="#a800e3"/><stop offset=".232" stop-color="#a800e3"/><stop offset=".25" stop-color="#ce00ed"/><stop offset=".259" stop-color="#d900f0"/><stop offset=".268" stop-color="#dd00f1"/><stop offset=".281" stop-color="#d300ee"/><stop offset=".308" stop-color="#e400f3"/><stop offset=".326" stop-color="#da00f0"/><stop offset=".353" stop-color="#e800f4"/><stop offset=".371" stop-color="#df00f1"/><stop offset=".397" stop-color="#e900f4"/><stop offset=".415" stop-color="#e200f2"/><stop offset=".438" stop-color="#ea00f4"/><stop offset=".455" stop-color="#e400f3"/><stop offset=".482" stop-color="#ea00f4"/><stop offset="1" stop-color="#eb00f4"/></linearGradient>
<linearGradient id="R422" gradientUnits="userSpaceOnUse" x1="0" x2="0" y1="263.5" y2="486.5"><stop offset="0" stop-color="#00c47e"/><stop offset=".009" stop-color="#00c47f"/><stop offset=".045" stop-color="#00a6c9"/><stop offset=".054" stop-color="#0097d1"/><stop offset=".099" stop-color="#023ad9"/><stop offset=".143" stop-color="#2a08d6"/><stop offset=".161" stop-color="#5803d8"/><stop offset=".188" stop-color="#9300de"/><stop offset=".215" stop-color="#bf00e9"/><stop offset=".22" stop-color="#bf00e9"/><stop offset=".224" stop-color="#ac00e4"/><stop offset=".229" stop-color="#ab00e4"/><stop offset=".251" stop-color="#d600ef"/><stop offset=".265" stop-color="#de00f1"/><stop offset=".278" stop-color="#d300ee"/><stop offset=".305" stop-color="#e500f3"/><stop offset=".323" stop-color="#db00f0"/><stop offset=".35" stop-color="#e800f4"/><stop offset=".368" stop-color="#df00f1"/><stop offset=".395" stop-color="#e900f4"/><stop offset=".413" stop-color="#e200f2"/><stop offset=".435" stop-color="#ea00f4"/><stop offset=".457" stop-color="#e400f3"/><stop offset=".52" stop-color="#eb00f4"/><stop offset="1" stop-color="#eb00f4"/></linearGradient>
<linearGradient id="R423" gradientUnits="userSpaceOnUse" x1="0" x2="0" y1="264.5" y2="486.5"><stop offset="0" stop-color="#00c187"/><stop offset=".009" stop-color="#00c088"/><stop offset=".045" stop-color="#00a0cf"/><stop offset=".09" stop-color="#0040da"/><stop offset=".135" stop-color="#260ad6"/><stop offset=".176" stop-color="#8400db"/><stop offset=".207" stop-color="#bc00e9"/><stop offset=".216" stop-color="#c300eb"/><stop offset=".221" stop-color="#b100e6"/><stop offset=".225" stop-color="#ad00e5"/><stop offset=".243" stop-color="#d100ee"/><stop offset=".261" stop-color="#df00f1"/><stop offset=".275" stop-color="#d400ef"/><stop offset=".306" stop-color="#e600f3"/><stop offset=".32" stop-color="#db00f0"/><stop offset=".347" stop-color="#e800f4"/><stop offset=".365" stop-color="#e000f2"/><stop offset=".392" stop-color="#ea00f4"/><stop offset=".41" stop-color="#e200f2"/><stop offset=".432" stop-color="#ea00f4"/><stop offset=".45" stop-color="#e400f3"/><stop offset=".518" stop-color="#eb00f4"/><stop offset="1" stop-color="#eb00f4"/></linearGradient>
<linearGradient id="R424" gradientUnits="userSpaceOnUse" x1="0" x2="0" y1="265.5" y2="486.5"><stop offset="0" stop-color="#00bc91"/><stop offset=".009" stop-color="#00bb94"/><stop offset=".041" stop-color="#009dd1"/><stop offset=".086" stop-color="#003dda"/><stop offset=".131" stop-color="#2709d6"/><stop offset=".176" stop-color="#9000dd"/><stop offset=".208" stop-color="#c400eb"/><stop offset=".213" stop-color="#c700eb"/><stop offset=".222" stop-color="#b000e5"/><stop offset=".24" stop-color="#d100ee"/><stop offset=".258" stop-color="#df00f2"/><stop offset=".271" stop-color="#d400ef"/><stop offset=".299" stop-color="#e500f3"/><stop offset=".317" stop-color="#dc00f1"/><stop offset=".344" stop-color="#e800f4"/><stop offset=".362" stop-color="#e000f2"/><stop offset=".389" stop-color="#ea00f4"/><stop offset=".407" stop-color="#e300f2"/><stop offset=".475" stop-color="#eb00f4"/><stop offset="1" stop-color="#eb00f4"/></linearGradient>
<linearGradient id="R425" gradientUnits="userSpaceOnUse" x1="0" x2="0" y1="266.5" y2="486.5"><stop offset="0" stop-color="#00b99b"/><stop offset=".009" stop-color="#00b7a1"/><stop offset=".036" stop-color="#009cd1"/><stop offset=".082" stop-color="#013cda"/><stop offset=".127" stop-color="#2908d6"/><stop offset=".173" stop-color="#9300de"/><stop offset=".205" stop-color="#c600eb"/><stop offset=".209" stop-color="#ca00ec"/><stop offset=".218" stop-color="#b300e6"/><stop offset=".236" stop-color="#d200ee"/><stop offset=".255" stop-color="#e000f2"/><stop offset=".268" stop-color="#d500ef"/><stop offset=".295" stop-color="#e600f3"/><stop offset=".314" stop-color="#dc00f1"/><stop offset=".341" stop-color="#e900f4"/><stop offset=".359" stop-color="#e000f2"/><stop offset=".386" stop-color="#ea00f4"/><stop offset=".405" stop-color="#e300f2"/><stop offset=".473" stop-color="#eb00f4"/><stop offset="1" stop-color="#eb00f4"/></linearGradient>
<linearGradient id="R426" gradientUnits="userSpaceOnUse" x1="0" x2="0" y1="266.5" y2="486.5"><stop offset="0" stop-color="#00b5a4"/><stop offset=".009" stop-color="#00b5a4"/><stop offset=".036" stop-color="#0099d2"/><stop offset=".077" stop-color="#0041da"/><stop offset=".127" stop-color="#2c08d6"/><stop offset=".159" stop-color="#7a01da"/><stop offset=".191" stop-color="#b500e7"/><stop offset=".209" stop-color="#cc00ed"/><stop offset=".218" stop-color="#b500e7"/><stop offset=".236" stop-color="#d200ee"/><stop offset=".255" stop-color="#e000f2"/><stop offset=".268" stop-color="#d600ef"/><stop offset=".295" stop-color="#e600f3"/><stop offset=".314" stop-color="#dd00f1"/><stop offset=".341" stop-color="#e900f4"/><stop offset=".359" stop-color="#e100f2"/><stop offset=".386" stop-color="#ea00f4"/><stop offset=".405" stop-color="#e300f2"/><stop offset=".432" stop-color="#ea00f4"/><stop offset=".45" stop-color="#e500f3"/><stop offset=".473" stop-color="#eb00f4"/><stop offset="1" stop-color="#eb00f4"/></linearGradient>
<linearGradient id="R427" gradientUnits="userSpaceOnUse" x1="0" x2="0" y1="267.5" y2="486.5"><stop offset="0" stop-color="#00b1ae"/><stop offset=".009" stop-color="#00b0b0"/><stop offset=".023" stop-color="#00a6ca"/><stop offset=".032" stop-color="#0096d2"/><stop offset=".073" stop-color="#0040da"/><stop offset=".119" stop-color="#260ad6"/><stop offset=".16" stop-color="#8600db"/><stop offset=".187" stop-color="#b700e7"/><stop offset=".205" stop-color="#cf00ed"/><stop offset=".215" stop-color="#b800e7"/><stop offset=".219" stop-color="#ba00e8"/><stop offset=".233" stop-color="#d300ee"/><stop offset=".251" stop-color="#e100f2"/><stop offset=".265" stop-color="#d600ef"/><stop offset=".297" stop-color="#e700f3"/><stop offset=".311" stop-color="#dd00f1"/><stop offset=".338" stop-color="#e900f4"/><stop offset=".356" stop-color="#e100f2"/><stop offset=".384" stop-color="#ea00f4"/><stop offset=".402" stop-color="#e300f2"/><stop offset=".429" stop-color="#ea00f4"/><stop offset=".447" stop-color="#e500f3"/><stop offset=".47" stop-color="#eb00f4"/><stop offset="1" stop-color="#eb00f4"/></linearGradient>
<linearGradient id="R428" gradientUnits="userSpaceOnUse" x1="0" x2="0" y1="268.5" y2="486.5"><stop offset="0" stop-color="#00aeb7"/><stop offset=".009" stop-color="#00acba"/><stop offset=".023" stop-color="#009fd0"/><stop offset=".069" stop-color="#003eda"/><stop offset=".115" stop-color="#2809d6"/><stop offset=".156" stop-color="#8900dc"/><stop offset=".183" stop-color="#ba00e8"/><stop offset=".202" stop-color="#d100ee"/><stop offset=".211" stop-color="#bb00e8"/><stop offset=".216" stop-color="#bc00e8"/><stop offset=".229" stop-color="#d400ef"/><stop offset=".248" stop-color="#e100f2"/><stop offset=".261" stop-color="#d700ef"/><stop offset=".289" stop-color="#e600f3"/><stop offset=".307" stop-color="#dd00f1"/><stop offset=".335" stop-color="#e900f4"/><stop offset=".353" stop-color="#e100f2"/><stop offset=".381" stop-color="#ea00f4"/><stop offset=".399" stop-color="#e300f2"/><stop offset=".427" stop-color="#eb00f4"/><stop offset=".445" stop-color="#e500f3"/><stop offset=".468" stop-color="#eb00f4"/><stop offset="1" stop-color="#eb00f4"/></linearGradient>
<linearGradient id="R429" gradientUnits="userSpaceOnUse" x1="0" x2="0" y1="269.5" y2="486.5"><stop offset="0" stop-color="#00aac0"/><stop offset=".018" stop-color="#009dd1"/><stop offset=".065" stop-color="#013cda"/><stop offset=".111" stop-color="#2908d6"/><stop offset=".152" stop-color="#8b00dc"/><stop offset=".184" stop-color="#c200ea"/><stop offset=".198" stop-color="#d200ee"/><stop offset=".203" stop-color="#ce00ed"/><stop offset=".207" stop-color="#be00e9"/><stop offset=".212" stop-color="#be00e9"/><stop offset=".226" stop-color="#d400ee"/><stop offset=".244" stop-color="#e200f2"/><stop offset=".258" stop-color="#d700ef"/><stop offset=".286" stop-color="#e600f3"/><stop offset=".304" stop-color="#de00f1"/><stop offset=".336" stop-color="#e900f4"/><stop offset=".35" stop-color="#e100f2"/><stop offset=".373" stop-color="#ea00f4"/><stop offset=".396" stop-color="#e400f2"/><stop offset=".424" stop-color="#eb00f4"/><stop offset=".442" stop-color="#e500f3"/><stop offset=".465" stop-color="#eb00f4"/><stop offset="1" stop-color="#eb00f4"/></linearGradient>
<linearGradient id="R430" gradientUnits="userSpaceOnUse" x1="0" x2="0" y1="269.5" y2="486.5"><stop offset="0" stop-color="#00a6c8"/><stop offset=".014" stop-color="#00a1ce"/><stop offset=".065" stop-color="#013bd9"/><stop offset=".111" stop-color="#2b08d6"/><stop offset=".147" stop-color="#8500db"/><stop offset=".184" stop-color="#c400eb"/><stop offset=".198" stop-color="#d300ef"/><stop offset=".203" stop-color="#d100ee"/><stop offset=".207" stop-color="#c100ea"/><stop offset=".212" stop-color="#bf00e9"/><stop offset=".226" stop-color="#d400ef"/><stop offset=".244" stop-color="#e200f2"/><stop offset=".258" stop-color="#d800ef"/><stop offset=".286" stop-color="#e600f3"/><stop offset=".309" stop-color="#de00f1"/><stop offset=".336" stop-color="#e900f4"/><stop offset=".35" stop-color="#e100f2"/><stop offset=".373" stop-color="#ea00f4"/><stop offset=".396" stop-color="#e400f3"/><stop offset=".424" stop-color="#eb00f4"/><stop offset=".442" stop-color="#e600f3"/><stop offset=".465" stop-color="#eb00f4"/><stop offset="1" stop-color="#eb00f4"/></linearGradient>
<linearGradient id="R431" gradientUnits="userSpaceOnUse" x1="0" x2="0" y1="270.5" y2="486.5"><stop offset="0" stop-color="#00a2ce"/><stop offset=".014" stop-color="#0099d2"/><stop offset=".056" stop-color="#0041d9"/><stop offset=".102" stop-color="#260ad6"/><stop offset=".148" stop-color="#9000dd"/><stop offset=".176" stop-color="#c000ea"/><stop offset=".194" stop-color="#d400ef"/><stop offset=".199" stop-color="#d300ef"/><stop offset=".204" stop-color="#c300ea"/><stop offset=".208" stop-color="#c100ea"/><stop offset=".222" stop-color="#d500ef"/><stop offset=".241" stop-color="#e200f2"/><stop offset=".255" stop-color="#d800f0"/><stop offset=".287" stop-color="#e800f4"/><stop offset=".306" stop-color="#df00f1"/><stop offset=".333" stop-color="#ea00f4"/><stop offset=".347" stop-color="#e200f2"/><stop offset=".375" stop-color="#ea00f4"/><stop offset=".394" stop-color="#e400f3"/><stop offset=".421" stop-color="#eb00f4"/><stop offset=".44" stop-color="#e600f3"/><stop offset=".463" stop-color="#eb00f4"/><stop offset="1" stop-color="#eb00f4"/></linearGradient>
<linearGradient id="R432" gradientUnits="userSpaceOnUse" x1="0" x2="0" y1="271.5" y2="486.5"><stop offset="0" stop-color="#009cd2"/><stop offset=".009" stop-color="#0095d2"/><stop offset=".051" stop-color="#003fda"/><stop offset=".098" stop-color="#2709d6"/><stop offset=".14" stop-color="#8a00dc"/><stop offset=".177" stop-color="#c800ec"/><stop offset=".195" stop-color="#d500ef"/><stop offset=".2" stop-color="#c700eb"/><stop offset=".205" stop-color="#c300ea"/><stop offset=".237" stop-color="#e300f2"/><stop offset=".251" stop-color="#d900f0"/><stop offset=".284" stop-color="#e800f4"/><stop offset=".302" stop-color="#df00f1"/><stop offset=".33" stop-color="#ea00f4"/><stop offset=".344" stop-color="#e200f2"/><stop offset=".372" stop-color="#ea00f4"/><stop offset=".391" stop-color="#e400f3"/><stop offset=".419" stop-color="#eb00f4"/><stop offset="1" stop-color="#eb00f4"/></linearGradient>
<linearGradient id="R433" gradientUnits="userSpaceOnUse" x1="0" x2="0" y1="271.5" y2="486.5"><stop offset="0" stop-color="#0093d2"/><stop offset=".009" stop-color="#0092d2"/><stop offset=".051" stop-color="#003dda"/><stop offset=".098" stop-color="#2a08d6"/><stop offset=".135" stop-color="#8300db"/><stop offset=".172" stop-color="#c300ea"/><stop offset=".195" stop-color="#d500ef"/><stop offset=".205" stop-color="#c400eb"/><stop offset=".237" stop-color="#e300f2"/><stop offset=".251" stop-color="#d900f0"/><stop offset=".279" stop-color="#e700f3"/><stop offset=".302" stop-color="#df00f1"/><stop offset=".33" stop-color="#ea00f4"/><stop offset=".344" stop-color="#e200f2"/><stop offset=".372" stop-color="#ea00f4"/><stop offset=".391" stop-color="#e400f3"/><stop offset=".419" stop-color="#eb00f4"/><stop offset="1" stop-color="#eb00f4"/></linearGradient>
<linearGradient id="R434" gradientUnits="userSpaceOnUse" x1="0" x2="0" y1="272.5" y2="486.5"><stop offset="0" stop-color="#0089d4"/><stop offset=".009" stop-color="#0087d4"/><stop offset=".047" stop-color="#013bda"/><stop offset=".093" stop-color="#2b08d6"/><stop offset=".131" stop-color="#8500db"/><stop offset=".168" stop-color="#c600eb"/><stop offset=".192" stop-color="#d700ef"/><stop offset=".201" stop-color="#c700eb"/><stop offset=".234" stop-color="#e300f2"/><stop offset=".252" stop-color="#da00f0"/><stop offset=".28" stop-color="#e800f4"/><stop offset=".294" stop-color="#df00f1"/><stop offset=".322" stop-color="#ea00f4"/><stop offset=".341" stop-color="#e200f2"/><stop offset=".369" stop-color="#eb00f4"/><stop offset=".388" stop-color="#e400f3"/><stop offset=".416" stop-color="#eb00f4"/><stop offset="1" stop-color="#eb00f4"/></linearGradient>
<linearGradient id="R435" gradientUnits="userSpaceOnUse" x1="0" x2="0" y1="273.5" y2="486.5"><stop offset="0" stop-color="#0081d4"/><stop offset=".009" stop-color="#007cd5"/><stop offset=".042" stop-color="#023ada"/><stop offset=".089" stop-color="#2e07d6"/><stop offset=".131" stop-color="#9200de"/><stop offset=".169" stop-color="#ce00ed"/><stop offset=".188" stop-color="#d700f0"/><stop offset=".197" stop-color="#c900ec"/><stop offset=".23" stop-color="#e300f2"/><stop offset=".244" stop-color="#da00f0"/><stop offset=".277" stop-color="#e800f4"/><stop offset=".296" stop-color="#e000f1"/><stop offset=".319" stop-color="#ea00f4"/><stop offset=".338" stop-color="#e200f2"/><stop offset=".366" stop-color="#eb00f4"/><stop offset=".385" stop-color="#e400f3"/><stop offset=".413" stop-color="#eb00f4"/><stop offset="1" stop-color="#eb00f4"/></linearGradient>
<linearGradient id="R436" gradientUnits="userSpaceOnUse" x1="0" x2="0" y1="273.5" y2="486.5"><stop offset="0" stop-color="#0078d5"/><stop offset=".009" stop-color="#0077d5"/><stop offset=".038" stop-color="#003eda"/><stop offset=".089" stop-color="#3107d6"/><stop offset=".127" stop-color="#8b00dc"/><stop offset=".164" stop-color="#c900ec"/><stop offset=".188" stop-color="#d800f0"/><stop offset=".197" stop-color="#ca00ec"/><stop offset=".23" stop-color="#e300f3"/><stop offset=".249" stop-color="#da00f0"/><stop offset=".277" stop-color="#e800f4"/><stop offset=".296" stop-color="#e000f2"/><stop offset=".319" stop-color="#ea00f4"/><stop offset=".338" stop-color="#e300f2"/><stop offset=".366" stop-color="#eb00f4"/><stop offset=".385" stop-color="#e500f3"/><stop offset=".408" stop-color="#eb00f4"/><stop offset="1" stop-color="#eb00f4"/></linearGradient>
<linearGradient id="R437" gradientUnits="userSpaceOnUse" x1="0" x2="0" y1="274.5" y2="486.5"><stop offset="0" stop-color="#006ed6"/><stop offset=".009" stop-color="#006bd6"/><stop offset=".033" stop-color="#013dda"/><stop offset=".08" stop-color="#2a08d6"/><stop offset=".123" stop-color="#8d00dd"/><stop offset=".156" stop-color="#c500eb"/><stop offset=".165" stop-color="#d100ee"/><stop offset=".184" stop-color="#d900f0"/><stop offset=".193" stop-color="#cc00ed"/><stop offset=".226" stop-color="#e400f3"/><stop offset=".245" stop-color="#db00f0"/><stop offset=".274" stop-color="#e800f4"/><stop offset=".292" stop-color="#e000f2"/><stop offset=".316" stop-color="#ea00f4"/><stop offset=".34" stop-color="#e300f2"/><stop offset=".363" stop-color="#eb00f4"/><stop offset=".382" stop-color="#e500f3"/><stop offset=".406" stop-color="#eb00f4"/><stop offset="1" stop-color="#eb00f4"/></linearGradient>
<linearGradient id="R438" gradientUnits="userSpaceOnUse" x1="0" x2="0" y1="275.5" y2="486.5"><stop offset="0" stop-color="#0066d7"/><stop offset=".009" stop-color="#005fd7"/><stop offset=".028" stop-color="#013bda"/><stop offset=".076" stop-color="#2c08d6"/><stop offset=".118" stop-color="#9000dd"/><stop offset=".156" stop-color="#cd00ed"/><stop offset=".18" stop-color="#da00f0"/><stop offset=".194" stop-color="#d000ee"/><stop offset=".223" stop-color="#e400f3"/><stop offset=".237" stop-color="#db00f0"/><stop offset=".27" stop-color="#e900f4"/><stop offset=".289" stop-color="#e000f2"/><stop offset=".313" stop-color="#ea00f4"/><stop offset=".336" stop-color="#e300f2"/><stop offset=".36" stop-color="#eb00f4"/><stop offset=".379" stop-color="#e500f3"/><stop offset=".403" stop-color="#eb00f4"/><stop offset="1" stop-color="#eb00f4"/></linearGradient>
<linearGradient id="R439" gradientUnits="userSpaceOnUse" x1="0" x2="0" y1="275.5" y2="486.5"><stop offset="0" stop-color="#005ed8"/><stop offset=".009" stop-color="#005cd8"/><stop offset=".028" stop-color="#0239da"/><stop offset=".076" stop-color="#2f07d6"/><stop offset=".118" stop-color="#9300de"/><stop offset=".156" stop-color="#cf00ee"/><stop offset=".18" stop-color="#da00f0"/><stop offset=".194" stop-color="#d100ee"/><stop offset=".223" stop-color="#e400f3"/><stop offset=".242" stop-color="#db00f0"/><stop offset=".27" stop-color="#e900f4"/><stop offset=".289" stop-color="#e000f2"/><stop offset=".313" stop-color="#ea00f4"/><stop offset=".336" stop-color="#e300f2"/><stop offset=".36" stop-color="#eb00f4"/><stop offset=".379" stop-color="#e500f3"/><stop offset=".403" stop-color="#eb00f4"/><stop offset="1" stop-color="#eb00f4"/></linearGradient>
<linearGradient id="R440" gradientUnits="userSpaceOnUse" x1="0" x2="0" y1="276.5" y2="486.5"><stop offset="0" stop-color="#0055d8"/><stop offset=".01" stop-color="#0051d8"/><stop offset=".024" stop-color="#0338da"/><stop offset=".067" stop-color="#2809d6"/><stop offset=".071" stop-color="#3307d6"/><stop offset=".1" stop-color="#7801da"/><stop offset=".133" stop-color="#b600e7"/><stop offset=".152" stop-color="#d000ee"/><stop offset=".176" stop-color="#db00f0"/><stop offset=".19" stop-color="#d200ee"/><stop offset=".219" stop-color="#e500f3"/><stop offset=".238" stop-color="#dc00f0"/><stop offset=".267" stop-color="#e900f4"/><stop offset=".286" stop-color="#e000f2"/><stop offset=".31" stop-color="#ea00f4"/><stop offset=".333" stop-color="#e300f2"/><stop offset=".357" stop-color="#eb00f4"/><stop offset=".376" stop-color="#e500f3"/><stop offset=".4" stop-color="#eb00f4"/><stop offset="1" stop-color="#eb00f4"/></linearGradient>
<linearGradient id="R441" gradientUnits="userSpaceOnUse" x1="0" x2="0" y1="277.5" y2="486.5"><stop offset="0" stop-color="#004dd9"/><stop offset=".005" stop-color="#004cd9"/><stop offset=".014" stop-color="#013cda"/><stop offset=".062" stop-color="#2909d6"/><stop offset=".086" stop-color="#6502d9"/><stop offset=".12" stop-color="#a900e4"/><stop offset=".148" stop-color="#d200ee"/><stop offset=".172" stop-color="#db00f1"/><stop offset=".187" stop-color="#d300ee"/><stop offset=".215" stop-color="#e500f3"/><stop offset=".234" stop-color="#dc00f1"/><stop offset=".263" stop-color="#e900f4"/><stop offset=".282" stop-color="#e100f2"/><stop offset=".306" stop-color="#ea00f4"/><stop offset=".33" stop-color="#e400f2"/><stop offset=".354" stop-color="#eb00f4"/><stop offset=".373" stop-color="#e500f3"/><stop offset=".397" stop-color="#eb00f4"/><stop offset="1" stop-color="#eb00f4"/></linearGradient>
<linearGradient id="R442" gradientUnits="userSpaceOnUse" x1="0" x2="0" y1="277.5" y2="486.5"><stop offset="0" stop-color="#0046d9"/><stop offset=".014" stop-color="#013cda"/><stop offset=".062" stop-color="#2d08d6"/><stop offset=".091" stop-color="#7301da"/><stop offset=".124" stop-color="#b300e6"/><stop offset=".148" stop-color="#d300ee"/><stop offset=".172" stop-color="#dc00f1"/><stop offset=".187" stop-color="#d300ee"/><stop offset=".215" stop-color="#e500f3"/><stop offset=".234" stop-color="#dc00f1"/><stop offset=".263" stop-color="#e900f4"/><stop offset=".282" stop-color="#e100f2"/><stop offset=".311" stop-color="#ea00f4"/><stop offset=".33" stop-color="#e400f2"/><stop offset=".354" stop-color="#eb00f4"/><stop offset=".373" stop-color="#e500f3"/><stop offset=".397" stop-color="#eb00f4"/><stop offset="1" stop-color="#eb00f4"/></linearGradient>
<linearGradient id="R443" gradientUnits="userSpaceOnUse" x1="0" x2="0" y1="278.5" y2="486.5"><stop offset="0" stop-color="#003eda"/><stop offset=".01" stop-color="#0239da"/><stop offset=".058" stop-color="#2f07d6"/><stop offset=".087" stop-color="#7601da"/><stop offset=".12" stop-color="#b500e7"/><stop offset=".139" stop-color="#d000ee"/><stop offset=".168" stop-color="#dc00f1"/><stop offset=".183" stop-color="#d300ee"/><stop offset=".212" stop-color="#e500f3"/><stop offset=".231" stop-color="#dd00f1"/><stop offset=".26" stop-color="#e900f4"/><stop offset=".279" stop-color="#e100f2"/><stop offset=".308" stop-color="#ea00f4"/><stop offset=".327" stop-color="#e400f2"/><stop offset=".351" stop-color="#eb00f4"/><stop offset=".37" stop-color="#e500f3"/><stop offset=".394" stop-color="#eb00f4"/><stop offset="1" stop-color="#eb00f4"/></linearGradient>
<linearGradient id="R444" gradientUnits="userSpaceOnUse" x1="0" x2="0" y1="278.5" y2="486.5"><stop offset="0" stop-color="#0239da"/><stop offset=".01" stop-color="#0338da"/><stop offset=".048" stop-color="#230ed6"/><stop offset=".058" stop-color="#3207d6"/><stop offset=".091" stop-color="#8300db"/><stop offset=".12" stop-color="#b700e7"/><stop offset=".139" stop-color="#d100ee"/><stop offset=".168" stop-color="#dd00f1"/><stop offset=".183" stop-color="#d400ef"/><stop offset=".212" stop-color="#e500f3"/><stop offset=".231" stop-color="#dd00f1"/><stop offset=".26" stop-color="#e900f4"/><stop offset=".279" stop-color="#e100f2"/><stop offset=".308" stop-color="#ea00f4"/><stop offset=".327" stop-color="#e400f2"/><stop offset=".351" stop-color="#eb00f4"/><stop offset=".37" stop-color="#e600f3"/><stop offset=".394" stop-color="#eb00f4"/><stop offset="1" stop-color="#eb00f4"/></linearGradient>
<linearGradient id="R445" gradientUnits="userSpaceOnUse" x1="0" x2="0" y1="279.5" y2="486.5"><stop offset="0" stop-color="#0436d9"/><stop offset=".043" stop-color="#240dd6"/><stop offset=".053" stop-color="#3506d6"/><stop offset=".092" stop-color="#8e00dd"/><stop offset=".121" stop-color="#c000e9"/><stop offset=".135" stop-color="#d200ee"/><stop offset=".164" stop-color="#dd00f1"/><stop offset=".179" stop-color="#d400ef"/><stop offset=".208" stop-color="#e500f3"/><stop offset=".227" stop-color="#dd00f1"/><stop offset=".256" stop-color="#e900f4"/><stop offset=".275" stop-color="#e100f2"/><stop offset=".304" stop-color="#ea00f4"/><stop offset=".324" stop-color="#e400f3"/><stop offset=".348" stop-color="#eb00f4"/><stop offset="1" stop-color="#eb00f4"/></linearGradient>
<linearGradient id="R446" gradientUnits="userSpaceOnUse" x1="0" x2="0" y1="279.5" y2="486.5"><stop offset="0" stop-color="#0832d9"/><stop offset=".01" stop-color="#092fd8"/><stop offset=".048" stop-color="#2c08d6"/><stop offset=".092" stop-color="#9100dd"/><stop offset=".13" stop-color="#ce00ed"/><stop offset=".164" stop-color="#de00f1"/><stop offset=".179" stop-color="#d500ef"/><stop offset=".208" stop-color="#e500f3"/><stop offset=".227" stop-color="#dd00f1"/><stop offset=".256" stop-color="#ea00f4"/><stop offset=".275" stop-color="#e100f2"/><stop offset=".304" stop-color="#ea00f4"/><stop offset=".324" stop-color="#e400f3"/><stop offset=".348" stop-color="#eb00f4"/><stop offset="1" stop-color="#eb00f4"/></linearGradient>
<linearGradient id="R447" gradientUnits="userSpaceOnUse" x1="0" x2="0" y1="280.5" y2="486.5"><stop offset="0" stop-color="#0a2fd8"/><stop offset=".039" stop-color="#260ad5"/><stop offset=".083" stop-color="#8900db"/><stop offset=".121" stop-color="#c900ec"/><stop offset=".131" stop-color="#d300ee"/><stop offset=".16" stop-color="#de00f1"/><stop offset=".175" stop-color="#d500ef"/><stop offset=".209" stop-color="#e600f3"/><stop offset=".223" stop-color="#de00f1"/><stop offset=".252" stop-color="#ea00f4"/><stop offset=".272" stop-color="#e200f2"/><stop offset=".301" stop-color="#eb00f4"/><stop offset=".32" stop-color="#e400f3"/><stop offset=".345" stop-color="#eb00f4"/><stop offset="1" stop-color="#eb00f4"/></linearGradient>
<linearGradient id="R448" gradientUnits="userSpaceOnUse" x1="0" x2="0" y1="280.5" y2="486.5"><stop offset="0" stop-color="#0d2bd8"/><stop offset=".039" stop-color="#270ad5"/><stop offset=".087" stop-color="#9400de"/><stop offset=".121" stop-color="#cb00ec"/><stop offset=".16" stop-color="#de00f1"/><stop offset=".175" stop-color="#d600ef"/><stop offset=".209" stop-color="#e700f3"/><stop offset=".223" stop-color="#de00f1"/><stop offset=".252" stop-color="#ea00f4"/><stop offset=".272" stop-color="#e200f2"/><stop offset=".301" stop-color="#eb00f4"/><stop offset=".32" stop-color="#e400f3"/><stop offset=".345" stop-color="#eb00f4"/><stop offset="1" stop-color="#eb00f4"/></linearGradient>
<linearGradient id="R449" gradientUnits="userSpaceOnUse" x1="0" x2="0" y1="280.5" y2="486.5"><stop offset="0" stop-color="#0e29d8"/><stop offset=".01" stop-color="#1027d8"/><stop offset=".039" stop-color="#2909d5"/><stop offset=".083" stop-color="#8d00dc"/><stop offset=".121" stop-color="#cc00ed"/><stop offset=".16" stop-color="#de00f1"/><stop offset=".175" stop-color="#d600ef"/><stop offset=".209" stop-color="#e700f3"/><stop offset=".223" stop-color="#de00f1"/><stop offset=".252" stop-color="#ea00f4"/><stop offset=".272" stop-color="#e200f2"/><stop offset=".301" stop-color="#eb00f4"/><stop offset=".316" stop-color="#e400f3"/><stop offset=".345" stop-color="#eb00f4"/><stop offset="1" stop-color="#eb00f4"/></linearGradient>
<linearGradient id="R450" gradientUnits="userSpaceOnUse" x1="0" x2="0" y1="281.5" y2="486.5"><stop offset="0" stop-color="#1126d8"/><stop offset=".034" stop-color="#2908d5"/><stop offset=".073" stop-color="#8500da"/><stop offset=".112" stop-color="#c700eb"/><stop offset=".122" stop-color="#d200ee"/><stop offset=".156" stop-color="#df00f1"/><stop offset=".171" stop-color="#d600ef"/><stop offset=".205" stop-color="#e700f3"/><stop offset=".22" stop-color="#de00f1"/><stop offset=".249" stop-color="#ea00f4"/><stop offset=".268" stop-color="#e200f2"/><stop offset=".298" stop-color="#eb00f4"/><stop offset=".312" stop-color="#e400f3"/><stop offset=".341" stop-color="#eb00f4"/><stop offset="1" stop-color="#eb00f4"/></linearGradient>
<linearGradient id="R451" gradientUnits="userSpaceOnUse" x1="0" x2="0" y1="281.5" y2="486.5"><stop offset="0" stop-color="#1323d7"/><stop offset=".034" stop-color="#2c08d5"/><stop offset=".073" stop-color="#8700db"/><stop offset=".107" stop-color="#c200ea"/><stop offset=".122" stop-color="#d300ee"/><stop offset=".156" stop-color="#df00f1"/><stop offset=".171" stop-color="#d700ef"/><stop offset=".205" stop-color="#e700f3"/><stop offset=".22" stop-color="#de00f1"/><stop offset=".249" stop-color="#ea00f4"/><stop offset=".268" stop-color="#e200f2"/><stop offset=".298" stop-color="#eb00f4"/><stop offset=".317" stop-color="#e400f3"/><stop offset=".341" stop-color="#eb00f4"/><stop offset="1" stop-color="#eb00f4"/></linearGradient>
<linearGradient id="R452" gradientUnits="userSpaceOnUse" x1="0" x2="0" y1="281.5" y2="486.5"><stop offset="0" stop-color="#1520d7"/><stop offset=".01" stop-color="#161fd7"/><stop offset=".034" stop-color="#2d07d6"/><stop offset=".068" stop-color="#7f00da"/><stop offset=".112" stop-color="#c900ec"/><stop offset=".122" stop-color="#d300ee"/><stop offset=".156" stop-color="#df00f1"/><stop offset=".171" stop-color="#d700ef"/><stop offset=".2" stop-color="#e600f3"/><stop offset=".22" stop-color="#df00f1"/><stop offset=".249" stop-color="#ea00f4"/><stop offset=".268" stop-color="#e200f2"/><stop offset=".298" stop-color="#eb00f4"/><stop offset=".317" stop-color="#e500f3"/><stop offset=".341" stop-color="#eb00f4"/><stop offset="1" stop-color="#eb00f4"/></linearGradient>
<linearGradient id="R453" gradientUnits="userSpaceOnUse" x1="0" x2="0" y1="282.5" y2="486.5"><stop offset="0" stop-color="#171ed7"/><stop offset=".025" stop-color="#270ad5"/><stop offset=".069" stop-color="#8b00dc"/><stop offset=".108" stop-color="#ca00ec"/><stop offset=".152" stop-color="#e000f2"/><stop offset=".167" stop-color="#d800ef"/><stop offset=".196" stop-color="#e600f3"/><stop offset=".216" stop-color="#df00f1"/><stop offset=".245" stop-color="#ea00f4"/><stop offset=".265" stop-color="#e200f2"/><stop offset=".294" stop-color="#eb00f4"/><stop offset=".314" stop-color="#e500f3"/><stop offset=".338" stop-color="#eb00f4"/><stop offset="1" stop-color="#eb00f4"/></linearGradient>
<linearGradient id="R454" gradientUnits="userSpaceOnUse" x1="0" x2="0" y1="282.5" y2="486.5"><stop offset="0" stop-color="#181cd7"/><stop offset=".025" stop-color="#2809d5"/><stop offset=".064" stop-color="#8200da"/><stop offset=".103" stop-color="#c500eb"/><stop offset=".118" stop-color="#d400ef"/><stop offset=".152" stop-color="#e000f2"/><stop offset=".167" stop-color="#d800ef"/><stop offset=".196" stop-color="#e600f3"/><stop offset=".216" stop-color="#df00f1"/><stop offset=".245" stop-color="#ea00f4"/><stop offset=".265" stop-color="#e300f2"/><stop offset=".294" stop-color="#eb00f4"/><stop offset=".314" stop-color="#e500f3"/><stop offset=".338" stop-color="#eb00f4"/><stop offset="1" stop-color="#eb00f4"/></linearGradient>
<linearGradient id="R455" gradientUnits="userSpaceOnUse" x1="0" x2="0" y1="282.5" y2="486.5"><stop offset="0" stop-color="#1a19d6"/><stop offset=".025" stop-color="#2808d5"/><stop offset=".069" stop-color="#8e00dc"/><stop offset=".108" stop-color="#cd00ed"/><stop offset=".152" stop-color="#e000f2"/><stop offset=".167" stop-color="#d800f0"/><stop offset=".196" stop-color="#e700f3"/><stop offset=".216" stop-color="#df00f1"/><stop offset=".245" stop-color="#ea00f4"/><stop offset=".265" stop-color="#e300f2"/><stop offset=".294" stop-color="#eb00f4"/><stop offset=".314" stop-color="#e500f3"/><stop offset=".338" stop-color="#eb00f4"/><stop offset="1" stop-color="#eb00f4"/></linearGradient>
<linearGradient id="R456" gradientUnits="userSpaceOnUse" x1="0" x2="0" y1="282.5" y2="486.5"><stop offset="0" stop-color="#1c16d6"/><stop offset=".025" stop-color="#2b08d5"/><stop offset=".069" stop-color="#9000dd"/><stop offset=".108" stop-color="#ce00ed"/><stop offset=".152" stop-color="#e000f2"/><stop offset=".167" stop-color="#d800f0"/><stop offset=".196" stop-color="#e700f3"/><stop offset=".216" stop-color="#df00f1"/><stop offset=".245" stop-color="#ea00f4"/><stop offset=".265" stop-color="#e300f2"/><stop offset=".294" stop-color="#eb00f4"/><stop offset=".314" stop-color="#e500f3"/><stop offset=".338" stop-color="#eb00f4"/><stop offset="1" stop-color="#eb00f4"/></linearGradient>
<linearGradient id="R457" gradientUnits="userSpaceOnUse" x1="0" x2="0" y1="283.5" y2="486.5"><stop offset="0" stop-color="#1e15d6"/><stop offset=".02" stop-color="#2b08d5"/><stop offset=".059" stop-color="#8800db"/><stop offset=".099" stop-color="#c900ec"/><stop offset=".108" stop-color="#d300ee"/><stop offset=".148" stop-color="#e000f2"/><stop offset=".167" stop-color="#d900f0"/><stop offset=".197" stop-color="#e800f4"/><stop offset=".212" stop-color="#e000f1"/><stop offset=".241" stop-color="#ea00f4"/><stop offset=".261" stop-color="#e300f2"/><stop offset=".291" stop-color="#eb00f4"/><stop offset=".31" stop-color="#e500f3"/><stop offset=".335" stop-color="#eb00f4"/><stop offset="1" stop-color="#eb00f4"/></linearGradient>
<linearGradient id="R458" gradientUnits="userSpaceOnUse" x1="0" x2="0" y1="283.5" y2="486.5"><stop offset="0" stop-color="#1f13d6"/><stop offset=".02" stop-color="#2d07d5"/><stop offset=".059" stop-color="#8900db"/><stop offset=".094" stop-color="#c400ea"/><stop offset=".108" stop-color="#d400ee"/><stop offset=".148" stop-color="#e100f2"/><stop offset=".167" stop-color="#da00f0"/><stop offset=".197" stop-color="#e800f4"/><stop offset=".212" stop-color="#e000f1"/><stop offset=".241" stop-color="#ea00f4"/><stop offset=".261" stop-color="#e300f2"/><stop offset=".291" stop-color="#eb00f4"/><stop offset=".31" stop-color="#e500f3"/><stop offset=".335" stop-color="#eb00f4"/><stop offset="1" stop-color="#eb00f4"/></linearGradient>
<linearGradient id="R459" gradientUnits="userSpaceOnUse" x1="0" x2="0" y1="283.5" y2="486.5"><stop offset="0" stop-color="#2110d6"/><stop offset=".015" stop-color="#270ad5"/><stop offset=".059" stop-color="#8b00dc"/><stop offset=".099" stop-color="#cb00ec"/><stop offset=".148" stop-color="#e100f2"/><stop offset=".167" stop-color="#da00f0"/><stop offset=".197" stop-color="#e800f4"/><stop offset=".212" stop-color="#e000f1"/><stop offset=".241" stop-color="#ea00f4"/><stop offset=".261" stop-color="#e300f2"/><stop offset=".291" stop-color="#eb00f4"/><stop offset=".31" stop-color="#e500f3"/><stop offset=".335" stop-color="#eb00f4"/><stop offset="1" stop-color="#eb00f4"/></linearGradient>
<linearGradient id="R460" gradientUnits="userSpaceOnUse" x1="0" x2="0" y1="283.5" y2="486.5"><stop offset="0" stop-color="#220fd6"/><stop offset=".015" stop-color="#2809d5"/><stop offset=".059" stop-color="#8d00dc"/><stop offset=".099" stop-color="#cc00ec"/><stop offset=".148" stop-color="#e100f2"/><stop offset=".167" stop-color="#da00f0"/><stop offset=".197" stop-color="#e800f4"/><stop offset=".212" stop-color="#e000f2"/><stop offset=".241" stop-color="#ea00f4"/><stop offset=".261" stop-color="#e300f2"/><stop offset=".291" stop-color="#eb00f4"/><stop offset=".31" stop-color="#e500f3"/><stop offset=".335" stop-color="#eb00f4"/><stop offset="1" stop-color="#eb00f4"/></linearGradient>
<linearGradient id="R461" gradientUnits="userSpaceOnUse" x1="0" x2="0" y1="284.5" y2="486.5"><stop offset="0" stop-color="#240cd5"/><stop offset=".01" stop-color="#2908d5"/><stop offset=".05" stop-color="#8400da"/><stop offset=".089" stop-color="#c700eb"/><stop offset=".099" stop-color="#d200ee"/><stop offset=".144" stop-color="#e100f2"/><stop offset=".163" stop-color="#da00f0"/><stop offset=".193" stop-color="#e800f4"/><stop offset=".208" stop-color="#e000f2"/><stop offset=".238" stop-color="#ea00f4"/><stop offset=".257" stop-color="#e300f2"/><stop offset=".287" stop-color="#eb00f4"/><stop offset=".307" stop-color="#e500f3"/><stop offset=".332" stop-color="#eb00f4"/><stop offset="1" stop-color="#eb00f4"/></linearGradient>
<linearGradient id="R462" gradientUnits="userSpaceOnUse" x1="0" x2="0" y1="284.5" y2="486.5"><stop offset="0" stop-color="#250bd5"/><stop offset=".01" stop-color="#2a08d5"/><stop offset=".05" stop-color="#8600da"/><stop offset=".089" stop-color="#c800eb"/><stop offset=".099" stop-color="#d300ee"/><stop offset=".144" stop-color="#e200f2"/><stop offset=".163" stop-color="#da00f0"/><stop offset=".193" stop-color="#e800f4"/><stop offset=".208" stop-color="#e000f2"/><stop offset=".238" stop-color="#ea00f4"/><stop offset=".257" stop-color="#e300f2"/><stop offset=".287" stop-color="#eb00f4"/><stop offset=".307" stop-color="#e500f3"/><stop offset=".332" stop-color="#eb00f4"/><stop offset="1" stop-color="#eb00f4"/></linearGradient>
<linearGradient id="R463" gradientUnits="userSpaceOnUse" x1="0" x2="0" y1="284.5" y2="486.5"><stop offset="0" stop-color="#2709d5"/><stop offset=".01" stop-color="#2c08d5"/><stop offset=".045" stop-color="#7e00da"/><stop offset=".089" stop-color="#c900ec"/><stop offset=".104" stop-color="#d500ef"/><stop offset=".144" stop-color="#e200f2"/><stop offset=".163" stop-color="#da00f0"/><stop offset=".193" stop-color="#e800f4"/><stop offset=".208" stop-color="#e000f2"/><stop offset=".238" stop-color="#ea00f4"/><stop offset=".257" stop-color="#e400f2"/><stop offset=".287" stop-color="#eb00f4"/><stop offset=".307" stop-color="#e500f3"/><stop offset=".332" stop-color="#eb00f4"/><stop offset="1" stop-color="#eb00f4"/></linearGradient>
<linearGradient id="R464" gradientUnits="userSpaceOnUse" x1="0" x2="0" y1="284.5" y2="486.5"><stop offset="0" stop-color="#2a08d5"/><stop offset=".01" stop-color="#2e07d5"/><stop offset=".05" stop-color="#8900db"/><stop offset=".089" stop-color="#ca00ec"/><stop offset=".104" stop-color="#d600ef"/><stop offset=".144" stop-color="#e200f2"/><stop offset=".163" stop-color="#db00f0"/><stop offset=".193" stop-color="#e800f4"/><stop offset=".208" stop-color="#e100f2"/><stop offset=".233" stop-color="#ea00f4"/><stop offset=".257" stop-color="#e400f2"/><stop offset=".287" stop-color="#eb00f4"/><stop offset="1" stop-color="#eb00f4"/></linearGradient>
<linearGradient id="R465" gradientUnits="userSpaceOnUse" x1="0" x2="0" y1="285.5" y2="486.5"><stop offset="0" stop-color="#2e07d5"/><stop offset=".005" stop-color="#3107d5"/><stop offset=".055" stop-color="#9e00e0"/><stop offset=".085" stop-color="#cb00ec"/><stop offset=".139" stop-color="#e200f2"/><stop offset=".159" stop-color="#db00f0"/><stop offset=".189" stop-color="#e800f4"/><stop offset=".204" stop-color="#e100f2"/><stop offset=".229" stop-color="#ea00f4"/><stop offset=".254" stop-color="#e400f2"/><stop offset=".284" stop-color="#eb00f4"/><stop offset="1" stop-color="#eb00f4"/></linearGradient>
<linearGradient id="R466" gradientUnits="userSpaceOnUse" x1="0" x2="0" y1="285.5" y2="486.5"><stop offset="0" stop-color="#3307d6"/><stop offset=".005" stop-color="#3407d6"/><stop offset=".055" stop-color="#9f00e1"/><stop offset=".085" stop-color="#cc00ec"/><stop offset=".144" stop-color="#e300f2"/><stop offset=".159" stop-color="#db00f0"/><stop offset=".189" stop-color="#e800f4"/><stop offset=".204" stop-color="#e100f2"/><stop offset=".229" stop-color="#ea00f4"/><stop offset=".254" stop-color="#e400f2"/><stop offset=".284" stop-color="#eb00f4"/><stop offset="1" stop-color="#eb00f4"/></linearGradient>
<linearGradient id="R467" gradientUnits="userSpaceOnUse" x1="0" x2="0" y1="285.5" y2="486.5"><stop offset="0" stop-color="#3706d6"/><stop offset=".005" stop-color="#3706d6"/><stop offset=".045" stop-color="#8e00dc"/><stop offset=".085" stop-color="#ce00ed"/><stop offset=".139" stop-color="#e200f2"/><stop offset=".159" stop-color="#db00f0"/><stop offset=".189" stop-color="#e800f4"/><stop offset=".204" stop-color="#e100f2"/><stop offset=".229" stop-color="#ea00f4"/><stop offset=".254" stop-color="#e400f3"/><stop offset=".279" stop-color="#eb00f4"/><stop offset="1" stop-color="#eb00f4"/></linearGradient>
<linearGradient id="R468" gradientUnits="userSpaceOnUse" x1="0" x2="0" y1="285.5" y2="486.5"><stop offset="0" stop-color="#3c06d6"/><stop offset=".01" stop-color="#4205d6"/><stop offset=".045" stop-color="#9000dd"/><stop offset=".085" stop-color="#cf00ed"/><stop offset=".139" stop-color="#e200f2"/><stop offset=".159" stop-color="#dc00f0"/><stop offset=".189" stop-color="#e800f4"/><stop offset=".204" stop-color="#e100f2"/><stop offset=".229" stop-color="#ea00f4"/><stop offset=".254" stop-color="#e400f3"/><stop offset=".279" stop-color="#eb00f4"/><stop offset="1" stop-color="#eb00f4"/></linearGradient>
<linearGradient id="R469" gradientUnits="userSpaceOnUse" x1="0" x2="0" y1="285.5" y2="486.5"><stop offset="0" stop-color="#4006d6"/><stop offset=".01" stop-color="#4405d7"/><stop offset=".04" stop-color="#8800db"/><stop offset=".085" stop-color="#cf00ed"/><stop offset=".139" stop-color="#e300f2"/><stop offset=".159" stop-color="#dc00f0"/><stop offset=".189" stop-color="#e900f4"/><stop offset=".204" stop-color="#e200f2"/><stop offset=".279" stop-color="#eb00f4"/><stop offset="1" stop-color="#eb00f4"/></linearGradient>
<linearGradient id="R470" gradientUnits="userSpaceOnUse" x1="0" x2="0" y1="286.5" y2="486.5"><stop offset="0" stop-color="#4405d6"/><stop offset=".005" stop-color="#4705d7"/><stop offset=".045" stop-color="#9c00e0"/><stop offset=".08" stop-color="#d000ee"/><stop offset=".135" stop-color="#e300f2"/><stop offset=".155" stop-color="#dc00f0"/><stop offset=".185" stop-color="#e900f4"/><stop offset=".2" stop-color="#e200f2"/><stop offset=".275" stop-color="#eb00f4"/><stop offset="1" stop-color="#eb00f4"/></linearGradient>
<linearGradient id="R471" gradientUnits="userSpaceOnUse" x1="0" x2="0" y1="286.5" y2="486.5"><stop offset="0" stop-color="#4805d7"/><stop offset=".005" stop-color="#4905d7"/><stop offset=".055" stop-color="#ae00e5"/><stop offset=".08" stop-color="#d100ee"/><stop offset=".14" stop-color="#e400f2"/><stop offset=".155" stop-color="#dc00f0"/><stop offset=".185" stop-color="#e900f4"/><stop offset=".2" stop-color="#e200f2"/><stop offset=".23" stop-color="#ea00f4"/><stop offset=".25" stop-color="#e400f3"/><stop offset=".275" stop-color="#eb00f4"/><stop offset="1" stop-color="#eb00f4"/></linearGradient>
<linearGradient id="R472" gradientUnits="userSpaceOnUse" x1="0" x2="0" y1="286.5" y2="486.5"><stop offset="0" stop-color="#4b05d7"/><stop offset=".005" stop-color="#4c05d7"/><stop offset=".05" stop-color="#a700e3"/><stop offset=".08" stop-color="#d100ee"/><stop offset=".14" stop-color="#e400f3"/><stop offset=".155" stop-color="#dc00f1"/><stop offset=".185" stop-color="#e900f4"/><stop offset=".2" stop-color="#e200f2"/><stop offset=".23" stop-color="#ea00f4"/><stop offset=".25" stop-color="#e400f3"/><stop offset=".275" stop-color="#eb00f4"/><stop offset="1" stop-color="#eb00f4"/></linearGradient>
<linearGradient id="R473" gradientUnits="userSpaceOnUse" x1="0" x2="0" y1="286.5" y2="486.5"><stop offset="0" stop-color="#4f04d7"/><stop offset=".01" stop-color="#5704d8"/><stop offset=".045" stop-color="#a000e1"/><stop offset=".08" stop-color="#d200ee"/><stop offset=".135" stop-color="#e300f2"/><stop offset=".155" stop-color="#dc00f1"/><stop offset=".185" stop-color="#e900f4"/><stop offset=".205" stop-color="#e200f2"/><stop offset=".23" stop-color="#ea00f4"/><stop offset=".25" stop-color="#e400f3"/><stop offset=".275" stop-color="#eb00f4"/><stop offset="1" stop-color="#eb00f4"/></linearGradient>
<linearGradient id="R474" gradientUnits="userSpaceOnUse" x1="0" x2="0" y1="286.5" y2="486.5"><stop offset="0" stop-color="#5204d7"/><stop offset=".01" stop-color="#5903d7"/><stop offset=".05" stop-color="#a900e3"/><stop offset=".06" stop-color="#8a00ad"/><stop offset=".08" stop-color="#9e00b2"/><stop offset=".12" stop-color="#a800b5"/><stop offset=".13" stop-color="#e200f2"/><stop offset=".135" stop-color="#e300f2"/><stop offset=".155" stop-color="#dd00f1"/><stop offset=".185" stop-color="#e900f4"/><stop offset=".205" stop-color="#e200f2"/><stop offset=".23" stop-color="#ea00f4"/><stop offset=".25" stop-color="#e400f3"/><stop offset=".275" stop-color="#eb00f4"/><stop offset="1" stop-color="#eb00f4"/></linearGradient>
<linearGradient id="R475" gradientUnits="userSpaceOnUse" x1="0" x2="0" y1="286.5" y2="486.5"><stop offset="0" stop-color="#e700f4"/><stop offset="1" stop-color="#eb00f4"/></linearGradient>
<linearGradient id="R476" gradientUnits="userSpaceOnUse" x1="0" x2="0" y1="360.5" y2="486.5"><stop offset="0" stop-color="#ea00f4"/><stop offset="1" stop-color="#eb00f4"/></linearGradient>
<linearGradient id="R477" gradientUnits="userSpaceOnUse" x1="0" x2="0" y1="405.5" y2="486.5"><stop offset="0" stop-color="#eb00f4"/><stop offset="1" stop-color="#eb00f4"/></linearGradient>
<linearGradient id="R478" gradientUnits="userSpaceOnUse" x1="0" x2="0" y1="450.5" y2="486.5"><stop offset="0" stop-color="#eb00f4"/><stop offset="1" stop-color="#eb00f4"/></linearGradient>
</defs>
<rect width="531" height="515" fill="#fff"/>
<g stroke="#000" stroke-width="1" fill="none">
<path d="M38.7 5.2V132.5"/>
<path d="M30.6 132.0H38.7"/>
<path d="M30.6 106.7H38.7"/>
<path d="M30.6 81.4H38.7"/>
<path d="M30.6 56.1H38.7"/>
<path d="M30.6 30.8H38.7"/>
<path d="M30.6 5.5H38.7"/>
<path d="M40.0 134.3H228.2"/>
<path d="M40.0 134.3V139.6"/>
<path d="M77.7 134.3V139.6"/>
<path d="M115.3 134.3V139.6"/>
<path d="M152.9 134.3V139.6"/>
<path d="M190.6 134.3V139.6"/>
<path d="M228.2 134.3V139.6"/>
</g>
<g font-family='"Liberation Sans", sans-serif' font-size="10" fill="#000">
<text x="27.8" y="135.6" text-anchor="end" textLength="4.5" lengthAdjust="spacingAndGlyphs">0</text>
<text x="27.8" y="110.3" text-anchor="end" textLength="4.5" lengthAdjust="spacingAndGlyphs">5</text>
<text x="27.8" y="85.0" text-anchor="end" textLength="9.0" lengthAdjust="spacingAndGlyphs">10</text>
<text x="27.8" y="59.7" text-anchor="end" textLength="9.0" lengthAdjust="spacingAndGlyphs">15</text>
<text x="27.8" y="34.4" text-anchor="end" textLength="9.0" lengthAdjust="spacingAndGlyphs">20</text>
<text x="27.8" y="9.1" text-anchor="end" textLength="9.0" lengthAdjust="spacingAndGlyphs">25</text>
<text x="40.0" y="154.2" text-anchor="middle" textLength="11.6" lengthAdjust="spacingAndGlyphs">0.0</text>
<text x="77.7" y="154.2" text-anchor="middle" textLength="11.6" lengthAdjust="spacingAndGlyphs">0.5</text>
<text x="115.3" y="154.2" text-anchor="middle" textLength="11.6" lengthAdjust="spacingAndGlyphs">1.0</text>
<text x="152.9" y="154.2" text-anchor="middle" textLength="11.6" lengthAdjust="spacingAndGlyphs">1.5</text>
<text x="190.6" y="154.2" text-anchor="middle" textLength="11.6" lengthAdjust="spacingAndGlyphs">2.0</text>
<text x="228.2" y="154.2" text-anchor="middle" textLength="11.6" lengthAdjust="spacingAndGlyphs">2.5</text>
</g>
<path d="M42.8 130.1L226.7 5.5" stroke="#1a1a1a" stroke-width="1.1" fill="none"/>
<path d="M42.2 86.5H229.5" stroke="#1a1a1a" stroke-width="1.1" fill="none"/>
<path d="M42.3 84.7L43.2 84.7L44.1 84.7L45.1 84.7L46 84.6L46.9 84.6L47.9 84.6L48.8 84.6L49.7 84.6L50.7 84.5L51.6 84.5L52.5 84.5L53.5 84.4L54.4 84.4L55.3 84.4L56.3 84.3L57.2 84.3L58.1 84.2L59.1 84.2L60 84.1L61 84.1L61.9 84L62.8 84L63.8 83.9L64.7 83.8L65.6 83.8L66.6 83.7L67.5 83.6L68.4 83.5L69.4 83.4L70.3 83.3L71.2 83.2L72.2 83.1L73.1 83L74 82.9L75 82.8L75.9 82.7L76.8 82.6L77.8 82.4L78.7 82.3L79.6 82.2L80.6 82L81.5 81.9L82.4 81.7L83.4 81.5L84.3 81.4L85.3 81.2L86.2 81L87.1 80.8L88.1 80.6L89 80.4L89.9 80.2L90.9 80L91.8 79.7L92.7 79.5L93.7 79.3L94.6 79L95.5 78.7L96.5 78.5L97.4 78.2L98.3 77.9L99.3 77.6L100.2 77.3L101.1 77L102.1 76.7L103 76.4L103.9 76L104.9 75.7L105.8 75.3L106.7 75L107.7 74.6L108.6 74.2L109.6 73.8L110.5 73.4L111.4 73L112.4 72.6L113.3 72.2L114.2 71.8L115.2 71.4L116.1 71L117 70.5L118 70.1L118.9 69.6L119.8 69.2L120.8 68.7L121.7 68.2L122.6 67.8L123.6 67.3L124.5 66.8L125.4 66.3L126.4 65.8L127.3 65.3L128.2 64.8L129.2 64.3L130.1 63.8L131 63.3L132 62.8L132.9 62.2L133.9 61.7L134.8 61.2L135.7 60.7L136.7 60.1L137.6 59.6L138.5 59.1L139.5 58.5L140.4 58L141.3 57.4L142.3 56.9L143.2 56.3L144.1 55.8L145.1 55.2L146 54.7L146.9 54.1L147.9 53.5L148.8 53L149.7 52.4L150.7 51.8L151.6 51.3L152.5 50.7L153.5 50.1L154.4 49.6L155.3 49L156.3 48.4L157.2 47.8L158.2 47.3L159.1 46.7L160 46.1L161 45.5L161.9 44.9L162.8 44.3L163.8 43.8L164.7 43.2L165.6 42.6L166.6 42L167.5 41.4L168.4 40.8L169.4 40.2L170.3 39.6L171.2 39L172.2 38.4L173.1 37.8L174 37.3L175 36.7L175.9 36.1L176.8 35.5L177.8 34.9L178.7 34.3L179.6 33.7L180.6 33.1L181.5 32.5L182.5 31.9L183.4 31.3L184.3 30.7L185.3 30.1L186.2 29.5L187.1 28.8L188.1 28.2L189 27.6L189.9 27L190.9 26.4L191.8 25.8L192.7 25.2L193.7 24.6L194.6 24L195.5 23.4L196.5 22.8L197.4 22.2L198.3 21.6L199.3 21L200.2 20.3L201.1 19.7L202.1 19.1L203 18.5L203.9 17.9L204.9 17.3L205.8 16.7L206.8 16.1L207.7 15.5L208.6 14.8L209.6 14.2L210.5 13.6L211.4 13L212.4 12.4L213.3 11.8L214.2 11.2L215.2 10.5L216.1 9.9L217 9.3L218 8.7L218.9 8.1L219.8 7.5L220.8 6.8L221.7 6.2L222.6 5.6" stroke="#f00" stroke-width="1.1" fill="none"/>
<path d="M45.4 131.6L46.9 130.7L48.5 129.8L50 128.9L51.6 127.9L53.1 127L54.7 126.1L56.2 125.2L57.8 124.3L59.3 123.3L60.9 122.4L62.4 121.5L63.9 120.5L65.5 119.6L67 118.6L68.6 117.7L70.1 116.7L71.7 115.8L73.2 114.9L74.8 114L76.3 113.1L77.9 112.3L79.4 111.4L80.9 110.6L82.5 109.8L84 108.9L85.6 108.1L87.1 107.3L88.7 106.5L90.2 105.7L91.8 105L93.3 104.3L94.9 103.6L96.4 103L97.9 102.4L99.5 101.8L101 101.2L102.6 100.6L104.1 100L105.7 99.5L107.2 98.9L108.8 98.4L110.3 98L111.9 97.5L113.4 97.1L114.9 96.7L116.5 96.4L118 96.1L119.6 95.7L121.1 95.4L122.7 95.1L124.2 94.9L125.8 94.6L127.3 94.4L128.9 94.2L130.4 93.9L131.9 93.8L133.5 93.6L135 93.4L136.6 93.2L138.1 93.1L139.7 92.9L141.2 92.8L142.8 92.7L144.3 92.6L145.8 92.5L147.4 92.4L148.9 92.3L150.5 92.2L152 92.1L153.6 92L155.1 92L156.7 91.9L158.2 91.8L159.8 91.7L161.3 91.7L162.8 91.6L164.4 91.5L165.9 91.5L167.5 91.4L169 91.3L170.6 91.3L172.1 91.2L173.7 91.1L175.2 91.1L176.8 91L178.3 91L179.8 90.9L181.4 90.8L182.9 90.8L184.5 90.7L186 90.7L187.6 90.6L189.1 90.6L190.7 90.5L192.2 90.5L193.8 90.4L195.3 90.4L196.8 90.3L198.4 90.3L199.9 90.2L201.5 90.2L203 90.1L204.6 90.1L206.1 90L207.7 90L209.2 89.9L210.8 89.9L212.3 89.8L213.8 89.8L215.4 89.7L216.9 89.7L218.5 89.7L220 89.6L221.6 89.6L223.1 89.5L224.7 89.5L226.2 89.5L227.8 89.4L229.3 89.4" stroke="#f00" stroke-width="1.1" fill="none"/>
<g font-family='"Liberation Sans", sans-serif' fill="#000">
<text x="50.2" y="17.9" font-size="16">(</text><text x="63" y="17.9" font-size="16">a</text><text x="78.6" y="17.9" font-size="16">)</text>
<text x="140" y="43.8" font-size="14" fill="#e00000">L+</text>
<text x="142" y="107.8" font-size="14" fill="#e00000">L−</text>
<text x="185.5" y="48" font-size="14">PL</text>
<text x="204.8" y="81.8" font-size="14">LO</text>
<text transform="translate(9.8 68.5) rotate(-90)" font-size="11.8" text-anchor="middle" textLength="126" lengthAdjust="spacingAndGlyphs">mode frequency (THz)</text>
<text x="81" y="165" font-size="13">n</text>
<text x="89.6" y="159.3" font-size="9">1/2</text>
<text x="104.9" y="165" font-size="13">( x 10</text>
<text x="136.8" y="159.2" font-size="9">9</text>
<text x="147.2" y="165" font-size="12.5">cm</text>
<text x="164" y="159.3" font-size="9">−3/2</text>
<text x="183.6" y="165" font-size="13">)</text>
</g>
<g stroke="#000" stroke-width="1" fill="none">
<path d="M293.8 0V58.5"/>
<path d="M287.8 7.8H293.8"/>
<path d="M287.8 23.1H293.8"/>
<path d="M287.8 38.4H293.8"/>
<path d="M287.8 53.7H293.8"/>
<path d="M294.9 59.2H520.8"/>
<path d="M294.9 59.2V64.6"/>
<path d="M332.5 59.2V64.6"/>
<path d="M370.2 59.2V64.6"/>
<path d="M407.8 59.2V64.6"/>
<path d="M445.5 59.2V64.6"/>
<path d="M483.1 59.2V64.6"/>
<path d="M520.8 59.2V64.6"/>
<path d="M294.9 38.4H520.8" stroke-dasharray="2.2 2.2" stroke-width="0.9"/>
<path d="M293.8 80V138.3"/>
<path d="M287.8 87.6H293.8"/>
<path d="M287.8 102.9H293.8"/>
<path d="M287.8 118.2H293.8"/>
<path d="M287.8 133.5H293.8"/>
<path d="M294.9 138.9H520.8"/>
<path d="M294.9 138.9V144.3"/>
<path d="M332.5 138.9V144.3"/>
<path d="M370.2 138.9V144.3"/>
<path d="M407.8 138.9V144.3"/>
<path d="M445.5 138.9V144.3"/>
<path d="M483.1 138.9V144.3"/>
<path d="M520.8 138.9V144.3"/>
<path d="M294.9 118.2H520.8" stroke-dasharray="2.2 2.2" stroke-width="0.9"/>
</g>
<g font-family='"Liberation Sans", sans-serif' font-size="8.7" fill="#000">
<text x="286" y="11.0" text-anchor="end">0.4</text>
<text x="286" y="26.3" text-anchor="end">0.2</text>
<text x="286" y="41.6" text-anchor="end">0.0</text>
<text x="286" y="56.9" text-anchor="end">−0.2</text>
<text x="294.9" y="77.0" text-anchor="middle">0</text>
<text x="332.5" y="77.0" text-anchor="middle">500</text>
<text x="370.2" y="77.0" text-anchor="middle">1000</text>
<text x="407.8" y="77.0" text-anchor="middle">1500</text>
<text x="445.5" y="77.0" text-anchor="middle">2000</text>
<text x="483.1" y="77.0" text-anchor="middle">2500</text>
<text x="520.8" y="77.0" text-anchor="middle">3000</text>
<text x="286" y="90.8" text-anchor="end">0.4</text>
<text x="286" y="106.1" text-anchor="end">0.2</text>
<text x="286" y="121.4" text-anchor="end">0.0</text>
<text x="286" y="136.7" text-anchor="end">−0.2</text>
<text x="294.9" y="156.7" text-anchor="middle">0</text>
<text x="332.5" y="156.7" text-anchor="middle">500</text>
<text x="370.2" y="156.7" text-anchor="middle">1000</text>
<text x="407.8" y="156.7" text-anchor="middle">1500</text>
<text x="445.5" y="156.7" text-anchor="middle">2000</text>
<text x="483.1" y="156.7" text-anchor="middle">2500</text>
<text x="520.8" y="156.7" text-anchor="middle">3000</text>
</g>
<path d="M295 26.4L295.3 21.12L295.6 10.58L295.9 5.3L296.16 6.19L296.42 8.78L296.67 12.92L296.93 18.3L297.19 24.57L297.45 31.3L297.71 38.03L297.97 44.3L298.23 49.68L298.48 53.82L298.74 56.41L299 57.3L299.25 56.98L299.51 56.03L299.76 54.52L300.02 52.53L300.27 50.17L300.52 47.58L300.78 44.92L301.03 42.33L301.28 39.97L301.54 37.98L301.79 36.47L302.05 35.52L302.3 35.2L302.65 35.8L303 36.4L303.26 36.14L303.52 35.38L303.78 34.19L304.04 32.7L304.3 31.05L304.56 29.4L304.82 27.91L305.08 26.72L305.34 25.96L305.6 25.7L305.86 26.24L306.12 27.82L306.38 30.33L306.63 33.6L306.89 37.41L307.15 41.5L307.41 45.59L307.67 49.4L307.93 52.67L308.18 55.18L308.44 56.76L308.7 57.3L308.96 56.81L309.22 55.38L309.48 53.07L309.75 50.04L310.01 46.46L310.27 42.53L310.53 38.47L310.79 34.54L311.05 30.96L311.32 27.93L311.58 25.62L311.84 24.19L312.1 23.7L312.35 23.87L312.61 24.39L312.86 25.24L313.11 26.38L313.36 27.77L313.62 29.38L313.87 31.14L314.12 33L314.38 34.9L314.63 36.76L314.88 38.52L315.14 40.13L315.39 41.52L315.64 42.66L315.89 43.51L316.15 44.03L316.4 44.2L316.66 44.08L316.91 43.72L317.17 43.13L317.42 42.34L317.68 41.36L317.93 40.23L318.19 38.97L318.44 37.63L318.7 36.25L318.96 34.87L319.21 33.53L319.47 32.28L319.72 31.14L319.98 30.16L320.23 29.37L320.49 28.78L320.74 28.42L321 28.3L321.26 28.52L321.52 29.19L321.78 30.26L322.04 31.69L322.3 33.42L322.56 35.38L322.82 37.48L323.08 39.62L323.34 41.72L323.6 43.67L323.86 45.41L324.12 46.84L324.38 47.91L324.64 48.58L324.9 48.8L325.15 48.62L325.4 48.07L325.65 47.19L325.9 46L326.15 44.56L326.4 42.9L326.65 41.11L326.9 39.25L327.15 37.39L327.4 35.6L327.65 33.94L327.9 32.5L328.15 31.31L328.4 30.43L328.65 29.88L328.9 29.7L329.16 29.88L329.42 30.4L329.68 31.24L329.94 32.36L330.2 33.72L330.46 35.26L330.72 36.91L330.98 38.59L331.24 40.24L331.5 41.77L331.76 43.14L332.02 44.26L332.28 45.1L332.54 45.62L332.8 45.8L333.06 45.67L333.31 45.3L333.57 44.69L333.82 43.87L334.08 42.85L334.33 41.67L334.59 40.37L334.84 38.98L335.1 37.55L335.36 36.12L335.61 34.73L335.87 33.43L336.12 32.25L336.38 31.23L336.63 30.41L336.89 29.8L337.14 29.43L337.4 29.3L337.66 29.49L337.92 30.06L338.18 30.97L338.44 32.2L338.7 33.67L338.96 35.35L339.22 37.14L339.48 38.96L339.74 40.75L340 42.42L340.26 43.9L340.52 45.13L340.78 46.04L341.04 46.61L341.3 46.8L341.56 46.66L341.82 46.26L342.08 45.59L342.34 44.69L342.59 43.59L342.85 42.33L343.11 40.94L343.37 39.47L343.63 37.99L343.89 36.52L344.15 35.13L344.41 33.87L344.66 32.77L344.92 31.87L345.18 31.2L345.44 30.8L345.7 30.66L345.96 30.8L346.22 31.23L346.48 31.93L346.74 32.86L347 34L347.26 35.3L347.52 36.71L347.78 38.17L348.04 39.64L348.3 41.05L348.56 42.35L348.82 43.49L349.08 44.42L349.34 45.12L349.6 45.55L349.85 45.69L350.11 45.55L350.37 45.13L350.63 44.45L350.89 43.53L351.15 42.42L351.41 41.14L351.67 39.76L351.93 38.32L352.19 36.89L352.45 35.51L352.71 34.23L352.97 33.12L353.23 32.2L353.49 31.52L353.75 31.1L354.01 30.96L354.27 31.1L354.53 31.51L354.79 32.18L355.05 33.07L355.31 34.17L355.57 35.42L355.83 36.77L356.09 38.18L356.35 39.59L356.61 40.95L356.87 42.2L357.13 43.29L357.39 44.19L357.65 44.86L357.91 45.27L358.16 45.41L358.42 45.27L358.68 44.87L358.94 44.21L359.2 43.33L359.46 42.26L359.72 41.04L359.98 39.71L360.24 38.33L360.5 36.95L360.76 35.62L361.02 34.39L361.28 33.32L361.54 32.44L361.8 31.79L362.06 31.38L362.32 31.25L362.58 31.38L362.84 31.77L363.1 32.42L363.36 33.28L363.62 34.33L363.88 35.53L364.14 36.84L364.4 38.19L364.66 39.55L364.92 40.85L365.18 42.05L365.44 43.1L365.7 43.97L365.96 44.61L366.22 45L366.47 45.14L366.73 45.01L366.99 44.62L367.25 43.99L367.51 43.14L367.77 42.11L368.03 40.93L368.29 39.66L368.55 38.33L368.81 37L369.07 35.72L369.33 34.55L369.59 33.52L369.85 32.67L370.11 32.04L370.37 31.65L370.63 31.52L370.89 31.65L371.15 32.03L371.41 32.65L371.67 33.48L371.93 34.49L372.19 35.64L372.45 36.9L372.71 38.2L372.97 39.5L373.23 40.75L373.49 41.91L373.75 42.92L374.01 43.75L374.27 44.37L374.53 44.75L374.78 44.88L375.04 44.75L375.3 44.38L375.56 43.77L375.82 42.96L376.08 41.97L376.34 40.84L376.6 39.61L376.86 38.33L377.12 37.06L377.38 35.83L377.64 34.7L377.9 33.71L378.16 32.89L378.42 32.29L378.68 31.91L378.94 31.79L379.2 31.91L379.46 32.28L379.72 32.87L379.98 33.67L380.24 34.64L380.5 35.75L380.76 36.96L381.02 38.21L381.28 39.46L381.54 40.66L381.8 41.77L382.06 42.75L382.32 43.54L382.58 44.14L382.84 44.5L383.09 44.63L383.35 44.51L383.61 44.15L383.87 43.57L384.13 42.78L384.39 41.83L384.65 40.74L384.91 39.56L385.17 38.34L385.43 37.11L385.69 35.93L385.95 34.84L386.21 33.89L386.47 33.1L386.73 32.52L386.99 32.16L387.25 32.04L387.51 32.16L387.77 32.51L388.03 33.08L388.29 33.85L388.55 34.79L388.81 35.85L389.07 37.01L389.33 38.21L389.59 39.42L389.85 40.58L390.11 41.64L390.37 42.58L390.63 43.35L390.89 43.92L391.15 44.27L391.4 44.39L391.66 44.27L391.92 43.93L392.18 43.37L392.44 42.61L392.7 41.7L392.96 40.65L393.22 39.52L393.48 38.34L393.74 37.16L394 36.02L394.26 34.98L394.52 34.06L394.78 33.31L395.04 32.75L395.3 32.41L395.56 32.29L395.82 32.4L396.08 32.74L396.34 33.29L396.6 34.03L396.86 34.93L397.12 35.95L397.38 37.06L397.64 38.22L397.9 39.38L398.16 40.49L398.42 41.52L398.68 42.42L398.94 43.15L399.2 43.7L399.46 44.04L399.71 44.15L399.97 44.04L400.23 43.71L400.49 43.17L400.75 42.45L401.01 41.57L401.27 40.57L401.53 39.47L401.79 38.34L402.05 37.21L402.31 36.12L402.57 35.11L402.83 34.23L403.09 33.51L403.35 32.97L403.61 32.64L403.87 32.53L404.13 32.64L404.39 32.96L404.65 33.49L404.91 34.2L405.17 35.06L405.43 36.05L405.69 37.12L405.95 38.23L406.21 39.34L406.47 40.41L406.73 41.4L406.99 42.26L407.25 42.97L407.51 43.5L407.77 43.82L408.02 43.93L408.28 43.82L408.54 43.51L408.8 42.99L409.06 42.29L409.32 41.45L409.58 40.48L409.84 39.43L410.1 38.34L410.36 37.25L410.62 36.2L410.88 35.24L411.14 34.39L411.4 33.69L411.66 33.18L411.92 32.86L412.18 32.75L412.44 32.86L412.7 33.17L412.96 33.68L413.22 34.36L413.48 35.19L413.74 36.14L414 37.17L414.26 38.24L414.52 39.31L414.78 40.33L415.04 41.28L415.3 42.11L415.56 42.79L415.82 43.3L416.08 43.61L416.33 43.72L416.59 43.61L416.85 43.31L417.11 42.81L417.37 42.14L417.63 41.33L417.89 40.4L418.15 39.39L418.41 38.34L418.67 37.3L418.93 36.29L419.19 35.36L419.45 34.54L419.71 33.88L419.97 33.38L420.23 33.07L420.49 32.97L420.75 33.07L421.01 33.37L421.27 33.86L421.53 34.51L421.79 35.31L422.05 36.22L422.31 37.21L422.57 38.24L422.83 39.27L423.09 40.26L423.35 41.17L423.61 41.97L423.87 42.62L424.13 43.11L424.39 43.41L424.64 43.51L424.9 43.41L425.16 43.12L425.42 42.64L425.68 42L425.94 41.22L426.2 40.32L426.46 39.35L426.72 38.35L426.98 37.34L427.24 36.37L427.5 35.48L427.76 34.69L428.02 34.05L428.28 33.57L428.54 33.28L428.8 33.18L429.06 33.28L429.32 33.57L429.58 34.03L429.84 34.66L430.1 35.43L430.36 36.31L430.62 37.26L430.88 38.25L431.14 39.24L431.4 40.19L431.66 41.06L431.92 41.83L432.18 42.46L432.44 42.93L432.7 43.22L432.95 43.32L433.21 43.22L433.47 42.94L433.73 42.48L433.99 41.86L434.25 41.11L434.51 40.25L434.77 39.32L435.03 38.35L435.29 37.38L435.55 36.45L435.81 35.59L436.07 34.84L436.33 34.22L436.59 33.76L436.85 33.48L437.11 33.38L437.37 33.48L437.63 33.75L437.89 34.2L438.15 34.81L438.41 35.55L438.67 36.39L438.93 37.3L439.19 38.25L439.45 39.2L439.71 40.12L439.97 40.96L440.23 41.7L440.49 42.3L440.75 42.75L441.01 43.03L441.26 43.13L441.52 43.03L441.78 42.76L442.04 42.32L442.3 41.73L442.56 41L442.82 40.18L443.08 39.28L443.34 38.35L443.6 37.42L443.86 36.52L444.12 35.7L444.38 34.97L444.64 34.38L444.9 33.94L445.16 33.67L445.42 33.58L445.68 33.67L445.94 33.93L446.2 34.37L446.46 34.95L446.72 35.66L446.98 36.47L447.24 37.35L447.5 38.26L447.76 39.17L448.02 40.05L448.28 40.86L448.54 41.57L448.8 42.15L449.06 42.59L449.32 42.85L449.57 42.94L449.83 42.85L450.09 42.59L450.35 42.17L450.61 41.6L450.87 40.9L451.13 40.11L451.39 39.25L451.65 38.35L451.91 37.46L452.17 36.6L452.43 35.8L452.69 35.11L452.95 34.54L453.21 34.11L453.47 33.85L453.73 33.76L453.99 33.85L454.25 34.11L454.51 34.52L454.77 35.08L455.03 35.76L455.29 36.54L455.55 37.39L455.81 38.26L456.07 39.14L456.33 39.99L456.59 40.77L456.85 41.45L457.11 42.01L457.37 42.42L457.63 42.68L457.88 42.77L458.14 42.68L458.4 42.43L458.66 42.02L458.92 41.47L459.18 40.81L459.44 40.04L459.7 39.22L459.96 38.35L460.22 37.49L460.48 36.67L460.74 35.9L461 35.23L461.26 34.69L461.52 34.28L461.78 34.03L462.04 33.94L462.3 34.03L462.56 34.27L462.82 34.67L463.08 35.21L463.34 35.87L463.6 36.61L463.86 37.43L464.12 38.27L464.38 39.11L464.64 39.93L464.9 40.67L465.16 41.33L465.42 41.87L465.68 42.27L465.94 42.52L466.19 42.6L466.45 42.52L466.71 42.28L466.97 41.88L467.23 41.36L467.49 40.71L467.75 39.98L468.01 39.18L468.27 38.36L468.53 37.53L468.79 36.73L469.05 36L469.31 35.36L469.57 34.83L469.83 34.44L470.09 34.2L470.35 34.11L470.61 34.19L470.87 34.43L471.13 34.82L471.39 35.33L471.65 35.96L471.91 36.68L472.17 37.46L472.43 38.28L472.69 39.09L472.95 39.87L473.21 40.59L473.47 41.22L473.73 41.73L473.99 42.12L474.25 42.36L474.5 42.44L474.76 42.36L475.02 42.13L475.28 41.75L475.54 41.24L475.8 40.62L476.06 39.92L476.32 39.15L476.58 38.36L476.84 37.56L477.1 36.8L477.36 36.09L477.62 35.47L477.88 34.97L478.14 34.59L478.4 34.36L478.66 34.28L478.92 34.36L479.18 34.58L479.44 34.95L479.7 35.45L479.96 36.06L480.22 36.75L480.48 37.5L480.74 38.28L481 39.06L481.26 39.81L481.52 40.5L481.78 41.11L482.04 41.61L482.3 41.98L482.56 42.2L482.81 42.28L483.07 42.2L483.33 41.98L483.59 41.62L483.85 41.13L484.11 40.54L484.37 39.86L484.63 39.12L484.89 38.36L485.15 37.59L485.41 36.86L485.67 36.18L485.93 35.59L486.19 35.1L486.45 34.74L486.71 34.51L486.97 34.44L487.23 34.51L487.49 34.73L487.75 35.09L488.01 35.57L488.27 36.15L488.53 36.81L488.79 37.53L489.05 38.28L489.31 39.03L489.57 39.76L489.83 40.42L490.09 41L490.35 41.48L490.61 41.84L490.87 42.06L491.12 42.13L491.38 42.06L491.64 41.84L491.9 41.49L492.16 41.03L492.42 40.46L492.68 39.8L492.94 39.1L493.2 38.36L493.46 37.63L493.72 36.92L493.98 36.27L494.24 35.7L494.5 35.23L494.76 34.88L495.02 34.66L495.28 34.59L495.54 34.66L495.8 34.87L496.06 35.22L496.32 35.68L496.58 36.24L496.84 36.87L497.1 37.57L497.36 38.29L497.62 39.01L497.88 39.7L498.14 40.34L498.4 40.9L498.66 41.36L498.92 41.7L499.18 41.91L499.44 41.99L499.69 41.92L499.95 41.71L500.21 41.38L500.47 40.92L500.73 40.38L500.99 39.75L501.25 39.07L501.51 38.36L501.77 37.66L502.03 36.98L502.29 36.35L502.55 35.8L502.81 35.35L503.07 35.02L503.33 34.81L503.59 34.74L503.85 34.81L504.11 35.01L504.37 35.34L504.63 35.78L504.89 36.32L505.15 36.93L505.41 37.6L505.67 38.29L505.93 38.99L506.19 39.65L506.45 40.27L506.71 40.81L506.97 41.25L507.23 41.58L507.49 41.78L507.75 41.85L508 41.78L508.26 41.58L508.52 41.26L508.78 40.83L509.04 40.3L509.3 39.7L509.56 39.04L509.82 38.36L510.08 37.68L510.34 37.03L510.6 36.43L510.86 35.9L511.12 35.47L511.38 35.15L511.64 34.95L511.9 34.88L512.16 34.95L512.42 35.14L512.68 35.46L512.94 35.88L513.2 36.4L513.46 36.99L513.72 37.63L513.98 38.3L514.24 38.96L514.5 39.6L514.76 40.2L515.02 40.71L515.28 41.14L515.54 41.45L515.8 41.65L516.06 41.71L516.31 41.65L516.57 41.46L516.83 41.15L517.09 40.73L517.35 40.23L517.61 39.65L517.87 39.02L518.13 38.37L518.39 37.71L518.65 37.08L518.91 36.51L519.17 36L519.43 35.58L519.69 35.27L519.95 35.08L520.21 35.02L520.47 35.07L520.73 35.23L520.99 35.47L521.25 35.76L521.52 36.04L521.78 36.28L522.04 36.44L522.3 36.5" stroke="#f00000" stroke-width="1.05" fill="none" stroke-linejoin="round"/>
<path d="M295 106.3L295.27 105.19L295.54 102.08L295.81 97.59L296.09 92.61L296.36 88.12L296.63 85.01L296.9 83.9L297.16 85.71L297.42 90.86L297.69 98.56L297.95 107.65L298.21 116.74L298.48 124.44L298.74 129.59L299 131.4L299.26 130.58L299.52 128.43L299.78 125.77L300.04 123.62L300.3 122.8L300.55 123.2L300.8 124.35L301.05 126.07L301.3 128.1L301.55 130.13L301.8 131.85L302.05 133L302.3 133.4L302.56 132.61L302.83 130.31L303.09 126.69L303.35 122.03L303.62 116.72L303.88 111.18L304.15 105.87L304.41 101.21L304.67 97.59L304.94 95.29L305.2 94.5L305.46 95.31L305.72 97.66L305.98 101.32L306.24 105.94L306.5 111.05L306.76 116.16L307.02 120.78L307.28 124.44L307.54 126.79L307.8 127.6L308.1 127.48L308.4 127.2L308.7 126.92L309 126.8L309.3 127.05L309.6 127.65L309.9 128.25L310.2 128.5L310.45 128.16L310.7 127.14L310.95 125.51L311.2 123.34L311.45 120.74L311.7 117.85L311.95 114.8L312.2 111.75L312.45 108.86L312.7 106.26L312.95 104.09L313.2 102.46L313.45 101.44L313.7 101.1L313.95 101.36L314.2 102.13L314.45 103.38L314.7 105.05L314.95 107.1L315.2 109.43L315.45 111.97L315.7 114.6L315.95 117.23L316.2 119.77L316.45 122.1L316.7 124.15L316.95 125.82L317.2 127.07L317.45 127.84L317.7 128.1L317.95 127.91L318.21 127.33L318.46 126.4L318.71 125.14L318.96 123.59L319.22 121.81L319.47 119.86L319.72 117.8L319.98 115.7L320.23 113.64L320.48 111.69L320.74 109.91L320.99 108.36L321.24 107.1L321.49 106.17L321.75 105.59L322 105.4L322.25 105.58L322.51 106.13L322.76 107.02L323.01 108.22L323.26 109.69L323.52 111.39L323.77 113.24L324.02 115.2L324.28 117.2L324.53 119.16L324.78 121.01L325.04 122.71L325.29 124.18L325.54 125.38L325.79 126.27L326.05 126.82L326.3 127L326.55 126.85L326.81 126.39L327.06 125.65L327.31 124.65L327.56 123.42L327.82 122.01L328.07 120.46L328.32 118.83L328.58 117.17L328.83 115.54L329.08 113.99L329.34 112.58L329.59 111.35L329.84 110.35L330.09 109.61L330.35 109.15L330.6 109L330.85 109.16L331.1 109.62L331.35 110.37L331.6 111.37L331.85 112.6L332.1 114L332.35 115.52L332.6 117.1L332.85 118.68L333.1 120.2L333.35 121.6L333.6 122.83L333.85 123.83L334.1 124.58L334.35 125.04L334.6 125.2L334.86 125.07L335.12 124.68L335.39 124.05L335.65 123.21L335.91 122.18L336.18 121L336.44 119.73L336.7 118.4L336.96 117.07L337.23 115.8L337.49 114.62L337.75 113.59L338.01 112.75L338.28 112.12L338.54 111.73L338.8 111.6L339.06 111.74L339.32 112.14L339.58 112.79L339.84 113.67L340.1 114.72L340.36 115.92L340.62 117.2L340.88 118.5L341.14 119.78L341.4 120.97L341.66 122.03L341.92 122.91L342.18 123.56L342.44 123.96L342.7 124.1L342.96 123.99L343.22 123.67L343.49 123.15L343.75 122.44L344.01 121.58L344.27 120.6L344.54 119.54L344.8 118.43L345.06 117.33L345.32 116.27L345.59 115.29L345.85 114.43L346.11 113.72L346.38 113.2L346.64 112.88L346.9 112.77L347.16 112.87L347.42 113.17L347.68 113.66L347.94 114.31L348.2 115.11L348.45 116.02L348.71 117.01L348.97 118.04L349.23 119.07L349.49 120.06L349.75 120.97L350.01 121.77L350.27 122.43L350.53 122.91L350.79 123.21L351.04 123.31L351.3 123.21L351.56 122.9L351.82 122.4L352.08 121.72L352.34 120.9L352.6 119.96L352.86 118.94L353.12 117.88L353.38 116.82L353.64 115.8L353.89 114.86L354.15 114.04L354.41 113.36L354.67 112.86L354.93 112.55L355.19 112.44L355.45 112.55L355.71 112.87L355.97 113.39L356.23 114.08L356.49 114.93L356.74 115.89L357 116.94L357.26 118.03L357.52 119.12L357.78 120.17L358.04 121.14L358.3 121.98L358.56 122.68L358.82 123.2L359.08 123.51L359.33 123.62L359.59 123.51L359.85 123.18L360.11 122.64L360.37 121.91L360.63 121.03L360.89 120.02L361.15 118.93L361.41 117.79L361.67 116.66L361.93 115.56L362.18 114.55L362.44 113.67L362.7 112.95L362.96 112.41L363.22 112.08L363.48 111.96L363.74 112.08L364 112.43L364.26 112.98L364.52 113.74L364.78 114.66L365.03 115.7L365.29 116.84L365.55 118.02L365.81 119.2L366.07 120.34L366.33 121.38L366.59 122.3L366.85 123.05L367.11 123.61L367.37 123.96L367.62 124.07L367.88 123.95L368.14 123.59L368.4 123L368.66 122.22L368.92 121.26L369.18 120.16L369.44 118.97L369.7 117.73L369.96 116.5L370.22 115.31L370.47 114.21L370.73 113.25L370.99 112.47L371.25 111.88L371.51 111.52L371.77 111.4L372.03 111.52L372.29 111.9L372.55 112.51L372.81 113.33L373.07 114.33L373.32 115.47L373.58 116.71L373.84 118L374.1 119.29L374.36 120.53L374.62 121.67L374.88 122.67L375.14 123.49L375.4 124.1L375.66 124.48L375.92 124.61L376.17 124.47L376.43 124.08L376.69 123.45L376.95 122.6L377.21 121.56L377.47 120.37L377.73 119.08L377.99 117.74L378.25 116.4L378.51 115.11L378.76 113.93L379.02 112.89L379.28 112.03L379.54 111.4L379.8 111.01L380.06 110.87L380.32 111.01L380.58 111.42L380.84 112.07L381.1 112.96L381.36 114.04L381.61 115.26L381.87 116.6L382.13 117.99L382.39 119.37L382.65 120.71L382.91 121.94L383.17 123.02L383.43 123.9L383.69 124.56L383.95 124.96L384.21 125.1L384.46 124.96L384.72 124.55L384.98 123.87L385.24 122.97L385.5 121.87L385.76 120.61L386.02 119.25L386.28 117.83L386.54 116.41L386.8 115.05L387.05 113.79L387.31 112.69L387.57 111.78L387.83 111.11L388.09 110.7L388.35 110.56L388.61 110.7L388.87 111.12L389.13 111.81L389.39 112.73L389.65 113.85L389.9 115.14L390.16 116.53L390.42 117.98L390.68 119.43L390.94 120.82L391.2 122.1L391.46 123.22L391.72 124.15L391.98 124.83L392.24 125.26L392.5 125.4L392.75 125.26L393.01 124.83L393.27 124.15L393.53 123.23L393.79 122.1L394.05 120.82L394.31 119.43L394.57 117.98L394.83 116.54L395.09 115.14L395.34 113.86L395.6 112.74L395.86 111.82L396.12 111.13L396.38 110.71L396.64 110.57L396.9 110.71L397.16 111.13L397.42 111.81L397.68 112.74L397.94 113.86L398.19 115.14L398.45 116.53L398.71 117.98L398.97 119.42L399.23 120.81L399.49 122.1L399.75 123.22L400.01 124.14L400.27 124.83L400.53 125.25L400.79 125.39L401.04 125.25L401.3 124.84L401.56 124.17L401.82 123.27L402.08 122.18L402.34 120.93L402.6 119.57L402.86 118.16L403.12 116.75L403.38 115.39L403.63 114.14L403.89 113.04L404.15 112.15L404.41 111.48L404.67 111.07L404.93 110.93L405.19 111.06L405.45 111.46L405.71 112.12L405.97 112.99L406.23 114.06L406.48 115.29L406.74 116.61L407 117.99L407.26 119.37L407.52 120.69L407.78 121.91L408.04 122.98L408.3 123.86L408.56 124.51L408.82 124.91L409.08 125.05L409.33 124.92L409.59 124.54L409.85 123.91L410.11 123.07L410.37 122.05L410.63 120.88L410.89 119.62L411.15 118.3L411.41 116.99L411.67 115.72L411.92 114.55L412.18 113.53L412.44 112.69L412.7 112.07L412.96 111.68L413.22 111.55L413.48 111.68L413.74 112.05L414 112.64L414.26 113.44L414.52 114.42L414.77 115.54L415.03 116.75L415.29 118.01L415.55 119.27L415.81 120.48L416.07 121.59L416.33 122.57L416.59 123.37L416.85 123.97L417.11 124.33L417.37 124.46L417.62 124.34L417.88 124L418.14 123.43L418.4 122.68L418.66 121.76L418.92 120.7L419.18 119.56L419.44 118.38L419.7 117.19L419.96 116.05L420.21 115L420.47 114.08L420.73 113.32L420.99 112.76L421.25 112.41L421.51 112.3L421.77 112.41L422.03 112.73L422.29 113.26L422.55 113.98L422.81 114.84L423.06 115.83L423.32 116.91L423.58 118.03L423.84 119.15L424.1 120.22L424.36 121.21L424.62 122.08L424.88 122.79L425.14 123.32L425.4 123.65L425.66 123.76L425.91 123.66L426.17 123.35L426.43 122.85L426.69 122.18L426.95 121.37L427.21 120.44L427.47 119.43L427.73 118.38L427.99 117.33L428.25 116.32L428.5 115.39L428.76 114.58L429.02 113.91L429.28 113.41L429.54 113.1L429.8 113L430.06 113.1L430.32 113.39L430.58 113.85L430.84 114.48L431.1 115.24L431.35 116.12L431.61 117.06L431.87 118.05L432.13 119.03L432.39 119.98L432.65 120.85L432.91 121.62L433.17 122.25L433.43 122.71L433.69 123L433.95 123.1L434.2 123.01L434.46 122.75L434.72 122.34L434.98 121.78L435.24 121.1L435.5 120.32L435.76 119.48L436.02 118.6L436.28 117.72L436.54 116.88L436.79 116.1L437.05 115.42L437.31 114.86L437.57 114.45L437.83 114.19L438.09 114.1L438.35 114.18L438.61 114.41L438.87 114.77L439.13 115.27L439.39 115.87L439.64 116.56L439.9 117.3L440.16 118.08L440.42 118.86L440.68 119.6L440.94 120.29L441.2 120.89L441.46 121.39L441.72 121.76L441.98 121.98L442.24 122.06L442.49 121.98L442.75 121.76L443.01 121.39L443.27 120.9L443.53 120.3L443.79 119.62L444.05 118.88L444.31 118.11L444.57 117.33L444.83 116.59L445.08 115.91L445.34 115.31L445.6 114.82L445.86 114.45L446.12 114.23L446.38 114.15L446.64 114.23L446.9 114.45L447.16 114.82L447.42 115.3L447.68 115.9L447.93 116.58L448.19 117.32L448.45 118.08L448.71 118.85L448.97 119.59L449.23 120.26L449.49 120.86L449.75 121.35L450.01 121.71L450.27 121.94L450.53 122.01L450.78 121.94L451.04 121.71L451.3 121.35L451.56 120.87L451.82 120.28L452.08 119.6L452.34 118.87L452.6 118.11L452.86 117.35L453.12 116.61L453.37 115.94L453.63 115.35L453.89 114.86L454.15 114.5L454.41 114.28L454.67 114.2L454.93 114.28L455.19 114.5L455.45 114.86L455.71 115.34L455.97 115.93L456.22 116.6L456.48 117.33L456.74 118.08L457 118.84L457.26 119.57L457.52 120.24L457.78 120.83L458.04 121.31L458.3 121.67L458.56 121.89L458.82 121.96L459.07 121.89L459.33 121.67L459.59 121.31L459.85 120.84L460.11 120.25L460.37 119.58L460.63 118.86L460.89 118.11L461.15 117.36L461.41 116.63L461.66 115.97L461.92 115.38L462.18 114.9L462.44 114.54L462.7 114.33L462.96 114.25L463.22 114.32L463.48 114.54L463.74 114.9L464 115.37L464.26 115.95L464.51 116.62L464.77 117.34L465.03 118.08L465.29 118.83L465.55 119.55L465.81 120.22L466.07 120.8L466.33 121.27L466.59 121.63L466.85 121.85L467.11 121.92L467.36 121.85L467.62 121.63L467.88 121.28L468.14 120.8L468.4 120.23L468.66 119.57L468.92 118.85L469.18 118.11L469.44 117.37L469.7 116.65L469.95 115.99L470.21 115.41L470.47 114.94L470.73 114.59L470.99 114.37L471.25 114.3L471.51 114.37L471.77 114.59L472.03 114.94L472.29 115.41L472.55 115.98L472.8 116.64L473.06 117.35L473.32 118.09L473.58 118.83L473.84 119.54L474.1 120.19L474.36 120.76L474.62 121.24L474.88 121.59L475.14 121.8L475.4 121.87L475.65 121.8L475.91 121.59L476.17 121.24L476.43 120.77L476.69 120.2L476.95 119.55L477.21 118.84L477.47 118.11L477.73 117.38L477.99 116.67L478.24 116.02L478.5 115.45L478.76 114.98L479.02 114.63L479.28 114.42L479.54 114.35L479.8 114.42L480.06 114.63L480.32 114.98L480.58 115.44L480.84 116.01L481.09 116.66L481.35 117.36L481.61 118.09L481.87 118.82L482.13 119.52L482.39 120.17L482.65 120.73L482.91 121.2L483.17 121.54L483.43 121.76L483.69 121.83L483.94 121.76L484.2 121.55L484.46 121.2L484.72 120.74L484.98 120.18L485.24 119.53L485.5 118.84L485.76 118.11L486.02 117.39L486.28 116.69L486.53 116.05L486.79 115.48L487.05 115.02L487.31 114.68L487.57 114.46L487.83 114.39L488.09 114.46L488.35 114.67L488.61 115.02L488.87 115.48L489.13 116.04L489.38 116.67L489.64 117.37L489.9 118.09L490.16 118.81L490.42 119.5L490.68 120.14L490.94 120.7L491.2 121.16L491.46 121.5L491.72 121.71L491.98 121.78L492.23 121.71L492.49 121.51L492.75 121.17L493.01 120.71L493.27 120.15L493.53 119.52L493.79 118.83L494.05 118.11L494.31 117.4L494.57 116.71L494.82 116.07L495.08 115.52L495.34 115.06L495.6 114.72L495.86 114.51L496.12 114.44L496.38 114.51L496.64 114.72L496.9 115.05L497.16 115.51L497.42 116.06L497.67 116.69L497.93 117.38L498.19 118.09L498.45 118.8L498.71 119.49L498.97 120.12L499.23 120.67L499.49 121.13L499.75 121.46L500.01 121.67L500.27 121.74L500.52 121.67L500.78 121.47L501.04 121.13L501.3 120.68L501.56 120.13L501.82 119.5L502.08 118.82L502.34 118.11L502.6 117.41L502.86 116.72L503.11 116.1L503.37 115.55L503.63 115.1L503.89 114.76L504.15 114.56L504.41 114.49L504.67 114.55L504.93 114.76L505.19 115.09L505.45 115.54L505.71 116.09L505.96 116.71L506.22 117.39L506.48 118.09L506.74 118.8L507 119.47L507.26 120.1L507.52 120.64L507.78 121.09L508.04 121.42L508.3 121.63L508.56 121.7L508.81 121.63L509.07 121.43L509.33 121.09L509.59 120.65L509.85 120.11L510.11 119.49L510.37 118.81L510.63 118.11L510.89 117.42L511.15 116.74L511.4 116.12L511.66 115.58L511.92 115.13L512.18 114.8L512.44 114.6L512.7 114.53L512.96 114.6L513.22 114.8L513.48 115.13L513.74 115.57L514 116.11L514.25 116.73L514.51 117.4L514.77 118.09L515.03 118.79L515.29 119.46L515.55 120.07L515.81 120.61L516.07 121.06L516.33 121.38L516.59 121.59L516.85 121.66L517.1 121.59L517.36 121.39L517.62 121.06L517.88 120.62L518.14 120.08L518.4 119.47L518.66 118.81L518.92 118.12L519.18 117.42L519.44 116.76L519.69 116.15L519.95 115.61L520.21 115.17L520.47 114.84L520.73 114.64L520.99 114.58L521.27 114.74L521.55 115.17L521.84 115.7L522.12 116.14L522.4 116.3" stroke="#f00000" stroke-width="1.05" fill="none" stroke-linejoin="round"/>
<g font-family='"Liberation Sans", sans-serif' fill="#000">
<text x="307.5" y="13.8" font-size="16">(</text><text x="319" y="13.8" font-size="16">b</text><text x="332.5" y="13.8" font-size="16">)</text>
<text x="414.5" y="19.5" font-size="10.5">n = 1.5 ( x 10</text>
<text x="479.5" y="14.5" font-size="7.5">18</text>
<text x="488" y="19.5" font-size="10.5">cm</text>
<text x="503" y="14.5" font-size="7.5">−3</text>
<text x="514" y="19.5" font-size="10.5">)</text>
<text x="414.5" y="99.5" font-size="10.5">n = 2.5 ( x 10</text>
<text x="479.5" y="94.5" font-size="7.5">18</text>
<text x="488" y="99.5" font-size="10.5">cm</text>
<text x="503" y="94.5" font-size="7.5">−3</text>
<text x="514" y="99.5" font-size="10.5">)</text>
<text x="405" y="168" font-size="11" text-anchor="middle">time (fs)</text>
<text transform="translate(262.3 116.6) rotate(-90)" font-size="11.5" textLength="32" lengthAdjust="spacingAndGlyphs">ΔR / R</text>
<text transform="translate(261.8 80) rotate(-90)" font-size="10" textLength="55" lengthAdjust="spacingAndGlyphs">(arb. units)</text>
</g>
<path d="M101.7 221.3L221.4 221.3L218.8 297.0L106.3 297.0Z" fill="#dbccbe"/>
<g stroke="#4f453f" stroke-width="1.05" fill="none" opacity="0.9">
<path d="M116.0 221.3L116.7 297.0"/>
<path d="M130.9 221.3L131.4 297.0"/>
<path d="M145.9 221.3L146.1 297.0"/>
<path d="M160.8 221.3L160.9 297.0"/>
<path d="M175.8 221.3L175.6 297.0"/>
<path d="M190.8 221.3L190.3 297.0"/>
<path d="M205.7 221.3L205.1 297.0"/>
<path d="M103.1 244.4H220.6"/>
<path d="M104.9 273.2H219.6"/>
</g>
<path d="M101.2 221.3L221.70000000000002 221.3L219.4 289.0" stroke="#141414" stroke-width="1.7" fill="none" stroke-linejoin="miter"/>
<path d="M101.7 220.0H221.4" stroke="#222" stroke-width="1.4" stroke-dasharray="0.8 2.2" fill="none"/>
<path d="M222.6 221.3L220.4 289.0" stroke="#222" stroke-width="1.4" stroke-dasharray="0.8 2.6" fill="none"/>
<g clip-path="url(#clipL)"><g shape-rendering="crispEdges"><rect x="99" y="470" width="1" height="17" fill="url(#L99)"/>
<rect x="100" y="442" width="1" height="45" fill="url(#L100)"/>
<rect x="101" y="414" width="1" height="73" fill="url(#L101)"/>
<rect x="102" y="386" width="1" height="101" fill="url(#L102)"/>
<rect x="103" y="358" width="1" height="129" fill="url(#L103)"/>
<rect x="104" y="329" width="1" height="158" fill="url(#L104)"/>
<rect x="105" y="302" width="1" height="185" fill="url(#L105)"/>
<rect x="106" y="295" width="1" height="192" fill="url(#L106)"/>
<rect x="107" y="294" width="1" height="193" fill="url(#L107)"/>
<rect x="108" y="293" width="1" height="194" fill="url(#L108)"/>
<rect x="109" y="291" width="1" height="196" fill="url(#L109)"/>
<rect x="110" y="289" width="1" height="198" fill="url(#L110)"/>
<rect x="111" y="288" width="1" height="199" fill="url(#L111)"/>
<rect x="112" y="286" width="1" height="201" fill="url(#L112)"/>
<rect x="113" y="285" width="1" height="202" fill="url(#L113)"/>
<rect x="114" y="285" width="1" height="202" fill="url(#L114)"/>
<rect x="115" y="284" width="1" height="203" fill="url(#L115)"/>
<rect x="116" y="284" width="1" height="203" fill="url(#L116)"/>
<rect x="117" y="284" width="1" height="203" fill="url(#L117)"/>
<rect x="118" y="283" width="1" height="204" fill="url(#L118)"/>
<rect x="119" y="283" width="1" height="204" fill="url(#L119)"/>
<rect x="120" y="282" width="1" height="205" fill="url(#L120)"/>
<rect x="121" y="280" width="1" height="207" fill="url(#L121)"/>
<rect x="122" y="266" width="1" height="221" fill="url(#L122)"/>
<rect x="123" y="241" width="1" height="246" fill="url(#L123)"/>
<rect x="124" y="232" width="1" height="255" fill="url(#L124)"/>
<rect x="125" y="230" width="1" height="257" fill="url(#L125)"/>
<rect x="126" y="230" width="1" height="257" fill="url(#L126)"/>
<rect x="127" y="232" width="1" height="255" fill="url(#L127)"/>
<rect x="128" y="235" width="1" height="252" fill="url(#L128)"/>
<rect x="129" y="241" width="1" height="246" fill="url(#L129)"/>
<rect x="130" y="248" width="1" height="239" fill="url(#L130)"/>
<rect x="131" y="247" width="1" height="240" fill="url(#L131)"/>
<rect x="132" y="246" width="1" height="241" fill="url(#L132)"/>
<rect x="133" y="245" width="1" height="242" fill="url(#L133)"/>
<rect x="134" y="244" width="1" height="243" fill="url(#L134)"/>
<rect x="135" y="243" width="1" height="244" fill="url(#L135)"/>
<rect x="136" y="242" width="1" height="245" fill="url(#L136)"/>
<rect x="137" y="241" width="1" height="246" fill="url(#L137)"/>
<rect x="138" y="240" width="1" height="247" fill="url(#L138)"/>
<rect x="139" y="239" width="1" height="248" fill="url(#L139)"/>
<rect x="140" y="238" width="1" height="249" fill="url(#L140)"/>
<rect x="141" y="238" width="1" height="249" fill="url(#L141)"/>
<rect x="142" y="238" width="1" height="249" fill="url(#L142)"/>
<rect x="143" y="238" width="1" height="249" fill="url(#L143)"/>
<rect x="144" y="238" width="1" height="249" fill="url(#L144)"/>
<rect x="145" y="239" width="1" height="248" fill="url(#L145)"/>
<rect x="146" y="239" width="1" height="248" fill="url(#L146)"/>
<rect x="147" y="241" width="1" height="246" fill="url(#L147)"/>
<rect x="148" y="242" width="1" height="245" fill="url(#L148)"/>
<rect x="149" y="243" width="1" height="244" fill="url(#L149)"/>
<rect x="150" y="244" width="1" height="243" fill="url(#L150)"/>
<rect x="151" y="245" width="1" height="242" fill="url(#L151)"/>
<rect x="152" y="246" width="1" height="241" fill="url(#L152)"/>
<rect x="153" y="247" width="1" height="240" fill="url(#L153)"/>
<rect x="154" y="248" width="1" height="239" fill="url(#L154)"/>
<rect x="155" y="250" width="1" height="237" fill="url(#L155)"/>
<rect x="156" y="251" width="1" height="236" fill="url(#L156)"/>
<rect x="157" y="252" width="1" height="235" fill="url(#L157)"/>
<rect x="158" y="254" width="1" height="233" fill="url(#L158)"/>
<rect x="159" y="255" width="1" height="232" fill="url(#L159)"/>
<rect x="160" y="257" width="1" height="230" fill="url(#L160)"/>
<rect x="161" y="258" width="1" height="229" fill="url(#L161)"/>
<rect x="162" y="260" width="1" height="227" fill="url(#L162)"/>
<rect x="163" y="261" width="1" height="226" fill="url(#L163)"/>
<rect x="164" y="262" width="1" height="225" fill="url(#L164)"/>
<rect x="165" y="263" width="1" height="224" fill="url(#L165)"/>
<rect x="166" y="264" width="1" height="223" fill="url(#L166)"/>
<rect x="167" y="265" width="1" height="222" fill="url(#L167)"/>
<rect x="168" y="266" width="1" height="221" fill="url(#L168)"/>
<rect x="169" y="267" width="1" height="220" fill="url(#L169)"/>
<rect x="170" y="268" width="1" height="219" fill="url(#L170)"/>
<rect x="171" y="268" width="1" height="219" fill="url(#L171)"/>
<rect x="172" y="269" width="1" height="218" fill="url(#L172)"/>
<rect x="173" y="270" width="1" height="217" fill="url(#L173)"/>
<rect x="174" y="271" width="1" height="216" fill="url(#L174)"/>
<rect x="175" y="272" width="1" height="215" fill="url(#L175)"/>
<rect x="176" y="272" width="1" height="215" fill="url(#L176)"/>
<rect x="177" y="273" width="1" height="214" fill="url(#L177)"/>
<rect x="178" y="273" width="1" height="214" fill="url(#L178)"/>
<rect x="179" y="273" width="1" height="214" fill="url(#L179)"/>
<rect x="180" y="274" width="1" height="213" fill="url(#L180)"/>
<rect x="181" y="274" width="1" height="213" fill="url(#L181)"/>
<rect x="182" y="274" width="1" height="213" fill="url(#L182)"/>
<rect x="183" y="275" width="1" height="212" fill="url(#L183)"/>
<rect x="184" y="275" width="1" height="212" fill="url(#L184)"/>
<rect x="185" y="275" width="1" height="212" fill="url(#L185)"/>
<rect x="186" y="276" width="1" height="211" fill="url(#L186)"/>
<rect x="187" y="276" width="1" height="211" fill="url(#L187)"/>
<rect x="188" y="276" width="1" height="211" fill="url(#L188)"/>
<rect x="189" y="277" width="1" height="210" fill="url(#L189)"/>
<rect x="190" y="277" width="1" height="210" fill="url(#L190)"/>
<rect x="191" y="277" width="1" height="210" fill="url(#L191)"/>
<rect x="192" y="277" width="1" height="210" fill="url(#L192)"/>
<rect x="193" y="278" width="1" height="209" fill="url(#L193)"/>
<rect x="194" y="278" width="1" height="209" fill="url(#L194)"/>
<rect x="195" y="278" width="1" height="209" fill="url(#L195)"/>
<rect x="196" y="278" width="1" height="209" fill="url(#L196)"/>
<rect x="197" y="279" width="1" height="208" fill="url(#L197)"/>
<rect x="198" y="279" width="1" height="208" fill="url(#L198)"/>
<rect x="199" y="279" width="1" height="208" fill="url(#L199)"/>
<rect x="200" y="279" width="1" height="208" fill="url(#L200)"/>
<rect x="201" y="280" width="1" height="207" fill="url(#L201)"/>
<rect x="202" y="280" width="1" height="207" fill="url(#L202)"/>
<rect x="203" y="280" width="1" height="207" fill="url(#L203)"/>
<rect x="204" y="280" width="1" height="207" fill="url(#L204)"/>
<rect x="205" y="281" width="1" height="206" fill="url(#L205)"/>
<rect x="206" y="281" width="1" height="206" fill="url(#L206)"/>
<rect x="207" y="281" width="1" height="206" fill="url(#L207)"/>
<rect x="208" y="281" width="1" height="206" fill="url(#L208)"/>
<rect x="209" y="281" width="1" height="206" fill="url(#L209)"/>
<rect x="210" y="282" width="1" height="205" fill="url(#L210)"/>
<rect x="211" y="282" width="1" height="205" fill="url(#L211)"/>
<rect x="212" y="282" width="1" height="205" fill="url(#L212)"/>
<rect x="213" y="282" width="1" height="205" fill="url(#L213)"/>
<rect x="214" y="282" width="1" height="205" fill="url(#L214)"/>
<rect x="215" y="283" width="1" height="204" fill="url(#L215)"/>
<rect x="216" y="283" width="1" height="204" fill="url(#L216)"/>
<rect x="217" y="283" width="1" height="204" fill="url(#L217)"/>
<rect x="218" y="283" width="1" height="204" fill="url(#L218)"/>
<rect x="219" y="283" width="1" height="204" fill="url(#L219)"/>
<rect x="220" y="324" width="1" height="163" fill="url(#L220)"/>
<rect x="221" y="360" width="1" height="127" fill="url(#L221)"/>
<rect x="222" y="392" width="1" height="95" fill="url(#L222)"/>
<rect x="223" y="426" width="1" height="61" fill="url(#L223)"/>
<rect x="224" y="459" width="1" height="28" fill="url(#L224)"/></g></g><path d="M99.8 484.2L101.2 483.07L102.6 482.72L106.8 482.21L111 481.53L113.8 480.93L115.2 480.4L116.6 479.13L118 477.51L120.8 474.78L122.2 473.8L123.6 473.24L125 473.44L126.4 474.11L129.2 476.04L130.6 476.83L133.4 478.24L136.2 479.32L139 480.2L141.8 480.83L148.8 481.84L160 482.75L171.2 483.2L197.8 483.72L224.4 484L224.4 484.7L99.8 484.7Z" fill="#ebe0cd"/><path d="M99.8 484.2L101.2 483.07L102.6 482.72L106.8 482.21L111 481.53L113.8 480.93L115.2 480.4L116.6 479.13L118 477.51L120.8 474.78L122.2 473.8L123.6 473.24L125 473.44L126.4 474.11L129.2 476.04L130.6 476.83L133.4 478.24L136.2 479.32L139 480.2L141.8 480.83L148.8 481.84L160 482.75L171.2 483.2L197.8 483.72L224.4 484" fill="none" stroke="#f3b8f0" stroke-width="0.8"/>
<path d="M101.6 221L101.6 225.5L101.5 229.9L101.4 234.4L101.3 238.9L101.1 243.3L100.9 247.8L100.8 252.3L100.6 256.7L100.3 261.2L99.9 265.7L99.7 270.1L99.6 274.6L99.5 279.1L99.4 283.5L99.4 288L99.3 292.5L99.3 297L99.2 301.4L99.1 305.9L98.9 310.4L98.8 314.8L98.7 319.3L98.5 323.8L98.4 328.2L98.2 332.7L97.9 337.2L97.6 341.6L97.5 346.1L97.3 350.6L97.2 355L97.1 359.5L97 364L96.9 368.4L96.9 372.9L96.8 377.4L96.7 381.8L96.6 386.3L96.6 390.8L96.5 395.2L96.4 399.7L96.3 404.2L96.2 408.6L96.1 413.1L96 417.6L96 422.1L96.1 426.5L96.2 431L96.4 435.5L96.7 439.9L96.9 444.4L97.1 448.9L97.3 453.3L97.6 457.8L97.9 462.3L98.2 466.7L98.5 471.2L98.9 475.7L99.2 480.1L99.6 484.6L100.1 484.6L100.3 480.1L100.5 475.7L100.6 471.2L100.8 466.7L100.9 462.3L101.1 457.8L101.3 453.3L101.4 448.9L101.6 444.4L101.7 439.9L101.9 435.5L102.1 431L102.2 426.5L102.4 422.1L102.5 417.6L102.7 413.1L102.9 408.6L103 404.2L103.2 399.7L103.3 395.2L103.5 390.8L103.6 386.3L103.8 381.8L104 377.4L104.1 372.9L104.3 368.4L104.4 364L104.6 359.5L104.8 355L104.9 350.6L105.1 346.1L105.2 341.6L105.4 337.2L105.6 332.7L105.7 328.2L105.9 323.8L106 319.3L106.2 314.8L106.4 310.4L106.5 305.9L106.7 301.4L106.8 297L106.8 292.5L106.8 288L106.7 283.5L106.6 279.1L106.5 274.6L106.3 270.1L106 265.7L105.5 261.2L105.1 256.7L104.7 252.3L104.3 247.8L104 243.3L103.7 238.9L103.5 234.4L103.3 229.9L103.2 225.5L103.1 221Z" fill="#444"/>
<path d="M102.3 221L102.3 225.5L102.2 229.9L102.1 234.4L102 238.9L101.8 243.3L101.6 247.8L101.5 252.3L101.3 256.7L101 261.2L100.6 265.7L100.4 270.1L100.3 274.6L100.2 279.1L100.1 283.5L100.1 288L100 292.5L100 297L99.9 301.4L99.8 305.9L99.6 310.4L99.5 314.8L99.4 319.3L99.2 323.8L99.1 328.2L98.9 332.7L98.6 337.2L98.3 341.6L98.2 346.1L98 350.6L97.9 355L97.8 359.5L97.7 364L97.6 368.4L97.6 372.9L97.5 377.4L97.4 381.8L97.3 386.3L97.3 390.8L97.2 395.2L97.1 399.7L97 404.2L96.9 408.6L96.8 413.1L96.7 417.6L96.7 422.1L96.8 426.5L96.9 431L97.1 435.5L97.4 439.9L97.6 444.4L97.8 448.9L98 453.3L98.3 457.8L98.6 462.3L98.9 466.7L99.2 471.2L99.6 475.7L99.9 480.1L100.3 484.6" stroke="#0c0c0c" stroke-width="1.8" fill="none"/>
<path d="M99.8 484.6L100 480.1L100.2 475.7L100.3 471.2L100.5 466.7L100.6 462.3L100.8 457.8L101 453.3L101.1 448.9L101.3 444.4L101.4 439.9L101.6 435.5L101.8 431L101.9 426.5L102.1 422.1L102.2 417.6L102.4 413.1L102.6 408.6L102.7 404.2L102.9 399.7L103 395.2L103.2 390.8L103.3 386.3L103.5 381.8L103.7 377.4L103.8 372.9L104 368.4L104.1 364L104.3 359.5L104.5 355L104.6 350.6L104.8 346.1L104.9 341.6L105.1 337.2L105.3 332.7L105.4 328.2L105.6 323.8L105.7 319.3L105.9 314.8L106.1 310.4L106.2 305.9L106.4 301.4L106.5 297L106.5 292.5L106.5 288L106.4 283.5L106.3 279.1L106.2 274.6L106 270.1L105.7 265.7L105.2 261.2L104.8 256.7L104.4 252.3L104 247.8L103.7 243.3L103.4 238.9L103.2 234.4L103 229.9L102.9 225.5L102.8 221" stroke="#222" stroke-width="0.7" fill="none"/>
<path d="M100.3 221L100.3 225.5L100.2 229.9L100.1 234.4L100 238.9L99.8 243.3L99.6 247.8L99.5 252.3L99.3 256.7L99 261.2L98.6 265.7L98.4 270.1L98.3 274.6L98.2 279.1L98.1 283.5L98.1 288L98 292.5L98 297L97.9 301.4L97.8 305.9L97.6 310.4L97.5 314.8L97.4 319.3L97.2 323.8L97.1 328.2L96.9 332.7L96.6 337.2L96.3 341.6L96.2 346.1L96 350.6L95.9 355L95.8 359.5L95.7 364L95.6 368.4L95.6 372.9L95.5 377.4L95.4 381.8L95.3 386.3L95.3 390.8L95.2 395.2L95.1 399.7L95 404.2L94.9 408.6L94.8 413.1L94.7 417.6L94.7 422.1L94.8 426.5L94.9 431L95.1 435.5L95.4 439.9L95.6 444.4L95.8 448.9L96 453.3L96.3 457.8L96.6 462.3L96.9 466.7L97.2 471.2L97.6 475.7L97.9 480.1L98.3 484.6" stroke="#222" stroke-width="1.2" stroke-dasharray="0.8 3.2" fill="none"/>
<path d="M98.8 484.8H225.1" stroke="#111" stroke-width="1.5" fill="none"/>
<path d="M99.8 486.40000000000003H223.1" stroke="#111" stroke-width="2.2" stroke-dasharray="0.9 2.170" fill="none"/>
<path d="M115.1 484.8V490.2" stroke="#111" stroke-width="1.3"/>
<path d="M130.5 484.8V490.2" stroke="#111" stroke-width="1.3"/>
<path d="M145.8 484.8V490.2" stroke="#111" stroke-width="1.3"/>
<path d="M161.2 484.8V490.2" stroke="#111" stroke-width="1.3"/>
<path d="M176.6 484.8V490.2" stroke="#111" stroke-width="1.3"/>
<path d="M191.9 484.8V490.2" stroke="#111" stroke-width="1.3"/>
<path d="M207.2 484.8V490.2" stroke="#111" stroke-width="1.3"/>
<path d="M222.6 484.8V490.2" stroke="#111" stroke-width="1.3"/>
<path d="M216.9 288L222.9 484.6" stroke="#8a10c0" stroke-width="2.4" fill="none" opacity="0.45"/>
<path d="M218.3 288L224.3 484.6" stroke="#3c0c6a" stroke-width="1.2" fill="none"/>
<path d="M219.0 302h4.4" stroke="#111" stroke-width="1.3"/>
<path d="M219.8 329.7h4.4" stroke="#111" stroke-width="1.3"/>
<path d="M220.7 359.3h4.4" stroke="#111" stroke-width="1.3"/>
<path d="M221.6 388.4h4.4" stroke="#111" stroke-width="1.3"/>
<path d="M222.5 418.7h4.4" stroke="#111" stroke-width="1.3"/>
<path d="M223.5 451.4h4.4" stroke="#111" stroke-width="1.3"/>
<path d="M224.5 484.6h4.4" stroke="#111" stroke-width="1.3"/>
<g font-family='"Liberation Sans", sans-serif' font-weight="bold" font-size="9.9" fill="#111">
<text x="224.6" y="305.4">0</text>
<text x="225.4" y="333.1">500</text>
<text x="226.3" y="362.7">1000</text>
<text x="227.2" y="391.8">1500</text>
<text x="228.1" y="422.1">2000</text>
<text x="229.1" y="454.8">2500</text>
<text x="230.1" y="488.0">3000</text>
<text x="115.1" y="500.7" text-anchor="middle">5</text>
<text x="130.5" y="500.7" text-anchor="middle">10</text>
<text x="145.8" y="500.7" text-anchor="middle">15</text>
<text x="161.2" y="500.7" text-anchor="middle">20</text>
<text x="176.6" y="500.7" text-anchor="middle">25</text>
<text x="191.9" y="500.7" text-anchor="middle">30</text>
<text x="207.2" y="500.7" text-anchor="middle">35</text>
<text x="222.6" y="500.7" text-anchor="middle">40</text>
<text x="92.2" y="435.7" text-anchor="end">0.1</text>
<text x="92.2" y="462.9" text-anchor="end">0.05</text>
<text x="93.6" y="488.6" text-anchor="end">0</text>
</g>
<path d="M93.0 432.3h5" stroke="#111" stroke-width="1.3"/>
<path d="M93.0 459.5h5" stroke="#111" stroke-width="1.3"/>
<path d="M94.3 485.2h5" stroke="#111" stroke-width="1.3"/>
<rect x="141.3" y="413.2" width="78.5" height="38.6" fill="#fff"/>
<g font-family='"Liberation Sans", sans-serif' fill="#3c3c3c" font-size="11.5">
<text x="148.3" y="430" stroke="#3c3c3c" stroke-width="0.3">n = 1.5</text>
<text x="148.3" y="446.5" stroke="#3c3c3c" stroke-width="0.3">(x 10<tspan font-size="7.5" dy="-4" font-weight="bold">18</tspan><tspan dy="4">cm</tspan><tspan font-size="7.5" dy="-4" font-weight="bold">-3</tspan><tspan dy="4"> )</tspan></text>
</g>
<g font-family='"Liberation Sans", sans-serif' fill="#fff" font-size="29">
<text x="152.2" y="245.8" textLength="27" lengthAdjust="spacingAndGlyphs">L+</text>
<text x="142.2" y="392.2" textLength="22" lengthAdjust="spacingAndGlyphs">L-</text>
</g>
<g font-family='"Liberation Sans", sans-serif' font-weight="bold" fill="#111">
<text x="163.8" y="510.9" font-size="13.6" text-anchor="middle" textLength="97" lengthAdjust="spacingAndGlyphs">frequency (THz)</text>
<text transform="translate(61.8 422.8) rotate(-90)" font-size="13" text-anchor="middle" textLength="131" lengthAdjust="spacingAndGlyphs">intensity (arb. units)</text>
<text transform="translate(253.2 366.3) rotate(90)" font-size="14.5" text-anchor="middle" textLength="55" lengthAdjust="spacingAndGlyphs">time (fs)</text>
</g>
<path d="M356.9 221.3L476.6 221.3L474.0 297.0L361.5 297.0Z" fill="#dbccbe"/>
<g stroke="#4f453f" stroke-width="1.05" fill="none" opacity="0.9">
<path d="M371.2 221.3L371.9 297.0"/>
<path d="M386.1 221.3L386.6 297.0"/>
<path d="M401.1 221.3L401.3 297.0"/>
<path d="M416.1 221.3L416.1 297.0"/>
<path d="M431.0 221.3L430.8 297.0"/>
<path d="M446.0 221.3L445.5 297.0"/>
<path d="M460.9 221.3L460.3 297.0"/>
<path d="M357.5 231.9H476.2"/>
<path d="M358.9 255.0H475.4"/>
<path d="M360.4 278.3H474.6"/>
</g>
<path d="M356.4 221.3L476.90000000000003 221.3L474.6 289.0" stroke="#141414" stroke-width="1.7" fill="none" stroke-linejoin="miter"/>
<path d="M356.9 220.0H476.6" stroke="#222" stroke-width="1.4" stroke-dasharray="0.8 2.2" fill="none"/>
<path d="M477.8 221.3L475.6 289.0" stroke="#222" stroke-width="1.4" stroke-dasharray="0.8 2.6" fill="none"/>
<g clip-path="url(#clipR)"><g shape-rendering="crispEdges"><rect x="354" y="452" width="1" height="35" fill="url(#R354)"/>
<rect x="355" y="424" width="1" height="63" fill="url(#R355)"/>
<rect x="356" y="397" width="1" height="90" fill="url(#R356)"/>
<rect x="357" y="370" width="1" height="117" fill="url(#R357)"/>
<rect x="358" y="343" width="1" height="144" fill="url(#R358)"/>
<rect x="359" y="315" width="1" height="172" fill="url(#R359)"/>
<rect x="360" y="294" width="1" height="193" fill="url(#R360)"/>
<rect x="361" y="293" width="1" height="194" fill="url(#R361)"/>
<rect x="362" y="291" width="1" height="196" fill="url(#R362)"/>
<rect x="363" y="289" width="1" height="198" fill="url(#R363)"/>
<rect x="364" y="287" width="1" height="200" fill="url(#R364)"/>
<rect x="365" y="286" width="1" height="201" fill="url(#R365)"/>
<rect x="366" y="285" width="1" height="202" fill="url(#R366)"/>
<rect x="367" y="285" width="1" height="202" fill="url(#R367)"/>
<rect x="368" y="285" width="1" height="202" fill="url(#R368)"/>
<rect x="369" y="284" width="1" height="203" fill="url(#R369)"/>
<rect x="370" y="284" width="1" height="203" fill="url(#R370)"/>
<rect x="371" y="284" width="1" height="203" fill="url(#R371)"/>
<rect x="372" y="284" width="1" height="203" fill="url(#R372)"/>
<rect x="373" y="283" width="1" height="204" fill="url(#R373)"/>
<rect x="374" y="282" width="1" height="205" fill="url(#R374)"/>
<rect x="375" y="276" width="1" height="211" fill="url(#R375)"/>
<rect x="376" y="261" width="1" height="226" fill="url(#R376)"/>
<rect x="377" y="246" width="1" height="241" fill="url(#R377)"/>
<rect x="378" y="235" width="1" height="252" fill="url(#R378)"/>
<rect x="379" y="231" width="1" height="256" fill="url(#R379)"/>
<rect x="380" y="230" width="1" height="257" fill="url(#R380)"/>
<rect x="381" y="230" width="1" height="257" fill="url(#R381)"/>
<rect x="382" y="231" width="1" height="256" fill="url(#R382)"/>
<rect x="383" y="234" width="1" height="253" fill="url(#R383)"/>
<rect x="384" y="239" width="1" height="248" fill="url(#R384)"/>
<rect x="385" y="244" width="1" height="243" fill="url(#R385)"/>
<rect x="386" y="250" width="1" height="237" fill="url(#R386)"/>
<rect x="387" y="257" width="1" height="230" fill="url(#R387)"/>
<rect x="388" y="263" width="1" height="224" fill="url(#R388)"/>
<rect x="389" y="266" width="1" height="221" fill="url(#R389)"/>
<rect x="390" y="269" width="1" height="218" fill="url(#R390)"/>
<rect x="391" y="270" width="1" height="217" fill="url(#R391)"/>
<rect x="392" y="271" width="1" height="216" fill="url(#R392)"/>
<rect x="393" y="271" width="1" height="216" fill="url(#R393)"/>
<rect x="394" y="271" width="1" height="216" fill="url(#R394)"/>
<rect x="395" y="270" width="1" height="217" fill="url(#R395)"/>
<rect x="396" y="269" width="1" height="218" fill="url(#R396)"/>
<rect x="397" y="268" width="1" height="219" fill="url(#R397)"/>
<rect x="398" y="266" width="1" height="221" fill="url(#R398)"/>
<rect x="399" y="265" width="1" height="222" fill="url(#R399)"/>
<rect x="400" y="264" width="1" height="223" fill="url(#R400)"/>
<rect x="401" y="263" width="1" height="224" fill="url(#R401)"/>
<rect x="402" y="262" width="1" height="225" fill="url(#R402)"/>
<rect x="403" y="261" width="1" height="226" fill="url(#R403)"/>
<rect x="404" y="260" width="1" height="227" fill="url(#R404)"/>
<rect x="405" y="260" width="1" height="227" fill="url(#R405)"/>
<rect x="406" y="259" width="1" height="228" fill="url(#R406)"/>
<rect x="407" y="259" width="1" height="228" fill="url(#R407)"/>
<rect x="408" y="259" width="1" height="228" fill="url(#R408)"/>
<rect x="409" y="258" width="1" height="229" fill="url(#R409)"/>
<rect x="410" y="258" width="1" height="229" fill="url(#R410)"/>
<rect x="411" y="258" width="1" height="229" fill="url(#R411)"/>
<rect x="412" y="258" width="1" height="229" fill="url(#R412)"/>
<rect x="413" y="259" width="1" height="228" fill="url(#R413)"/>
<rect x="414" y="259" width="1" height="228" fill="url(#R414)"/>
<rect x="415" y="259" width="1" height="228" fill="url(#R415)"/>
<rect x="416" y="260" width="1" height="227" fill="url(#R416)"/>
<rect x="417" y="260" width="1" height="227" fill="url(#R417)"/>
<rect x="418" y="261" width="1" height="226" fill="url(#R418)"/>
<rect x="419" y="261" width="1" height="226" fill="url(#R419)"/>
<rect x="420" y="262" width="1" height="225" fill="url(#R420)"/>
<rect x="421" y="262" width="1" height="225" fill="url(#R421)"/>
<rect x="422" y="263" width="1" height="224" fill="url(#R422)"/>
<rect x="423" y="264" width="1" height="223" fill="url(#R423)"/>
<rect x="424" y="265" width="1" height="222" fill="url(#R424)"/>
<rect x="425" y="266" width="1" height="221" fill="url(#R425)"/>
<rect x="426" y="266" width="1" height="221" fill="url(#R426)"/>
<rect x="427" y="267" width="1" height="220" fill="url(#R427)"/>
<rect x="428" y="268" width="1" height="219" fill="url(#R428)"/>
<rect x="429" y="269" width="1" height="218" fill="url(#R429)"/>
<rect x="430" y="269" width="1" height="218" fill="url(#R430)"/>
<rect x="431" y="270" width="1" height="217" fill="url(#R431)"/>
<rect x="432" y="271" width="1" height="216" fill="url(#R432)"/>
<rect x="433" y="271" width="1" height="216" fill="url(#R433)"/>
<rect x="434" y="272" width="1" height="215" fill="url(#R434)"/>
<rect x="435" y="273" width="1" height="214" fill="url(#R435)"/>
<rect x="436" y="273" width="1" height="214" fill="url(#R436)"/>
<rect x="437" y="274" width="1" height="213" fill="url(#R437)"/>
<rect x="438" y="275" width="1" height="212" fill="url(#R438)"/>
<rect x="439" y="275" width="1" height="212" fill="url(#R439)"/>
<rect x="440" y="276" width="1" height="211" fill="url(#R440)"/>
<rect x="441" y="277" width="1" height="210" fill="url(#R441)"/>
<rect x="442" y="277" width="1" height="210" fill="url(#R442)"/>
<rect x="443" y="278" width="1" height="209" fill="url(#R443)"/>
<rect x="444" y="278" width="1" height="209" fill="url(#R444)"/>
<rect x="445" y="279" width="1" height="208" fill="url(#R445)"/>
<rect x="446" y="279" width="1" height="208" fill="url(#R446)"/>
<rect x="447" y="280" width="1" height="207" fill="url(#R447)"/>
<rect x="448" y="280" width="1" height="207" fill="url(#R448)"/>
<rect x="449" y="280" width="1" height="207" fill="url(#R449)"/>
<rect x="450" y="281" width="1" height="206" fill="url(#R450)"/>
<rect x="451" y="281" width="1" height="206" fill="url(#R451)"/>
<rect x="452" y="281" width="1" height="206" fill="url(#R452)"/>
<rect x="453" y="282" width="1" height="205" fill="url(#R453)"/>
<rect x="454" y="282" width="1" height="205" fill="url(#R454)"/>
<rect x="455" y="282" width="1" height="205" fill="url(#R455)"/>
<rect x="456" y="282" width="1" height="205" fill="url(#R456)"/>
<rect x="457" y="283" width="1" height="204" fill="url(#R457)"/>
<rect x="458" y="283" width="1" height="204" fill="url(#R458)"/>
<rect x="459" y="283" width="1" height="204" fill="url(#R459)"/>
<rect x="460" y="283" width="1" height="204" fill="url(#R460)"/>
<rect x="461" y="284" width="1" height="203" fill="url(#R461)"/>
<rect x="462" y="284" width="1" height="203" fill="url(#R462)"/>
<rect x="463" y="284" width="1" height="203" fill="url(#R463)"/>
<rect x="464" y="284" width="1" height="203" fill="url(#R464)"/>
<rect x="465" y="285" width="1" height="202" fill="url(#R465)"/>
<rect x="466" y="285" width="1" height="202" fill="url(#R466)"/>
<rect x="467" y="285" width="1" height="202" fill="url(#R467)"/>
<rect x="468" y="285" width="1" height="202" fill="url(#R468)"/>
<rect x="469" y="285" width="1" height="202" fill="url(#R469)"/>
<rect x="470" y="286" width="1" height="201" fill="url(#R470)"/>
<rect x="471" y="286" width="1" height="201" fill="url(#R471)"/>
<rect x="472" y="286" width="1" height="201" fill="url(#R472)"/>
<rect x="473" y="286" width="1" height="201" fill="url(#R473)"/>
<rect x="474" y="286" width="1" height="201" fill="url(#R474)"/>
<rect x="475" y="286" width="1" height="201" fill="url(#R475)"/>
<rect x="476" y="360" width="1" height="127" fill="url(#R476)"/>
<rect x="477" y="405" width="1" height="82" fill="url(#R477)"/>
<rect x="478" y="450" width="1" height="37" fill="url(#R478)"/></g></g><path d="M354.3 484.2L355.69 483.09L357.09 482.75L362.67 482.09L366.85 481.37L369.64 480.66L371.03 479.82L373.82 477.32L375.22 476.36L376.61 475.56L378 474.99L379.4 474.7L380.79 475.07L382.19 475.64L386.37 477.77L390.55 479.33L394.74 480.41L400.31 481.56L403.1 482.03L405.89 482.34L415.65 482.93L433.78 483.5L457.48 483.86L478.4 484L478.4 484.7L354.3 484.7Z" fill="#ebe0cd"/><path d="M354.3 484.2L355.69 483.09L357.09 482.75L362.67 482.09L366.85 481.37L369.64 480.66L371.03 479.82L373.82 477.32L375.22 476.36L376.61 475.56L378 474.99L379.4 474.7L380.79 475.07L382.19 475.64L386.37 477.77L390.55 479.33L394.74 480.41L400.31 481.56L403.1 482.03L405.89 482.34L415.65 482.93L433.78 483.5L457.48 483.86L478.4 484" fill="none" stroke="#f3b8f0" stroke-width="0.8"/>
<path d="M356.2 221L356.2 225.5L356.1 229.9L356 234.4L355.9 238.9L355.7 243.3L355.5 247.8L355.4 252.3L355.2 256.7L354.9 261.2L354.5 265.7L354.3 270.1L354.2 274.6L354.1 279.1L354 283.5L354 288L353.9 292.5L353.9 297L353.8 301.4L353.7 305.9L353.5 310.4L353.4 314.8L353.3 319.3L353.1 323.8L353 328.2L352.8 332.7L352.5 337.2L352.2 341.6L352.1 346.1L351.9 350.6L351.8 355L351.7 359.5L351.6 364L351.5 368.4L351.5 372.9L351.4 377.4L351.3 381.8L351.2 386.3L351.2 390.8L351.1 395.2L351 399.7L350.9 404.2L350.8 408.6L350.7 413.1L350.6 417.6L350.6 422.1L350.7 426.5L350.8 431L351 435.5L351.3 439.9L351.5 444.4L351.7 448.9L351.9 453.3L352.2 457.8L352.5 462.3L352.8 466.7L353.1 471.2L353.5 475.7L353.8 480.1L354.2 484.6L354.4 484.6L354.6 480.1L354.8 475.7L354.9 471.2L355.1 466.7L355.3 462.3L355.4 457.8L355.6 453.3L355.8 448.9L355.9 444.4L356.1 439.9L356.2 435.5L356.4 431L356.6 426.5L356.7 422.1L356.9 417.6L357.1 413.1L357.2 408.6L357.4 404.2L357.6 399.7L357.7 395.2L357.9 390.8L358.1 386.3L358.2 381.8L358.4 377.4L358.5 372.9L358.7 368.4L358.9 364L359 359.5L359.2 355L359.4 350.6L359.5 346.1L359.7 341.6L359.9 337.2L360 332.7L360.2 328.2L360.3 323.8L360.5 319.3L360.7 314.8L360.8 310.4L361 305.9L361.2 301.4L361.3 297L361.3 292.5L361.3 288L361.3 283.5L361.2 279.1L361.1 274.6L360.9 270.1L360.6 265.7L360.1 261.2L359.7 256.7L359.3 252.3L358.9 247.8L358.6 243.3L358.3 238.9L358.1 234.4L357.9 229.9L357.8 225.5L357.7 221Z" fill="#444"/>
<path d="M356.9 221L356.9 225.5L356.8 229.9L356.7 234.4L356.6 238.9L356.4 243.3L356.2 247.8L356.1 252.3L355.9 256.7L355.6 261.2L355.2 265.7L355 270.1L354.9 274.6L354.8 279.1L354.7 283.5L354.7 288L354.6 292.5L354.6 297L354.5 301.4L354.4 305.9L354.2 310.4L354.1 314.8L354 319.3L353.8 323.8L353.7 328.2L353.5 332.7L353.2 337.2L352.9 341.6L352.8 346.1L352.6 350.6L352.5 355L352.4 359.5L352.3 364L352.2 368.4L352.2 372.9L352.1 377.4L352 381.8L351.9 386.3L351.9 390.8L351.8 395.2L351.7 399.7L351.6 404.2L351.5 408.6L351.4 413.1L351.3 417.6L351.3 422.1L351.4 426.5L351.5 431L351.7 435.5L352 439.9L352.2 444.4L352.4 448.9L352.6 453.3L352.9 457.8L353.2 462.3L353.5 466.7L353.8 471.2L354.2 475.7L354.5 480.1L354.9 484.6" stroke="#0c0c0c" stroke-width="1.8" fill="none"/>
<path d="M354.1 484.6L354.3 480.1L354.5 475.7L354.6 471.2L354.8 466.7L355 462.3L355.1 457.8L355.3 453.3L355.5 448.9L355.6 444.4L355.8 439.9L355.9 435.5L356.1 431L356.3 426.5L356.4 422.1L356.6 417.6L356.8 413.1L356.9 408.6L357.1 404.2L357.3 399.7L357.4 395.2L357.6 390.8L357.8 386.3L357.9 381.8L358.1 377.4L358.2 372.9L358.4 368.4L358.6 364L358.7 359.5L358.9 355L359.1 350.6L359.2 346.1L359.4 341.6L359.6 337.2L359.7 332.7L359.9 328.2L360 323.8L360.2 319.3L360.4 314.8L360.5 310.4L360.7 305.9L360.9 301.4L361 297L361 292.5L361 288L361 283.5L360.9 279.1L360.8 274.6L360.6 270.1L360.3 265.7L359.8 261.2L359.4 256.7L359 252.3L358.6 247.8L358.3 243.3L358 238.9L357.8 234.4L357.6 229.9L357.5 225.5L357.4 221" stroke="#222" stroke-width="0.7" fill="none"/>
<path d="M354.9 221L354.9 225.5L354.8 229.9L354.7 234.4L354.6 238.9L354.4 243.3L354.2 247.8L354.1 252.3L353.9 256.7L353.6 261.2L353.2 265.7L353 270.1L352.9 274.6L352.8 279.1L352.7 283.5L352.7 288L352.6 292.5L352.6 297L352.5 301.4L352.4 305.9L352.2 310.4L352.1 314.8L352 319.3L351.8 323.8L351.7 328.2L351.5 332.7L351.2 337.2L350.9 341.6L350.8 346.1L350.6 350.6L350.5 355L350.4 359.5L350.3 364L350.2 368.4L350.2 372.9L350.1 377.4L350 381.8L349.9 386.3L349.9 390.8L349.8 395.2L349.7 399.7L349.6 404.2L349.5 408.6L349.4 413.1L349.3 417.6L349.3 422.1L349.4 426.5L349.5 431L349.7 435.5L350 439.9L350.2 444.4L350.4 448.9L350.6 453.3L350.9 457.8L351.2 462.3L351.5 466.7L351.8 471.2L352.2 475.7L352.5 480.1L352.9 484.6" stroke="#222" stroke-width="1.2" stroke-dasharray="0.8 3.2" fill="none"/>
<path d="M353.4 484.8H479.7" stroke="#111" stroke-width="1.5" fill="none"/>
<path d="M354.4 486.40000000000003H477.7" stroke="#111" stroke-width="2.2" stroke-dasharray="0.9 2.170" fill="none"/>
<path d="M369.8 484.8V490.2" stroke="#111" stroke-width="1.3"/>
<path d="M385.1 484.8V490.2" stroke="#111" stroke-width="1.3"/>
<path d="M400.4 484.8V490.2" stroke="#111" stroke-width="1.3"/>
<path d="M415.8 484.8V490.2" stroke="#111" stroke-width="1.3"/>
<path d="M431.1 484.8V490.2" stroke="#111" stroke-width="1.3"/>
<path d="M446.5 484.8V490.2" stroke="#111" stroke-width="1.3"/>
<path d="M461.9 484.8V490.2" stroke="#111" stroke-width="1.3"/>
<path d="M477.2 484.8V490.2" stroke="#111" stroke-width="1.3"/>
<path d="M472.5 288L476.9 484.6" stroke="#8a10c0" stroke-width="2.4" fill="none" opacity="0.45"/>
<path d="M473.9 288L478.3 484.6" stroke="#3c0c6a" stroke-width="1.2" fill="none"/>
<path d="M474.4 302h4.4" stroke="#111" stroke-width="1.3"/>
<path d="M475.0 329.7h4.4" stroke="#111" stroke-width="1.3"/>
<path d="M475.7 359.3h4.4" stroke="#111" stroke-width="1.3"/>
<path d="M476.4 388.4h4.4" stroke="#111" stroke-width="1.3"/>
<path d="M477.0 418.7h4.4" stroke="#111" stroke-width="1.3"/>
<path d="M477.8 451.4h4.4" stroke="#111" stroke-width="1.3"/>
<path d="M478.5 484.6h4.4" stroke="#111" stroke-width="1.3"/>
<g font-family='"Liberation Sans", sans-serif' font-weight="bold" font-size="9.9" fill="#111">
<text x="480.0" y="305.4">0</text>
<text x="480.6" y="333.1">500</text>
<text x="481.3" y="362.7">1000</text>
<text x="482.0" y="391.8">1500</text>
<text x="482.6" y="422.1">2000</text>
<text x="483.4" y="454.8">2500</text>
<text x="484.1" y="488.0">3000</text>
<text x="369.8" y="500.7" text-anchor="middle">5</text>
<text x="385.1" y="500.7" text-anchor="middle">10</text>
<text x="400.4" y="500.7" text-anchor="middle">15</text>
<text x="415.8" y="500.7" text-anchor="middle">20</text>
<text x="431.1" y="500.7" text-anchor="middle">25</text>
<text x="446.5" y="500.7" text-anchor="middle">30</text>
<text x="461.9" y="500.7" text-anchor="middle">35</text>
<text x="477.2" y="500.7" text-anchor="middle">40</text>
<text x="346.8" y="422.1" text-anchor="end">0.15</text>
<text x="346.8" y="445.4" text-anchor="end">0.1</text>
<text x="346.8" y="467.8" text-anchor="end">0.05</text>
<text x="348.2" y="488.6" text-anchor="end">0</text>
</g>
<path d="M347.6 418.7h5" stroke="#111" stroke-width="1.3"/>
<path d="M347.6 442.0h5" stroke="#111" stroke-width="1.3"/>
<path d="M347.6 464.4h5" stroke="#111" stroke-width="1.3"/>
<path d="M348.9 485.2h5" stroke="#111" stroke-width="1.3"/>
<rect x="394.9" y="413.2" width="78.5" height="38.6" fill="#fff"/>
<g font-family='"Liberation Sans", sans-serif' fill="#3c3c3c" font-size="11.5">
<text x="401.9" y="430" stroke="#3c3c3c" stroke-width="0.3">n = 2.5</text>
<text x="401.9" y="446.5" stroke="#3c3c3c" stroke-width="0.3">(x 10<tspan font-size="7.5" dy="-4" font-weight="bold">18</tspan><tspan dy="4">cm</tspan><tspan font-size="7.5" dy="-4" font-weight="bold">-3</tspan><tspan dy="4"> )</tspan></text>
</g>
<g font-family='"Liberation Sans", sans-serif' fill="#fff" font-size="29">
<text x="423.2" y="264.4" textLength="27" lengthAdjust="spacingAndGlyphs">L+</text>
<text x="399.0" y="392.2" textLength="22" lengthAdjust="spacingAndGlyphs">L-</text>
</g>
<g font-family='"Liberation Sans", sans-serif' font-weight="bold" fill="#111">
<text x="421.0" y="510.9" font-size="13.6" text-anchor="middle" textLength="97" lengthAdjust="spacingAndGlyphs">frequency (THz)</text>
<text transform="translate(315.5 422.8) rotate(-90)" font-size="13" text-anchor="middle" textLength="131" lengthAdjust="spacingAndGlyphs">intensity (arb. units)</text>
<text transform="translate(508.4 366.3) rotate(90)" font-size="14.5" text-anchor="middle" textLength="55" lengthAdjust="spacingAndGlyphs">time (fs)</text>
</g>
<g font-family='"Liberation Sans", sans-serif' font-weight="bold" fill="#111" font-size="18"><text x="43.8" y="232.3">(</text><text x="54.4" y="232.3">c</text><text x="68" y="232.3">)</text></g>
</svg>
</body></html>
